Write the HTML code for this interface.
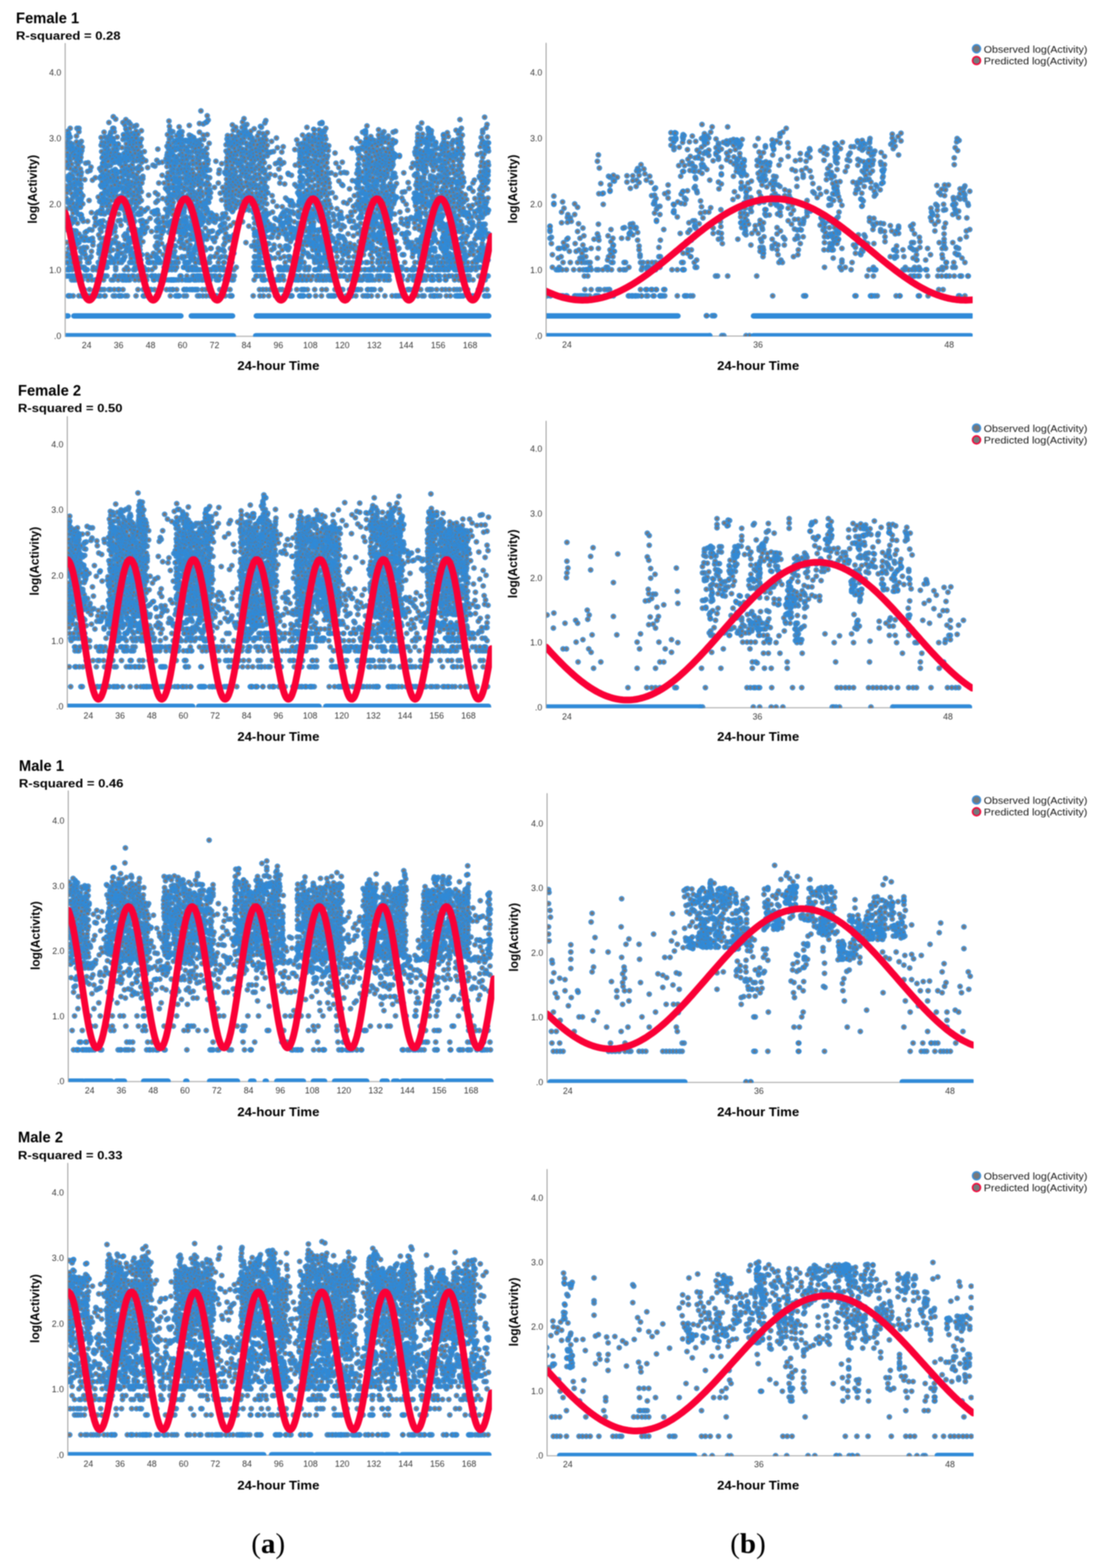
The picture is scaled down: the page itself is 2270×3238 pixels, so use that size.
<!DOCTYPE html><html><head><meta charset="utf-8"><title>Figure</title><style>html,body{margin:0;padding:0;background:#fff;}svg{display:block;filter:blur(1px);}</style></head><body><svg xmlns="http://www.w3.org/2000/svg" width="2270" height="3238" viewBox="0 0 2270 3238">
<defs><marker id="g" markerUnits="userSpaceOnUse" markerWidth="16" markerHeight="16" refX="8" refY="8" overflow="visible"><circle cx="8" cy="8" r="3.6" fill="#7a7270"/></marker><marker id="b" markerUnits="userSpaceOnUse" markerWidth="16" markerHeight="16" refX="8" refY="8" overflow="visible"><circle cx="8" cy="8" r="4.7" fill="none" stroke="#2f8ad8" stroke-width="2.2"/></marker></defs>
<rect width="100%" height="100%" fill="#fff"/>
<g>
<g font-family="'Liberation Sans', Arial, sans-serif">
<text x="33.0" y="48.0" font-size="30.5" font-weight="bold" text-anchor="start" fill="#000" >Female 1</text>
<text x="33.0" y="81.5" font-size="24.4" font-weight="bold" text-anchor="start" fill="#000" textLength="216" lengthAdjust="spacingAndGlyphs">R-squared = 0.28</text>
<line x1="134.6" y1="89" x2="134.6" y2="695.5" stroke="#a0a0a0" stroke-width="2"/>
<line x1="134.6" y1="694.5" x2="1015" y2="694.5" stroke="#a8a8a8" stroke-width="2"/>
<text x="126.6" y="155.8" font-size="18" font-weight="normal" text-anchor="end" fill="#3a3a3a" >4.0</text>
<text x="126.6" y="291.8" font-size="18" font-weight="normal" text-anchor="end" fill="#3a3a3a" >3.0</text>
<text x="126.6" y="427.8" font-size="18" font-weight="normal" text-anchor="end" fill="#3a3a3a" >2.0</text>
<text x="126.6" y="563.8" font-size="18" font-weight="normal" text-anchor="end" fill="#3a3a3a" >1.0</text>
<text x="126.6" y="699.8" font-size="18" font-weight="normal" text-anchor="end" fill="#3a3a3a" >.0</text>
<text x="179.0" y="718.5" font-size="18" font-weight="normal" text-anchor="middle" fill="#3a3a3a" >24</text>
<text x="245.0" y="718.5" font-size="18" font-weight="normal" text-anchor="middle" fill="#3a3a3a" >36</text>
<text x="311.0" y="718.5" font-size="18" font-weight="normal" text-anchor="middle" fill="#3a3a3a" >48</text>
<text x="377.0" y="718.5" font-size="18" font-weight="normal" text-anchor="middle" fill="#3a3a3a" >60</text>
<text x="443.0" y="718.5" font-size="18" font-weight="normal" text-anchor="middle" fill="#3a3a3a" >72</text>
<text x="509.0" y="718.5" font-size="18" font-weight="normal" text-anchor="middle" fill="#3a3a3a" >84</text>
<text x="575.0" y="718.5" font-size="18" font-weight="normal" text-anchor="middle" fill="#3a3a3a" >96</text>
<text x="641.0" y="718.5" font-size="18" font-weight="normal" text-anchor="middle" fill="#3a3a3a" >108</text>
<text x="707.0" y="718.5" font-size="18" font-weight="normal" text-anchor="middle" fill="#3a3a3a" >120</text>
<text x="773.0" y="718.5" font-size="18" font-weight="normal" text-anchor="middle" fill="#3a3a3a" >132</text>
<text x="839.0" y="718.5" font-size="18" font-weight="normal" text-anchor="middle" fill="#3a3a3a" >144</text>
<text x="905.0" y="718.5" font-size="18" font-weight="normal" text-anchor="middle" fill="#3a3a3a" >156</text>
<text x="971.0" y="718.5" font-size="18" font-weight="normal" text-anchor="middle" fill="#3a3a3a" >168</text>
<text x="575.0" y="764.0" font-size="26.5" font-weight="bold" text-anchor="middle" fill="#000" textLength="169.5" lengthAdjust="spacingAndGlyphs">24-hour Time</text>
<text transform="translate(75.6,390.8) rotate(-90)" font-size="26" font-weight="bold" text-anchor="middle" textLength="142" lengthAdjust="spacingAndGlyphs">log(Activity)</text>
<clipPath id="c0L"><rect x="135.6" y="89" width="880.4" height="606.5"/></clipPath>
<g clip-path="url(#c0L)">
<defs><path id="p1" d="M137 298l0 86l0 25l1 92l0-103l0-8l0-44l0 177l0-201l0 152l0-43l0-125l0 28l0 196l0 40l0-28l0-173l0 99l0-11l1-141l0 99l0-122l0 264l0-15l1-178l0-84l0-9l1 195l0-5l0-120l0 270l0-161l0 92l0-123l0-134l1 285l0-13l0-191l0-88l0 235l0-237l0 335l0-238l1 80l0 99l0-247l0 21l0 231l1-31l0-134l0 69l0-2l0-137l0 248l1-189l0-33l0 12l0 57l0 194l0-302l0-14l0-30l0 66l0 37l0 59l0 38l0-182l0 243l0-151l1 158l0-25l1-59l0-62l0 146l1 19l0-213l0 231l0-54l0-104l0-110l0 98l0 75l0 103l0-146l1-117l0 242l0-15l0-82l1-155l0-7l0 65l0 207l1-150l0 113l0-93l0 171l0-205l0 136l0-84l1 120l0-226l0 17l0-58l1 166l0-24l0 36l0-163l0-6l0 60l1 6l0 184l0-74l0-6l0-62l0 64l1-90l0 50l0-62l0 40l0 47l1 8l0 18l0-184l0-10l0 38l0 30l0 201l1-180l0 79l0-123l0 157l1-89l0-115l0 187l0-61l0 5l0 58l0-161l0 222l0-264l0-12l1 123l0-139l0 272l0-166l1-43l0 133l0-69l0 111l0-92l0 90l0-121l1 37l0-95l0-21l0 141l0 110l0-192l0 141l0-161l1 193l1 78l0-128l0-173l0-38l0-7l0 236l1-122l0-48l0 81l0-98l0-2l0 85l1 155l0 18l0-28l0-130l0 14l0-30l0-100l1 149l0-112l0 16l0 184l0-162l0 57l1-12l0-54l0 157l0-202l0 71l0-63l0 118l0-44l0 114l0-132l1-89l0 160l0-8l0-34l0 82l0-136l1-45l0 300l0-122l1-185l0 274l0-26l0-101l0 72l1-119l0 207l0-190l1 36l0 113l1-59l0-15l1 23l0 79l0-46l0 59l1-240l1 186l0-31l0-46l0 16l1-159l0 153l0 67l1 13l0-37l0 24l1-46l0-33l1 92l0-13l1-15l0-85l0-103l1 142l0 115l0-275l0 242l2-164l0 82l0 46l1 28l0-96l0 124l0-65l1-181l0 144l0 115l0-117l1 76l1-225l0 185l1-11l0-80l1 139l0-103l1-103l0 120l1 7l0 7l0 51l0 54l1-59l3 46l0-132l0-16l1-83l0 83l0 148l0-20l1-119l0 152l1-170l0 157l1-41l0 21l2-116l0-24l1 104l0 10l0-145l1 116l0-38l0 126l1-95l0-8l1 90l0-46l0-136l0 126l0-194l0 110l1 61l0 23l0-69l0 138l0-243l0 124l1-33l0-18l0 75l0-133l0 150l0-168l0 192l0-100l0-23l1 89l0-12l0-96l0-115l0-16l0 194l0-125l1 245l0-285l0 73l0-22l0 139l0-38l0 92l0-156l1-57l0-50l0 133l0 125l0-176l0 44l0 86l0-180l0 115l0 129l0-136l1-97l0-13l0 77l1-42l0 25l0 132l0-60l0 96l0-140l0-4l0 60l0-131l1-2l0 46l0 197l0-26l0-143l1 189l0-325l0 253l0-224l0 15l0 175l1-103l0 53l0-45l0 214l0-41l0-205l1 187l0-135l0-123l0 205l0-127l0-43l0-46l0 328l0-270l0 229l1-219l0-43l0 198l0 36l0-19l0-161l0 190l0-51l0-89l0 6l1-99l0 62l0 125l0 46l1-209l0 54l0-14l1 159l0 10l0-227l0 100l0-121l0 65l0 8l0 193l1-92l0-163l0 86l0-116l0 153l0-25l1-70l0 124l0-106l0-28l0 127l0 51l0-24l0-93l0 77l1 40l0-218l0 127l0-110l0 232l0-108l1-79l0 243l0-345l1 224l0 31l0-41l0-4l0-182l1 238l0-196l0 207l0-155l0 131l0-207l0 106l1-15l0-75l0 283l0-56l0-265l0 226l0-136l0 73l0-98l0 110l1-162l0 136l0-153l1 209l0-5l0-63l0 119l0 45l0-193l0 82l0 11l1-149l0 69l0 68l1-175l0 62l0 21l0 85l1-55l0-42l0-35l0-62l0 231l0-104l0-56l0 180l0-230l1 22l0 234l0-112l0 107l0-250l0 160l0 26l0-232l0 370l0-33l0-204l0 30l0-111l1 28l0 13l0 19l0 189l0-277l1 175l0 61l0-229l0 326l0-232l0-51l1 163l0-65l0 157l0-104l0-84l0-82l1 170l0-76l0 217l0-276l0 164l0-149l0 76l0-129l1 99l0-89l0 245l0-198l0-108l0 127l0 184l0 13l0-246l1 165l0-176l0 78l1 14l0-46l0 174l0-179l0 176l0-155l1-67l0 218l0-243l0 73l1 174l0-163l0 149l0-90l0-101l1-28l0 159l0 122l0-280l0 88l0 212l0-207l0 20l0 97l1-188l0 109l0 113l0-39l0-61l0-108l0-3l1 280l0-13l0-278l0 106l1-101l0 53l0 192l0-185l0-47l1 273l0-277l0 94l0 95l0-168l1 156l0-84l0-22l0 50l0-35l1 10l0 35l1-111l0 55l0 202l0-205l0-40l0 22l0 154l1-19l0-218l0 232l0-115l0-92l0 240l0-226l1 44l0 190l0-167l1-158l0 345l0-185l0-125l1 282l0-193l0 129l0 31l0-210l0 70l0-119l0 94l1-55l0 170l0-135l0-72l0 253l0-117l0-23l0 177l0-209l0 217l0-154l0 84l1 49l0-122l0-111l1 25l0 59l0-18l0 140l0-244l0-28l0 76l0 83l0 153l0-252l0 56l1 120l0-11l0-57l0 17l0-85l0-31l0 284l0-271l1-93l0 19l0 183l0 129l0-59l0-64l0-4l1-139l0-6l0 115l0-31l0-30l0 72l0-51l0-84l0 281l0-310l1 284l0-155l0 88l0 31l0-190l1 24l0-75l0 55l0 91l0-135l0 32l0 293l0-98l1-7l0-74l0-16l0-44l1 206l0-148l0-76l0 149l0-108l0 162l0-153l0-73l0 33l0 21l0-65l0 250l1-291l0 99l0 97l0-168l0 185l0-206l0-34l0 242l1-21l0-11l0-118l1 234l0-36l0-277l0 61l0-28l0-6l1-36l0 260l0-126l0 33l0 96l0-204l0 186l1-5l0 30l1-70l0-73l0 18l0-51l0 13l0 179l0-29l0 20l0-101l1 6l0-163l0 101l0 116l0-207l0 132l1-112l0 35l0-19l0 139l0-48l0 34l0 124l1-135l0 55l0-132l0 184l0-19l1-29l0-167l0-36l0 159l0-153l0 36l0 132l0-4l0 62l0-71l1 118l0-13l0-65l0-9l0-86l0 7l0 92l1-130l0 124l0 36l0-217l0-32l0 108l0-124l1 170l0-153l0 70l0 109l1 95l0-174l0 152l0 27l0 21l0-261l1 103l0-135l1-14l0 271l0-9l0 78l0-198l0-118l0 179l1-170l0-45l0 167l0-35l0-30l0 172l0-34l0-167l0 38l0 124l0-209l1 157l0 81l1-24l0-96l0-56l0 166l0 39l0-227l1 205l0 68l0-321l0 293l0-260l0 67l0 134l1 12l0-204l0 76l0 142l0-183l1 126l0-62l0 21l0 4l0 135l0-75l0-20l1-187l0 246l0-174l0-37l0 163l0 39l0-126l0-64l0 40l1 6l0 127l0-8l0-215l1 196l0 68l0-77l0-24l0 114l1-96l0 78l0-230l0 215l0-235l0 173l0 3l0-47l0-116l0 127l0 84l1-239l0 127l0-65l0 208l0-287l0 126l1-18l0-43l0 191l1-61l0 105l0-115l0 7l1-134l0 171l0-135l0 214l0-113l0-96l1 201l0 41l0-13l1-116l0 70l0 59l1-298l0 123l0 121l1-77l0 131l1-177l0 164l0-139l0 98l0-83l1-142l2 246l0-120l0 112l1-100l0 56l1-96l0 103l0-187l0 265l1-54l0-15l1-139l1 139l1 56l1-56l0-91l2 147l0-68l1-52l0 92l1-132l0 132l0-13l2-216l0 201l0 28l1-47l0 55l2-142l0 6l0 156l0-20l1-8l0-227l0 95l0 114l1 18l0-40l0-132l0 110l1-19l0-71l0 108l1 85l0-69l0-86l1-125l0 104l0 36l0 42l0 20l0-56l1-43l0 4l0 63l1-99l0 51l0-145l0 106l0 123l1-77l0 11l0-28l0 63l0 105l0-122l0 44l1 37l0-28l0-206l0 42l1 159l0 41l0-59l1-60l1 11l0 108l1 20l0-106l0 50l1 28l1-67l0-20l0-6l1 101l0-216l0-27l0 235l1-160l0 65l1 51l0-77l0 121l0-112l0 120l1-101l1 75l0-174l0 90l2 84l0-41l1 46l0-125l0 101l0-144l0 189l0-41l1-7l0-14l0-188l1 229l0-142l0 183l0-207l1-25l0-45l0 14l0-33l0 146l0-104l0 115l1-15l0-7l0-71l0-50l0-38l0 131l1-52l0 64l0 41l0-67l0-23l1-65l0 28l0-6l0 138l0-172l0 211l0 24l0-149l0 176l0-49l0 11l0-87l0 146l1-98l0-157l0-73l0 213l1-62l0-114l0-26l0 255l0-127l0 48l0 96l1 9l0-128l0 184l0-121l0-176l0-32l1 237l0-163l0-32l0 267l0-214l0 43l0 204l0-185l0 32l0 94l1-235l0 182l0-226l1 79l0 226l0-207l0-88l0 51l0 143l0 17l1-179l0 263l0-21l0-226l0 125l0 86l1 56l0-196l0 23l0-37l0 23l0-56l0-35l1 258l0-117l0-5l0 142l0-166l0-160l0 171l0 109l1-164l0-30l0 150l0-213l0 26l0 60l0-75l0 97l0 123l0-108l0-69l1 229l0-84l0 29l0-181l1 188l0-133l0 181l0-36l0-207l0 143l1 41l0-67l0-84l0 7l0 133l0-217l0 97l1 120l0-142l0 191l0-264l0 17l0 145l0-52l0-63l1 202l0-172l0 241l0-307l0 69l1 205l0-243l0-10l0-1l1 118l0 36l0 74l0-223l0-49l0 318l1 13l0-203l0-118l0 16l0 70l1 63l0 94l0-175l0 33l0 3l0-7l0-37l1 261l0-133l0 64l0-155l0-33l0-58l1 12l0 64l0 206l0-136l0-65l1-103l0 225l0-211l0-11l0 334l0-197l0-120l0 111l0 65l0-73l0 42l0-107l0-70l1 58l0 153l0-49l0 37l0-94l0 67l0-77l0 18l0-32l1-58l0 102l0 78l0-192l0 297l0-114l1 38l0 17l0-24l0-7l0-171l1 128l0 133l0-268l0 141l0-14l0-48l0 75l1 38l0-55l0-159l0 69l1-53l0 116l0-74l0-66l0 258l0 48l0-75l0-104l0-110l0 28l0 13l1 203l0-127l0-38l0-45l1 33l0 81l0 43l0-2l0-26l1 100l0-70l0-11l0-170l1 310l0-224l0 51l0 160l0-182l0 90l0-28l0-44l1-41l0 159l0-97l0 58l0 85l0-133l0-117l1-9l0 119l0-30l0 102l0 12l0-232l0 165l0-185l1 197l0-110l0 31l0 170l0-26l1-101l0 16l0-112l0 119l0-26l0 94l0-212l0 32l0-41l1-31l0 132l0 40l0-6l0 155l0-242l0 229l1-219l0 219l0-293l0 194l0-144l0 223l0-95l0 87l0-278l1 250l0-214l0 17l0-34l0 102l0 129l0-168l1-10l0 26l0 167l0-154l0 149l0-239l1 203l0-225l0 287l0-237l1 201l0 15l0-91l0 45l0 12l0-175l0 64l1-19l0 31l0-86l0 21l0-100l0 20l0 299l0-255l0-22l0 72l0-7l1-52l0 156l0-182l0 242l0 68l1-104l0-9l0-191l0 138l0 146l0-72l0-88l1-17l0 84l0-12l0-86l1 51l0 99l0-11l0-78l0-11l0-58l0 154l0-252l1 126l0 150l0-63l0-44l0 8l0 140l0-130l0 84l0-79l1-80l0 49l0 26l0-118l0-26l0-21l1 220l0 75l0-233l0 122l0 65l0-179l0-42l0 121l0-28l0-111l0 257l1-104l0 11l0-138l0 218l0-200l1 159l0-219l0 236l0-101l0 28l0-176l0 2l0 98l0 29l1 32l0 125l0-173l0 136l0-10l0 55l0-200l1-87l0 179l0-18l0 61l0 85l0-104l0-88l1-100l0 272l0-21l1-41l0-27l0 53l0 0l0-96l0-21l0-56l0 106l0 8l0 69l1-238l0 199l0-176l0 261l0-90l0-16l0-24l1 89l0-258l0 102l0 169l0-121l0 16l0-103l0 216l0-93l1-14l0-38l0-106l0 86l0 83l0 7l0-41l0 46l0-161l1 223l0 41l0-320l0 30l0 100l0 78l0 99l1-157l0 25l0 91l0-77l0-107l0 78l0-70l0 57l1 27l0 105l0-33l0-24l0-58l0 13l0-101l0 100l1-163l0 192l0-165l0-17l0 264l0-184l0-98l0 130l1-18l0 134l0 28l0-315l0 100l0 171l0-253l0 338l1-78l0-56l0 42l0-11l0-107l0-62l0 126l0 92l1-15l0-100l0-153l0 35l0 53l0 134l0-149l0 25l0 51l1 75l0-70l0-96l0-118l0 265l0 76l0-152l0 35l1-5l0-148l0 71l0 119l0-179l0 152l1 60l0-22l0 5l0-26l0 98l0-182l1 9l0 23l0 170l1-148l0 8l0 153l0-95l0-60l0 31l0 91l0-225l0-37l1 106l0 67l0-109l0-124l0 103l0 198l0-233l0 170l0-215l1 9l0 50l0 113l1 91l0-31l0-164l0-36l1 104l0 74l0-63l0 7l1-69l0 214l0-197l0 106l0-16l1-51l0 150l0-13l0-115l0-78l0-111l0 263l0 82l1-169l0-78l0 1l0-7l0-20l0 74l0 212l1-117l0-188l0-54l0 79l0 83l0-96l0 72l1-151l0 194l0-155l0 98l0-24l0 14l1 176l0 36l0-140l0 18l0-118l0 232l1-162l0-160l0 239l0-71l0-85l0 226l1-139l0-13l0 55l0 18l0-83l1-13l0-86l1 71l0 175l0-9l0 45l0-128l0-99l0 41l1 219l0-54l0-149l0 170l1-65l0 17l0-132l0 172l0-118l1-12l0 158l0-28l0-92l0-35l0 70l1 44l2-114l0 49l0-15l0 134l1-117l1-37l0 113l1-120l0 102l1-165l0 112l0 31l1 27l0-98l0 111l1-18l0 18l0 41l1-121l0-157l1 120l0 104l0-112l0 133l1 33l0-88l2-41l0 96l1-36l0-164l0 102l0 33l1 65l0-220l1-7l0 219l0-37l0 19l1 46l0-28l1-93l0-78l0 53l0 15l0 90l1-80l0 39l1-51l1-52l0-75l0 192l1 68l1-46l0-110l0 8l0 12l0-75l1 170l0-41l1 26l0-36l0-110l0 77l0 125l1-79l0-72l0 110l0-15l1-186l0 201l0-65l0 86l0-117l0 137l1-97l0 69l0-40l0 81l1-13l0-193l0 77l0-41l0-82l1 41l0-101l0 13l0 112l0-9l1-66l0 122l0-81l0-20l0 200l0-190l0-46l1 25l0 71l0-104l0-39l0 55l1-25l0-37l0 209l1-196l0 158l0 127l1-291l0 246l0-178l1 49l0-95l0 67l0 11l0-88l0 96l0 19l0 82l1-7l0-69l1-87l0 265l0-166l0 179l0-248l1 194l0-234l0 47l0 143l0-47l1 76l0-248l0 133l0-45l0-67l1 34l0 262l1-309l0 309l0-269l0-62l0 262l0-19l0 47l0-167l0 175l0-219l1 36l0-67l0 81l0 28l0-179l1 160l0 71l0-54l0-49l0-11l1-106l0 97l0-78l0 290l1-21l0-72l0 38l0-229l0 26l0 140l1-154l0 264l0-221l0-53l0 39l1 78l0-52l1-47l0 15l0-46l0 146l0-47l0 20l1-47l0-92l0 109l1 180l0-129l0-31l1-101l0 29l1 17l0-38l1 117l0-39l1-34l0 23l0-94l0 9l1 29l0 94l1-7l0-66l0 54l1-81l0-10l1 127l0-84l1-62l0 77l0 21l0-9l1-49l0 115l0-51l0-91l1 104l0 14l0-84l0-45l1 66l0-11l0 26l0-95l0 152l1-163l0 172l0-116l0-13l0 163l1-110l1 38l0-114l1 130l0-117l0 29l0-69l0 80l1 109l0-26l1-129l0-19l0 73l0-66l1 85l0 13l0 49l1-38l0 125l0-80l0-62l0-50l0-14l1-22l1 124l0-80l0 28l0-88l1 173l0-46l0-108l0 25l1 107l0-40l0-29l1-13l1 141l0-189l0 74l0 50l0-10l0-29l1 16l0-94l0 149l0-19l1-101l0 7l1-18l0-23l0 142l0-125l1-26l0 69l1 29l0-39l0 52l0-35l1 161l0-154l0-44l0 89l1-108l0-6l1 122l0 9l0-28l0-71l1 294l0-312l0 24l0 14l1 40l0 53l0 122l0-186l0 142l0-69l0 34l1-23l0 92l0 36l0-312l1 65l0 199l0-180l0 149l0-12l0 70l0-96l0 21l0-42l0 117l0-27l1-50l0-69l0 14l0-134l0 146l0 115l1-44l0 34l0-235l0 53l0 22l0 134l1 41l0-77l0-167l0 76l0 181l0-225l0 101l1-76l0 87l0-135l0 128l0-51l1 35l0 136l0-28l0-64l0 79l0-27l1-45l0-157l0 78l0 95l0-57l0-163l0 157l0-139l0 116l1 72l1 21l0-125l0 99l0-60l0 39l0 5l1-106l0-50l0 232l0-77l0-125l0 143l0 69l0-278l0 222l1 61l0-207l0 248l0-309l0 112l0 49l0 66l0 14l0-99l0 102l0-10l0 19l1-153l0 222l0-295l0-12l0 176l1 33l0 3l0-148l0-33l0-11l0 134l0 112l0-309l0 209l1-175l0 192l0-71l0 57l0 69l1-135l0-30l0 122l0-104l0-132l0 196l1 33l0 65l0-129l0 21l1 18l0 111l0-232l0 196l0-48l0-140l0 104l0 45l0-216l1 311l0-135l0-152l0 246l0-281l0 166l0-140l0 27l0 149l1 92l0-200l0 90l0-72l0 97l0 93l0 33l1-69l0-247l0 124l0 27l0 36l0 96l0-139l0 48l1 36l0-187l0-14l0 194l0-13l0-100l0 55l1-83l0 167l0-12l0-17l0-130l0 107l0-209l0 70l0-97l0 104l0 220l0-111l1-57l0-18l0 42l0 18l0 15l1 66l0-225l0 203l0-22l0 34l0-76l0-198l1 228l0-188l0 309l1-177l0 21l0-55l0 57l0-45l1 153l0-230l0 181l0-229l0 26l0 157l0-143l0 51l1 110l0-77l1 135l0-3l0-162l1 243l0-108l0 49l0 5l1-116l0-96l1 129l0-159l0 263l0-115l0 67l1 68l0-238l0 130l1 80l0-102l1 5l0-159l0 219l0 24l0 13l1-54l0-224l1 198l0-20l0-66l1 34l1-22l0 182l0-115l1-170l0 153l1 132l0-92l0 7l0 65l1-101l1-115l0 216l0-45l0-82l1 160l0-273l0 240l1-125l1-168l1 293l0-152l1 47l0-168l1 169l0 16l0-154l1 216l0-97l0 68l1 47l0-221l0 229l1-21l0-74l1-26l0-79l0 179l0 41l0-268l0 248l0-70l1 25l0-166l0 185l1-87l0-18l1-108l1-25l0 134l0 122l0-13l1 41l0-82l0-74l0-15l1 34l0 14l0-8l0-4l1-160l0 254l0 13l1-132l0 173l0-275l0 242l1-21l0-27l0-47l0-43l1-60l0 172l1-10l1-34l0 44l0-79l0-14l0 23l0-73l1 38l0 164l0-153l1-24l0 16l0 63l0-24l1 68l0-72l0 9l0 14l1 44l0-139l1 103l0-59l0-99l1 172l0-77l0-93l1 76l0 75l0-63l0 15l1 67l0-63l0-51l0 121l1 74l0-13l0-159l1 16l0-40l0 65l0 19l0-75l1 154l0-105l0 84l1-63l0-11l0 128l0-249l0 53l1 155l0-97l0 138l1-174l0 37l1-53l0 157l0-89l0-18l0 71l1-117l0 50l1 82l0-116l0 49l1-32l0 112l1-189l0-72l1 164l0-132l0 229l0-18l0 5l1-70l0 32l0 59l1-8l0-93l0 29l1 27l0-148l0 95l0 3l0 115l0-309l1 253l0-65l1 19l0-98l0 180l0-26l1-254l0 196l0-70l0 22l0 15l0-24l1 141l0-21l0-90l0-66l0 21l0 26l1 89l0-26l0-48l0-47l0 136l0-149l0-67l0 58l1 105l0-156l0-30l0 14l0 169l0 115l0-193l1 152l0-28l0-167l0 72l0 54l0-181l0 90l0-103l0 77l0-18l0-11l0 47l1-79l0 247l0-18l0-199l0 90l0 168l0-246l1 39l0 12l0-119l0 245l0-9l0-149l0 47l1 167l0-20l0-264l0 103l0 194l0-200l0-41l1-16l0 28l0 101l0-8l1-89l0-107l0 227l0-139l0 159l0-193l0-16l1 281l0 13l0-92l0-98l0 157l0-243l0 181l0-220l0 111l1-101l0 305l0-92l1 23l0-143l0 171l0-71l0-147l1-26l0 6l0 73l0 193l0-136l0-44l0 10l1 129l0-145l0-73l0-51l0 182l0-172l1 124l0 26l0-134l0 123l0 115l1 26l0-144l0 65l0-60l0-84l0 135l0-116l1 20l0 19l0 64l0-162l0-3l1 28l0 238l0-72l0-103l0-24l0-71l0-45l1 226l0 34l0-198l0 97l0 10l0-131l0 152l0 145l0-205l1-45l0 13l0-80l0 133l0-41l1 197l0-236l0-46l0 238l0 85l0-122l0 68l1-27l0-251l0 168l0-129l0 126l0 8l0 100l1-185l0 134l0-208l0 318l0-306l1 185l0-20l0-40l0 69l0-16l0-5l0-75l0-18l1 85l0 5l0-15l0-122l0 103l0 62l0-191l1 48l0 218l0-247l0 20l0 152l1-93l0 58l0-26l1-44l0-54l0 98l0 25l0 3l0-19l0 57l0-90l0-45l1 128l0-112l0-89l0-8l0 152l0 86l1 40l0-125l0-162l0 190l0 43l1-51l0-145l0-11l0 26l0 98l0 37l1-67l0-44l0 100l0-192l0 220l0-38l0 57l1-12l0-217l0-9l0 209l1-80l0 136l0-58l0-106l0 188l0-174l0 26l0-63l0 191l0-96l0 157l0-92l0 36l1-213l0-14l0-28l0 6l0 131l1 92l0 95l0-54l0-51l0-65l0-119l0 177l1-69l0 73l0-60l1 135l0-276l0 122l0 92l0-115l0-61l1 183l0-112l0-48l0-15l0 4l0 205l0-20l0-95l1 84l0 44l0-83l0-139l0-6l1 20l0 40l0 106l0-16l0 78l0-28l0-149l0-9l0 91l0-120l1-22l0 85l0-122l0 182l0-161l0 58l0-65l0-25l0 167l0-42l0-107l0 223l1-258l0 302l0-292l0 218l0-66l1 25l0-168l0 265l0-36l0 62l0-103l1 82l0-101l0 96l0-297l0 67l0 48l1 124l0 48l0-196l0 144l0-40l1 61l0-3l0 8l0-110l0 127l0-135l1-63l0-62l0 297l0-209l0 91l0-33l0 192l0-303l0 244l0-271l0 230l0-217l1 239l0-180l0 184l0-24l0 85l0-343l0 220l0-42l0-117l0 63l0 63l0-189l0 250l1 30l0-97l0 142l0-75l0-112l0-104l0 184l1-141l0-59l0 153l0-122l0 159l0-23l1-69l0 164l0-34l1 79l0-75l0-20l0-41l1-171l0 281l0-84l0-68l0-57l0-22l0-11l0 73l0 128l1 12l0-7l0 54l0-113l0-176l0 134l1 111l0-134l0 67l0-161l1 201l0-69l0 60l0-15l0 12l0-222l0 92l0-70l0 255l0-176l0 10l1 222l0-90l0 70l0-273l0 214l0-96l0 83l0 27l0-39l1-37l0-130l0 78l0-69l1 11l0 186l0-77l0 7l0-19l1 108l0 18l0-28l0-85l0-135l0 146l1-157l0 212l0-7l0-146l0 101l0-20l1 101l0-84l0-29l0 103l0-241l0 57l0 253l0-59l0-138l1-36l0 21l0-12l0 80l0 49l1-94l0 36l0 41l0 20l0 51l0-28l0 36l0-101l2 65l0 69l0-41l0-78l0 65l0-70l1-58l0-72l0 221l2-82l0-98l0 118l0 95l1-95l0 62l1-86l0-50l1 169l0-98l0-67l1 132l0-21l0-102l1 156l1-295l0 262l0 20l0-131l1 34l0 10l0-150l0 47l1-71l0 176l1-12l0 18l0 33l1-10l0-12l0-99l1 167l0-133l1-4l1 26l1 83l0-126l0-98l0 146l0-118l0 129l1-16l1-36l0 160l1-41l1-96l0 124l0-241l0 200l0-112l0 5l0-12l1 81l0 23l0-52l0 23l1-132l1-46l0 130l0-14l0 86l1-154l0 106l0 109l1-28l0-44l1-18l0-90l1 50l0 55l0-29l0-138l1 214l0-54l0-10l1-7l1 53l1 59l0-54l1-200l0 154l1 12l0-103l0 122l1 36l0-21l0-109l1 35l1 128l0-92l0 11l1 27l1-167l0 208l0-56l0-85l1 46l0 67l0-157l1 43l0 155l0-13l0-87l1-73l1 7l1-139l0 246l0 59l1-33l0-8l0-100l0-97l1 184l0-44l0 85l0-28l0-28l1 36l0-91l0 83l0-113l0-31l1 104l1-126l0 102l0 64l1-134l0 162l1-224l0 224l0-127l1 71l0 69l0-92l1-53l0-44l1-64l0 30l0-102l1 292l0-267l0-4l0 223l0-152l1 220l0-61l0-112l0-85l0 142l0-131l0 247l1-87l0 22l0-133l0-24l0 6l0-70l0 156l0-53l0-45l1 60l0-112l0 30l0 7l0 187l0 28l0-120l0-112l0-10l0 77l1 94l0-110l0-26l1 59l0 156l0-48l0 7l0-4l1-240l0 237l0 12l0-236l1 128l0 15l0-4l0 16l0 96l0-38l0 79l1-120l0-67l0 131l0-143l1-75l0 254l0-104l0 15l0 27l0-143l0 76l0-8l1-86l0 137l0-65l0 151l0-211l0-59l0 90l1-125l0 240l0-124l0 27l1 195l0-309l0 66l0 128l0-128l0 47l0-16l1 107l0-94l0 114l1-195l0 239l0-170l0 90l0-149l0 229l1-54l0-245l0 24l0 262l0-146l0-16l1-22l0 4l0 55l0 50l1 129l0-306l0-32l0-3l0 108l0 179l0-127l0-80l0-73l0 145l1-108l0 47l0 6l0 146l0 29l0-139l0-116l0 7l0 177l0-58l0 86l0-197l0 22l1 17l0 229l0-284l1 64l0-90l0 180l0-146l0 212l0-29l0 101l0-206l1 239l0-283l0 33l0 55l0-31l0 157l0 56l1-106l0 119l0-254l0 45l0-65l0-40l0 86l1 128l0 46l0-153l0 194l0-210l0 190l0-8l1-152l0-111l0 128l0-39l0 37l0-113l1 10l0 122l0-88l0 9l0-33l0-44l0 189l0-101l0 43l0-24l0 98l0-147l1 157l0-8l0-58l0 125l0 8l0-117l0-22l0 32l0 86l1-31l0-90l0 16l0-140l0-23l0 281l1 28l0-316l0 275l0-49l0 5l1 57l0-159l0 200l0-266l0-20l0 68l1 53l0-158l0 12l0 187l0-66l0 121l0-80l0-28l1 85l0 59l0-150l0-44l0 214l0-65l0-177l0-22l0 172l1-47l0 19l0-111l0 36l0 149l1-87l0-90l0-61l0 127l0-133l0 175l0 13l0-145l1 206l0-105l1-162l0 99l0 96l0-14l0 127l0-109l1 89l0-119l0-17l0-30l1-90l0 21l0-47l0 78l0 6l0-42l0 83l0-23l0 52l1-91l0 133l0 27l0-137l0 77l1 54l0-109l1-92l0 64l0 71l0-117l0 90l0 41l0 29l0-40l0-95l0 37l1 40l0-50l0 110l0-122l0-68l1 240l0 15l0 13l0 41l0-263l0-8l0 72l1 114l0-206l0 179l0-139l0 177l1-138l0 127l0-59l0-174l0-14l0 203l0-214l1 19l0 193l0-55l0 153l0-131l1-113l0 182l0 54l0-243l0 225l1-113l0-22l0 153l0-100l0 56l0-154l0-20l0 137l0-82l0-63l0 141l1-175l0 288l0-41l0-15l0-60l0-117l0 131l0-11l0 7l1-44l0-150l0 134l0-116l1 81l0-12l0-93l0 211l0-55l1 85l0-175l0 92l0 11l0 7l0-130l0 232l0-119l0-129l1 118l0-156l0 198l0-59l0-11l0 41l0-63l0 162l0-276l1 207l0-152l1 221l0-56l0-122l0-67l0 73l0 94l0-130l1 169l0-48l0-193l0 89l1 131l0 86l0-224l0 48l0 117l0-87l1 110l0-155l0 136l0 47l0-285l0 326l0-290l0 185l0-213l0 210l1 30l0-32l0-133l0 50l0-84l0 74l0 58l0-126l1 230l0-71l0-172l0-13l0 137l0 7l1 4l0-66l0 107l1 54l1-89l0-110l0-9l0 229l0-214l0 38l0 36l1 36l0-89l0-78l0 189l0 30l0-111l0 36l0-165l0 158l0-121l0 247l1-57l0-87l0-145l0 169l0 107l0-27l1-121l0 133l0 10l0-256l0 215l0-70l0-105l0 7l0 227l0-150l1 158l0-113l0 92l0-15l0-74l0-32l1-3l0-104l0-14l0 132l0 28l0 77l1-160l0-13l0 124l0 8l0 46l0-105l1-15l0 62l0-95l0-54l0 156l0 27l1-118l0 115l0-227l1 239l0-219l0 154l0-48l0-44l0-76l0 60l0 73l1 115l0 54l0-267l1 208l0-154l0 159l0-82l0-141l0-45l0 8l1 222l0-203l0 47l0 145l0-117l0-118l0 67l0 19l1 108l0 90l0-230l0 39l0 55l0-104l1 100l0 91l0 49l1-172l0 57l0-84l0 47l1 7l0 68l0-186l0 30l0-5l0 207l0-61l0 77l1-176l0 42l0-86l0-51l0 340l0-319l1 207l0 43l0 15l1-150l0-28l0 29l1 134l0 69l1-95l0-42l3 39l0 98l1-290l0 2l1 115l1 114l0 18l1-13l1-97l0-8l1 126l0-169l0 202l0-59l0 18l0-87l0 115l1-72l0-129l0 173l1-87l1-68l1 48l0-106l0 169l2 16l0-50l0-96l1 87l1 18l1-79l0 135l0-65l1-40l1 7l0 98l0-77l1-13l0 111l0-67l0 87l0-164l1-57l0 122l0-38l1 21l1-93l0 209l0-90l1 62l0 28l1-146l0 51l1 5l1-59l1 108l0-211l1 211l0-56l0 110l1-81l0-14l1 54l0-47l0-186l0 261l1-82l0 41l0 21l0-127l0 147l1-46l0 5l0 21l0-168l1 50l0-98l0 37l1-85l0 94l0 100l0 34l0-71l1-152l0 106l0-8l0-4l0 106l0-178l0 237l1-8l0-171l0-17l0 131l0-154l0-53l1 141l0-43l0 112l0-99l1 79l0-181l0 86l0 42l0-35l0-72l0 117l0 117l0 28l0-164l0-58l0 76l1-84l0-76l0 98l0 188l0-160l0-92l0 33l0-55l1-6l0 313l0-334l0 7l1 58l0-79l0 86l0 152l0 56l0-173l1 61l0-5l0 26l0-24l0 115l0-15l1-46l0-22l1 37l0 12l0-120l0-86l0 131l0-37l0 19l0 100l1 3l0-14l0-253l0 45l0-20l0 266l1-190l0 89l0 70l0-228l0 81l0 219l0-265l0 56l1 16l0 87l0-158l0 244l0-8l0-64l0-91l1-124l0 30l0 202l0-269l0 121l0-26l0 140l0-84l0 2l0 11l1 22l0 171l0-327l0 113l0 181l0-251l0 131l0-138l1 23l0 137l0-203l0 147l0 75l0-162l1-24l0 100l0 74l0 91l1-192l0-19l0 107l0-121l0 137l0-17l1-182l0 235l0-49l0-102l0 236l0-41l0-57l1 6l0 51l0-113l0-98l0 103l0 34l1-101l0-64l0-37l0 207l0 18l1-52l0 66l0-114l0 159l0-110l0-28l0-10l0-83l1 205l0-245l0 102l0-68l0-22l0 200l0 33l1-264l0 112l0-75l0 186l0-157l0 30l0 61l0-149l1 17l0 65l1-76l0 153l0 115l0-238l0 266l0-291l0 88l0-110l0 27l0 153l1 92l0-292l1 158l0-1l0-152l0 260l0-252l0 20l0 244l0-16l1-102l0-157l0 153l0-3l1-102l0 12l0 230l0-38l0-127l1-79l0 285l0-217l0 122l0 95l1-197l0-38l0 105l0-180l0 133l0-53l0-55l1-35l0 333l0-336l0 241l0-177l0 43l0-60l0-34l0 254l0-105l1 50l0-217l0 158l0 150l0-8l1-239l0 170l0-95l0-34l0-73l0-11l0 95l0 215l1-61l0-220l0 150l0 46l0-202l0 102l0 117l0-111l0-76l0 57l0 34l0 65l0 79l1-293l0 285l0-118l0-60l0 124l0 26l1-81l0 16l0 101l0 33l0-246l0 246l0-69l0-190l1-27l0 232l0-67l0 26l0-64l1 35l0-25l0 30l1-154l0 181l0-36l0-108l0-43l0 123l0-155l0 311l0-98l1-17l0-88l0 144l0-118l0 60l0 117l0-161l1-156l0 2l0 22l0-11l0 113l0-52l1 189l0-113l0-50l0 48l1-98l0 189l0 65l0-212l0 50l1-9l0 23l0 80l1-75l0 115l0-165l0 152l0-144l0 44l0 154l0-278l1 168l0-124l0 165l0-236l0 264l1 8l0-157l0-59l0 190l0-107l0-12l1 33l0-116l0-22l0 202l1-199l0 142l0 105l0-212l0 86l0-43l0 161l0-250l1 291l0-54l0-131l1 116l0-95l1-53l0 16l0 20l0-8l0-77l0 106l0-76l0 75l0 61l0-147l0-34l0 178l0-41l0-9l1 84l0-100l0 71l0-204l0 122l0 17l1-149l0 4l0 37l0 258l0-280l0 183l0-107l0 7l0-48l0 62l1 31l0 24l0 22l0-70l0 41l0 89l0-205l1 115l0 27l0-101l0 19l1 126l0-43l0 62l0-258l0 205l0 20l0 38l0-277l0 200l0-112l0-90l1 207l0 26l0-224l0 214l0-187l1 44l0-51l0 72l1-41l0-16l0 165l0 29l0 26l0 15l0 13l0-238l0 194l0-115l0 54l1-164l0 297l0-165l0 38l0-48l0 93l0 62l1-55l0-127l0 182l0-65l0-166l1 169l0-20l0 5l0-115l0 225l0-237l0-13l1 172l0-131l0 124l0-86l0 66l1-90l0 52l0-116l0-56l0 234l0-162l0-64l0 248l0 5l0-46l0-237l0 204l1-15l0 79l0-219l0 87l0-74l0 92l1 78l0-224l0 217l0-185l0 163l0 8l0-10l0 82l1-92l0 105l0-192l0 116l0-72l1 115l0-62l0-2l0-77l0 174l0-47l0 29l0 46l0-240l1 125l0-155l0 114l0 23l0-32l1 178l0-292l0 184l0-87l0-45l0 128l0-58l1 51l0 50l0-198l0 106l0 76l0 4l0-210l0 232l1-147l0 40l0 97l0-90l0-69l0 75l1 16l0 20l0 58l0-253l0 212l1-41l0-79l0 66l0-163l0 276l1-120l0-142l0 15l0 118l0-65l0 157l0-184l0 79l1-32l0 96l0-202l0 43l1 149l0-112l0 182l0-195l0 91l0-30l0-76l0 69l0 50l0 72l1-20l0 85l0-281l0 225l0-104l0 21l1-55l0 153l0-58l0 79l1-26l0-72l0-30l0 28l0 45l0-15l1-45l0 79l0-95l0 110l0-232l0 286l0-95l1 54l0-180l0 38l0-66l0 14l0 91l0-198l1 45l0 5l0 238l0-63l0-104l0-78l1 196l0 90l0-145l0-74l0 88l0 144l0-259l0-58l0 107l0 169l1-257l0 298l0-78l0-10l0-10l0 17l0-242l0 120l0-27l1-6l0 45l0-90l0 200l0-234l1 46l0 269l0-335l0 281l0-31l0-164l0-57l1 201l0 5l0-66l0 133l0-187l0 122l0 44l1-91l0-52l0 11l0-155l0 205l0 136l0-177l0 44l0-161l1 33l0-103l0 351l0-264l0 70l0-35l0 164l1 78l0-325l0 13l0 158l0 95l1-33l0-141l0 233l0-317l0 17l0 259l1-78l0 41l0-191l0 164l0-108l0-133l1 238l0-65l0 35l0-147l0 139l0 92l0-65l0-72l0-63l1-78l0 26l0 105l0-25l0 226l1-131l0 10l0 29l0 23l0-223l1 111l0-63l0 7l0 237l0-168l0 99l1 10l0-19l0 24l0-140l0 113l0-17l0-137l1 166l0 36l0-140l1 95l0-89l0 75l0 38l0-31l1 72l0-20l0-176l1 90l0-53l0 62l1 29l0 27l0-116l1 137l0-108l0 5l0-63l1 158l0-83l0 70l1-15l0 10l0-102l0 148l1-41l0-117l0 35l1-27l0-23l0 17l1 35l0 93l0 8l0-189l0 137l1 85l0-152l0 47l1-31l0 3l0-90l1 43l0 180l0-54l0-38l1-16l0 54l1-109l0 65l1-42l0-8l0 89l1-10l0-118l0 35l0 152l1-33l0-183l0 121l0-138l1 148l0-23l0-37l2 145l0-239l1 65l0 3l0 54l0-84l1 96l0 31l1 20l0-5l1-67l0 57l1-94l0 163l0-191l0 113l1-43l0-171l1 200l0-85l1 103l0-57l0 118l0-132l1 104l0-100l0-18l0 78l1-69l0-59l0 88l0 62l0-70l0 3l0-2l0-119l1 63l0-60l0 43l0 8l0 19l0 76l0-122l0 42l1 93l0-223l1 249l0-209l0 12l0 243l0-68l1-214l0 169l0 38l0 3l0-82l0-58l0 61l0 90l0-24l0-229l1 50l0-38l0 77l0 92l0 8l0-69l1 73l0 93l0-67l0-54l0 59l1 44l0 26l0-86l0-64l0-64l0 16l0-89l0 307l0-108l0-12l0-153l0 169l0-220l0-5l1 211l0-17l0 70l0 45l0-112l0-71l1 121l0-162l0 56l0 142l1-72l0-162l0 252l0-28l0-9l1-55l0-141l0 274l0-69l0-119l0 110l0-117l0-43l0-131l0 196l0 4l0-141l0 212l0-168l1 40l0 138l0 47l0-263l0 271l0-115l0-104l0 174l0-59l1 137l0-316l0 71l0 63l0 90l0 51l0-148l1-72l0 180l0-154l0 157l0-269l0 46l1 260l0-153l1 181l0-237l0-104l0 226l0 43l0-149l1-82l0-12l0 156l0-134l0 128l0 178l0-221l1-38l0 3l0 151l0 31l0-231l0 103l0 80l0-116l0-38l0 27l0 208l1-258l0 171l0 128l0-316l0 139l0-93"/></defs>
<use href="#p1" fill="none" stroke="none" marker-start="url(#g)" marker-mid="url(#g)" marker-end="url(#g)"/>
<use href="#p1" fill="none" stroke="none" marker-start="url(#b)" marker-mid="url(#b)" marker-end="url(#b)"/>
<line x1="136.7" y1="693.3" x2="482.0" y2="693.3" stroke="#2f8ad8" stroke-width="11.2" stroke-linecap="round"/>
<line x1="528.2" y1="693.3" x2="1009.5" y2="693.3" stroke="#2f8ad8" stroke-width="11.2" stroke-linecap="round"/>
<line x1="136.7" y1="652.4" x2="140.5" y2="652.4" stroke="#2f8ad8" stroke-width="11.2" stroke-linecap="round"/>
<line x1="152.6" y1="652.4" x2="373.7" y2="652.4" stroke="#2f8ad8" stroke-width="11.2" stroke-linecap="round"/>
<line x1="395.1" y1="652.4" x2="480.4" y2="652.4" stroke="#2f8ad8" stroke-width="11.2" stroke-linecap="round"/>
<line x1="529.4" y1="652.4" x2="1009.5" y2="652.4" stroke="#2f8ad8" stroke-width="11.2" stroke-linecap="round"/>
<polyline points="134.6,439.7 136.1,444.9 137.5,450.5 139.0,456.5 140.5,462.6 141.9,469.1 143.4,475.8 144.9,482.6 146.3,489.7 147.8,496.8 149.3,504.1 150.7,511.4 152.2,518.7 153.7,526.0 155.1,533.2 156.6,540.4 158.1,547.4 159.5,554.3 161.0,561.0 162.5,567.4 163.9,573.6 165.4,579.5 166.9,585.1 168.3,590.4 169.8,595.3 171.3,599.8 172.8,603.9 174.2,607.6 175.7,610.8 177.2,613.5 178.6,615.8 180.1,617.6 181.6,618.8 183.0,619.6 184.5,619.9 186.0,619.6 187.4,618.8 188.9,617.6 190.4,615.8 191.8,613.6 193.3,610.8 194.8,607.6 196.2,604.0 197.7,599.9 199.2,595.4 200.6,590.5 202.1,585.2 203.6,579.6 205.0,573.7 206.5,567.5 208.0,561.0 209.4,554.4 210.9,547.5 212.4,540.5 213.8,533.3 215.3,526.1 216.8,518.8 218.2,511.5 219.7,504.2 221.2,496.9 222.6,489.8 224.1,482.7 225.6,475.9 227.0,469.2 228.5,462.7 230.0,456.5 231.4,450.6 232.9,445.0 234.4,439.8 235.8,434.9 237.3,430.4 238.8,426.3 240.2,422.6 241.7,419.4 243.2,416.7 244.7,414.5 246.1,412.7 247.6,411.4 249.1,410.7 250.5,410.4 252.0,410.7 253.5,411.5 254.9,412.7 256.4,414.5 257.9,416.8 259.3,419.5 260.8,422.7 262.3,426.4 263.7,430.5 265.2,435.0 266.7,439.9 268.1,445.2 269.6,450.8 271.1,456.7 272.5,462.9 274.0,469.4 275.5,476.1 276.9,482.9 278.4,490.0 279.9,497.1 281.3,504.4 282.8,511.7 284.3,519.0 285.7,526.3 287.2,533.5 288.7,540.7 290.1,547.7 291.6,554.5 293.1,561.2 294.5,567.7 296.0,573.9 297.5,579.8 298.9,585.4 300.4,590.6 301.9,595.5 303.3,600.0 304.8,604.1 306.3,607.7 307.7,610.9 309.2,613.6 310.7,615.9 312.1,617.6 313.6,618.9 315.1,619.6 316.5,619.9 318.0,619.6 319.5,618.8 321.0,617.5 322.4,615.7 323.9,613.5 325.4,610.7 326.8,607.5 328.3,603.8 329.8,599.7 331.2,595.2 332.7,590.3 334.2,585.0 335.6,579.4 337.1,573.5 338.6,567.2 340.0,560.8 341.5,554.1 343.0,547.2 344.4,540.2 345.9,533.0 347.4,525.8 348.8,518.5 350.3,511.2 351.8,503.9 353.2,496.6 354.7,489.5 356.2,482.5 357.6,475.6 359.1,468.9 360.6,462.5 362.0,456.3 363.5,450.4 365.0,444.8 366.4,439.6 367.9,434.7 369.4,430.2 370.8,426.1 372.3,422.5 373.8,419.3 375.2,416.6 376.7,414.4 378.2,412.6 379.6,411.4 381.1,410.6 382.6,410.4 384.0,410.7 385.5,411.5 387.0,412.8 388.4,414.6 389.9,416.9 391.4,419.6 392.9,422.9 394.3,426.6 395.8,430.7 397.3,435.2 398.7,440.1 400.2,445.4 401.7,451.0 403.1,456.9 404.6,463.2 406.1,469.6 407.5,476.3 409.0,483.2 410.5,490.3 411.9,497.4 413.4,504.7 414.9,512.0 416.3,519.3 417.8,526.6 419.3,533.8 420.7,540.9 422.2,548.0 423.7,554.8 425.1,561.5 426.6,567.9 428.1,574.1 429.5,580.0 431.0,585.6 432.5,590.8 433.9,595.7 435.4,600.2 436.9,604.2 438.3,607.8 439.8,611.0 441.3,613.7 442.7,615.9 444.2,617.7 445.7,618.9 447.1,619.6 448.6,619.9 450.1,619.6 451.5,618.8 453.0,617.5 454.5,615.6 455.9,613.4 457.4,610.6 458.9,607.3 460.3,603.6 461.8,599.5 463.3,595.0 464.8,590.1 466.2,584.8 467.7,579.1 469.2,573.2 470.6,567.0 472.1,560.5 473.6,553.8 475.0,546.9 476.5,539.9 478.0,532.7 479.4,525.5 480.9,518.2 482.4,510.9 483.8,503.6 485.3,496.3 486.8,489.2 488.2,482.2 489.7,475.3 491.2,468.7 492.6,462.2 494.1,456.0 495.6,450.2 497.0,444.6 498.5,439.4 500.0,434.5 501.4,430.0 502.9,426.0 504.4,422.4 505.8,419.2 507.3,416.5 508.8,414.3 510.2,412.6 511.7,411.3 513.2,410.6 514.6,410.4 516.1,410.7 517.6,411.5 519.0,412.9 520.5,414.7 522.0,417.0 523.4,419.8 524.9,423.0 526.4,426.7 527.8,430.8 529.3,435.4 530.8,440.3 532.2,445.6 533.7,451.3 535.2,457.2 536.6,463.4 538.1,469.9 539.6,476.6 541.1,483.5 542.5,490.5 544.0,497.7 545.5,505.0 546.9,512.3 548.4,519.6 549.9,526.9 551.3,534.1 552.8,541.2 554.3,548.2 555.7,555.1 557.2,561.8 558.7,568.2 560.1,574.4 561.6,580.2 563.1,585.8 564.5,591.0 566.0,595.9 567.5,600.3 568.9,604.4 570.4,608.0 571.9,611.1 573.3,613.8 574.8,616.0 576.3,617.7 577.7,619.0 579.2,619.7 580.7,619.9 582.1,619.5 583.6,618.7 585.1,617.4 586.5,615.6 588.0,613.2 589.5,610.5 590.9,607.2 592.4,603.5 593.9,599.3 595.3,594.8 596.8,589.9 598.3,584.6 599.7,578.9 601.2,573.0 602.7,566.7 604.1,560.2 605.6,553.5 607.1,546.6 608.5,539.6 610.0,532.4 611.5,525.2 613.0,517.9 614.4,510.6 615.9,503.3 617.4,496.0 618.8,488.9 620.3,481.9 621.8,475.0 623.2,468.4 624.7,462.0 626.2,455.8 627.6,449.9 629.1,444.4 630.6,439.1 632.0,434.3 633.5,429.9 635.0,425.8 636.4,422.2 637.9,419.1 639.4,416.4 640.8,414.2 642.3,412.5 643.8,411.3 645.2,410.6 646.7,410.4 648.2,410.7 649.6,411.6 651.1,412.9 652.6,414.8 654.0,417.1 655.5,419.9 657.0,423.2 658.4,426.9 659.9,431.0 661.4,435.6 662.8,440.5 664.3,445.8 665.8,451.5 667.2,457.4 668.7,463.7 670.2,470.2 671.6,476.9 673.1,483.8 674.6,490.8 676.0,498.0 677.5,505.3 679.0,512.6 680.4,519.9 681.9,527.2 683.4,534.4 684.8,541.5 686.3,548.5 687.8,555.4 689.3,562.0 690.7,568.4 692.2,574.6 693.7,580.5 695.1,586.0 696.6,591.2 698.1,596.1 699.5,600.5 701.0,604.5 702.5,608.1 703.9,611.3 705.4,613.9 706.9,616.1 708.3,617.8 709.8,619.0 711.3,619.7 712.7,619.9 714.2,619.5 715.7,618.7 717.1,617.3 718.6,615.5 720.1,613.1 721.5,610.3 723.0,607.0 724.5,603.3 725.9,599.2 727.4,594.6 728.9,589.6 730.3,584.3 731.8,578.7 733.3,572.7 734.7,566.5 736.2,560.0 737.7,553.3 739.1,546.4 740.6,539.3 742.1,532.1 743.5,524.9 745.0,517.6 746.5,510.3 747.9,503.0 749.4,495.7 750.9,488.6 752.3,481.6 753.8,474.8 755.3,468.1 756.7,461.7 758.2,455.6 759.7,449.7 761.2,444.1 762.6,438.9 764.1,434.1 765.6,429.7 767.0,425.7 768.5,422.1 770.0,419.0 771.4,416.3 772.9,414.1 774.4,412.4 775.8,411.3 777.3,410.6 778.8,410.4 780.2,410.8 781.7,411.6 783.2,413.0 784.6,414.8 786.1,417.2 787.6,420.0 789.0,423.3 790.5,427.0 792.0,431.2 793.4,435.8 794.9,440.7 796.4,446.1 797.8,451.7 799.3,457.7 800.8,463.9 802.2,470.4 803.7,477.2 805.2,484.1 806.6,491.1 808.1,498.3 809.6,505.5 811.0,512.9 812.5,520.2 814.0,527.5 815.4,534.7 816.9,541.8 818.4,548.8 819.8,555.7 821.3,562.3 822.8,568.7 824.2,574.9 825.7,580.7 827.2,586.2 828.6,591.4 830.1,596.3 831.6,600.7 833.1,604.7 834.5,608.3 836.0,611.4 837.5,614.0 838.9,616.2 840.4,617.9 841.9,619.0 843.3,619.7 844.8,619.9 846.3,619.5 847.7,618.6 849.2,617.3 850.7,615.4 852.1,613.0 853.6,610.2 855.1,606.9 856.5,603.2 858.0,599.0 859.5,594.4 860.9,589.4 862.4,584.1 863.9,578.4 865.3,572.5 866.8,566.2 868.3,559.7 869.7,553.0 871.2,546.1 872.7,539.0 874.1,531.8 875.6,524.6 877.1,517.3 878.5,510.0 880.0,502.7 881.5,495.5 882.9,488.3 884.4,481.3 885.9,474.5 887.3,467.9 888.8,461.5 890.3,455.3 891.7,449.5 893.2,443.9 894.7,438.7 896.1,433.9 897.6,429.5 899.1,425.5 900.5,422.0 902.0,418.8 903.5,416.2 904.9,414.1 906.4,412.4 907.9,411.2 909.4,410.6 910.8,410.4 912.3,410.8 913.8,411.7 915.2,413.1 916.7,414.9 918.2,417.3 919.6,420.1 921.1,423.4 922.6,427.2 924.0,431.4 925.5,436.0 927.0,441.0 928.4,446.3 929.9,452.0 931.4,457.9 932.8,464.2 934.3,470.7 935.8,477.4 937.2,484.4 938.7,491.4 940.2,498.6 941.6,505.8 943.1,513.1 944.6,520.5 946.0,527.7 947.5,535.0 949.0,542.1 950.4,549.1 951.9,555.9 953.4,562.6 954.8,569.0 956.3,575.1 957.8,580.9 959.2,586.5 960.7,591.6 962.2,596.4 963.6,600.9 965.1,604.8 966.6,608.4 968.0,611.5 969.5,614.1 971.0,616.3 972.4,617.9 973.9,619.1 975.4,619.7 976.8,619.8 978.3,619.5 979.8,618.6 981.3,617.2 982.7,615.3 984.2,612.9 985.7,610.1 987.1,606.8 988.6,603.0 990.1,598.8 991.5,594.2 993.0,589.2 994.5,583.9 995.9,578.2 997.4,572.2 998.9,565.9 1000.3,559.4 1001.8,552.7 1003.3,545.8 1004.7,538.7 1006.2,531.5 1007.7,524.3 1009.1,517.0 1010.6,509.7 1012.1,502.4 1013.5,495.2 1015.0,488.0" fill="none" stroke="#fa0036" stroke-width="14" stroke-linejoin="round" stroke-linecap="round"/>
</g>
<line x1="1128" y1="88.6" x2="1128" y2="695.0" stroke="#a0a0a0" stroke-width="2"/>
<line x1="1128" y1="694.0" x2="2008" y2="694.0" stroke="#a8a8a8" stroke-width="2"/>
<text x="1120.0" y="155.8" font-size="18" font-weight="normal" text-anchor="end" fill="#3a3a3a" >4.0</text>
<text x="1120.0" y="291.8" font-size="18" font-weight="normal" text-anchor="end" fill="#3a3a3a" >3.0</text>
<text x="1120.0" y="427.8" font-size="18" font-weight="normal" text-anchor="end" fill="#3a3a3a" >2.0</text>
<text x="1120.0" y="563.8" font-size="18" font-weight="normal" text-anchor="end" fill="#3a3a3a" >1.0</text>
<text x="1120.0" y="699.8" font-size="18" font-weight="normal" text-anchor="end" fill="#3a3a3a" >.0</text>
<text x="1171.0" y="718.0" font-size="18" font-weight="normal" text-anchor="middle" fill="#3a3a3a" >24</text>
<text x="1565.8" y="718.0" font-size="18" font-weight="normal" text-anchor="middle" fill="#3a3a3a" >36</text>
<text x="1960.6" y="718.0" font-size="18" font-weight="normal" text-anchor="middle" fill="#3a3a3a" >48</text>
<text x="1566.0" y="764.0" font-size="26.5" font-weight="bold" text-anchor="middle" fill="#000" textLength="169.5" lengthAdjust="spacingAndGlyphs">24-hour Time</text>
<text transform="translate(1068.0,390.3) rotate(-90)" font-size="26" font-weight="bold" text-anchor="middle" textLength="142" lengthAdjust="spacingAndGlyphs">log(Activity)</text>
<clipPath id="c0R"><rect x="1129" y="88.6" width="880" height="606.4"/></clipPath>
<g clip-path="url(#c0R)">
<defs><path id="p2" d="M1130 611l6-136l0-8l0 1l0 24l0-14l1 133l2-121l0 13l2 23l0 26l3-132l0-15l0 17l5 135l3 54l0-54l1-44l0 20l2 24l0-5l1-39l2 98l1 0l0-81l1-70l0-22l1 119l1 54l0-194l1 125l0 69l1-100l0-10l1-71l1 83l3 98l1-54l1-63l0 14l0 103l1-162l0 10l1 33l0-49l3 76l2 23l0-92l2 7l5 100l2-136l0 22l0 168l1-108l1 108l1-92l3 92l0-133l0-50l0 114l2-80l1 54l1 41l0 54l1-119l0 41l2 78l2-69l0-19l0 10l1 78l0-78l1-27l0-35l1 86l1-70l1 124l0-95l0 54l1 28l0-56l2 15l0-27l0-14l1 95l1-54l2-15l0 15l0 13l1-13l3 54l1-59l0-10l2 15l0 41l0-85l6-19l3 117l2-54l1 54l1-78l0-50l0-150l1 265l1-85l0-24l0-26l0 148l0-54l0-237l1 176l0-96l1-53l1 251l2-219l3 21l1 157l1-135l0-23l3 212l0-13l3-46l2 46l1 13l0-54l0-5l0-15l1-50l0 124l1-81l0-166l0 247l1-13l1 0l1-203l0-29l0 150l0-134l0 11l2 106l0 24l0 88l0-137l1 68l0 15l3-65l0 16l0 22l0 12l1 69l0-105l0 13l0-146l0-11l2 12l0 145l6-153l5 191l4-65l3-21l1 86l1-15l1-72l2 87l0-15l3-179l0 13l2 116l1 119l1-59l1 59l0-128l0-1l2-19l0 17l0-10l0-81l2 222l2 0l1 0l0-149l0-99l0 10l0 112l4-14l0 140l2 0l1-141l0-85l0 226l1-239l0-19l2-5l0 132l0 16l1 115l2-259l0 10l0 15l0 131l0 8l2 10l0 4l1 68l0-56l1-202l1 271l0-54l0 54l2-59l1-10l2-193l2 10l2 239l1 13l0-239l1 226l0-46l1 0l0 5l1-15l0 69l3-59l1-188l3 13l0 221l1-194l1 138l0 15l0 41l2 13l1-190l1 131l0 59l1-171l0-24l0-13l0-13l0 30l2 137l0-15l0-154l1 22l0 188l1 0l0-166l0 23l0 2l2-30l3 103l0-19l2 41l0-109l0-17l0 185l1-69l0-12l0-34l0 115l2 0l3-69l0 69l2-137l0 124l2 13l0-13l0-198l7 9l0-12l0-15l6-95l0-13l0 26l2 257l3-119l0-16l1-131l0 18l0-16l0 11l0-18l0 149l0-12l0 16l1-164l1-1l2 11l0-10l0 13l3 160l0 163l0-54l1-140l2-75l1-38l2 178l1-118l1 37l0 19l1 122l1-208l1-40l0-11l0 274l0-203l0 42l1-1l0 162l0-270l0-9l0 245l0 19l1-188l1-74l0 277l1 54l0-269l0 67l0 12l2 190l1-199l1 87l1 112l1-302l0 214l0-129l1-65l0 151l0 19l0 17l2-56l1-167l0 46l1 136l0-123l1-29l0 207l0 81l1-81l1-34l0 20l1-179l1-56l1 330l0-155l1-113l0 10l2 35l0 102l0 52l1-76l0-10l0 12l0-114l1-28l0 19l0 21l0 19l0 167l1-260l0 77l0 102l2-77l0 158l0-15l1-227l0 88l2-72l0-2l2 30l0 108l1-147l2 100l0 25l2-100l0-54l0 18l0 123l1-170l0 101l0-13l0-16l2 11l0 110l2-168l0 5l0 30l1-24l0 6l0-23l0 14l0 55l1 93l1-152l0 28l2 338l1-302l0 302l1-336l0-21l0-14l3 157l0-153l0 25l0 11l2 372l0-321l2 57l0-156l3-11l0 390l2-170l0-11l0-139l1 320l2 0l2-82l1-251l0-14l0 11l0-29l3 283l2-270l0 11l0-15l0 16l0 13l0 51l0-47l0 165l0-14l1-30l0-60l3 68l1-25l0 17l0 18l1-107l0-16l0 14l0 21l0 102l0 10l0-184l1 140l0 245l1-190l2-209l1 399l4-397l2-5l0 25l0 14l1-32l1-36l0 308l1-247l3-29l1 18l1-22l0 44l5 78l1-48l0-64l0-12l1 36l0 15l1 57l2-102l0 15l2 45l0-19l1-38l0-8l0 58l0-18l1-39l1 40l0 12l0 64l0 88l0-202l2 2l1 62l0-52l1 42l0-21l0-24l0 16l2-18l0 141l0 20l0-30l0 18l1-88l0 17l0 10l0 3l1 69l0 11l0-107l1-75l0 51l0 17l0-19l1 14l1 1l1 111l1-105l0-28l0 13l0 97l0 21l0-42l0-86l1 53l0 84l0 12l1-52l0 21l0 20l1 6l1 8l0-76l0-12l0 296l1-331l0 43l0-10l1 48l0 13l2-78l1 85l1-43l1 273l0-303l2 42l1-24l0 98l1-132l0 50l0-10l0 23l1 45l7-7l0-9l0-165l3 269l1-239l0 11l2 140l0-124l0-72l2 82l0 51l0-22l0-63l0-20l1 149l1-8l0 56l0 8l1-146l0-19l0 140l0-78l0-11l0-81l0 11l2 164l1-130l0 101l0-88l0-37l1 129l0-109l1 158l0-12l0 19l1-168l0 98l0 56l0 7l0-187l0-21l1 102l0 72l2-56l0 9l0-80l0 11l0-20l1-52l0 3l1 141l0-12l0-99l0 16l0 21l2-31l0 46l4-49l0 16l1 91l0-102l1-6l1 43l1 43l3-123l0-10l0 219l0-14l0 19l0-101l0-8l1 207l0-237l0-54l0-18l1 83l0 26l0-19l1-28l0-55l0-13l0 11l2 66l1 27l0 8l0-28l0 123l0-83l1-3l1-52l1 40l0 19l0-4l0-129l1 192l0-13l0 46l1-74l1 64l0-124l0 144l1-120l1 136l0-201l1 88l1 9l0-162l0 6l0 13l0 90l1 92l0-32l0-19l1-96l0 207l1-109l2 114l1-269l1 217l2 16l1-102l0-12l0 102l3-229l3 30l1 114l0 9l0 12l0 26l0-133l0-18l2 90l0 9l4 38l0-31l1 52l1-39l0-74l3 180l0-96l0-16l2 35l0 20l1 21l1-162l0 21l3 32l0-16l1 118l0-12l1 17l0 34l1-73l0 63l4-13l0-29l0-157l0 13l0 132l2 13l1-123l3 9l0 128l0-27l0-96l1 245l0-159l0 5l3 154l1 0l1-264l0-14l2-13l0 119l0 7l0-12l0-20l1-97l4-10l1 3l0 15l0 28l1 83l1-3l1-67l3 13l0 17l3 3l6 9l4-19l2 76l1-64l0-90l1 139l1 1l2 7l1 17l2-171l0 12l0 15l0 185l0-54l0-12l1 20l0 19l0 12l0 51l1-91l1 19l2-109l0 25l1-89l0 12l0 41l2 129l0-141l1 168l0-29l1-63l1 32l0 14l0-111l0 51l1 93l0 8l1-28l0-141l1 69l0 12l1-55l0-12l0 6l1 154l0-29l0 21l0 8l2-13l0-124l0 21l1 61l0 55l0 17l0-51l0 10l1-78l1-27l0 14l0 98l0-135l0 25l1 81l1-146l0-16l0-12l1 38l0-18l0-19l0 15l0 17l1 47l0 114l1-39l0-138l0 164l0-86l1 3l0 109l0-118l0 95l0-143l0 13l1 49l0-73l0-25l1 195l0-48l1 23l0 11l0 12l0-14l0-74l1 32l2 114l0-177l0 39l1-107l2 250l1-133l0 118l0-5l0-24l1-219l6 258l0-198l4-10l0-14l3-10l2 12l1-16l2-13l0 254l2-15l2-166l1 130l1-203l2 308l1-88l0-12l0-112l1 212l1-219l1-10l1-91l0 86l1-36l0-12l0-35l0 207l1-16l0 16l0-111l2-84l2 71l0-7l0 153l0-191l1-31l0 110l0 115l0-25l2 15l0-117l0 13l0 14l1-73l0-63l0 20l0 115l1 94l0-222l1 118l0 93l1-152l0-60l0 38l0-27l1 199l0-7l0-14l0-100l0-13l2 117l0-144l0-47l1 42l0 22l0-18l2 27l0-21l1 220l1-67l2-170l0-26l0 25l0-17l1 55l0 187l1-266l0 4l0 37l0 11l0 114l0-7l1-164l0 20l0 52l1 253l0-95l1-140l0 12l1-67l0 290l2 0l0-271l0 13l0-17l1-22l0 160l0-11l1-132l0-12l0 238l0-5l0 18l1-119l0 15l0 37l1-108l0 10l1-93l0 299l0-54l2 0l0-175l0 19l2-16l0 76l1 150l6-219l1 69l0 13l0-139l0 143l1-138l0-25l1 64l1-27l0 26l1-11l1-3l0-11l0 2l0 22l1 85l1-112l1-27l0 155l0-138l1 159l0-10l11-23l0 64l1-232l2 179l1-200l0 18l0-10l2 22l1 209l2-225l0 239l0-14l0 17l1-50l0-181l2 309l1-103l0 11l0 11l0-53l3-195l1 185l0 15l0-11l0-151l2 291l1 0l2-320l0-16l4 241l0 41l2-27l2 27l1-5l7 5l3-46l1-44l0 103l2-57l0-12l1 56l0-83l2-11l0 70l1-32l0 15l0 54l2 0l0-18l0-69l1 74l3-41l0 21l0-11l1 11l2 33l1 41l1-59l0 5l1 54l0-121l0 80l1-71l0 12l1 46l11 0l0-20l2 20l2-44l0 57l1 41l5-162l0 77l1-96l1 8l0 18l2-15l0 3l5 19l0 14l2-55l2-39l1 51l0-9l0 21l1 124l1-113l1-59l0 159l0 41l1-97l3-99l2 168l0-179l1 161l0-26l0-13l1 44l0-24l1 65l1-164l0-12l1 79l0-31l0 13l0 11l0 14l1-104l0-22l2 10l0 41l0 28l0 52l1 29l0 28l0-18l1 18l0-28l4-160l2 188l7-127l0-20l0 129l0-51l1-93l1 134l0-129l0 11l1 146l0-230l0-14l1 105l1-126l0 247l0-29l1-87l0-15l0 20l1 70l1-218l0 218l1 15l0-240l1 25l1 97l1 203l0-98l0 13l0-77l0-13l1-146l1 321l1-211l0 11l0-21l0 104l0 76l3 0l1-37l3-136l1-9l1 20l1-6l0 140l0 69l0-227l0 28l3 65l0 12l1-39l2 120l0-150l1 150l0-146l3 50l0-79"/></defs>
<use href="#p2" fill="none" stroke="none" marker-start="url(#g)" marker-mid="url(#g)" marker-end="url(#g)"/>
<use href="#p2" fill="none" stroke="none" marker-start="url(#b)" marker-mid="url(#b)" marker-end="url(#b)"/>
<line x1="1129.9" y1="693.3" x2="1463.8" y2="693.3" stroke="#2f8ad8" stroke-width="11.2" stroke-linecap="round"/>
<line x1="1555.9" y1="693.3" x2="2005.0" y2="693.3" stroke="#2f8ad8" stroke-width="11.2" stroke-linecap="round"/>
<line x1="1128.8" y1="652.4" x2="1400.3" y2="652.4" stroke="#2f8ad8" stroke-width="11.2" stroke-linecap="round"/>
<line x1="1556.3" y1="652.4" x2="2006.9" y2="652.4" stroke="#2f8ad8" stroke-width="11.2" stroke-linecap="round"/>
<polyline points="1128.0,601.3 1132.4,603.4 1136.8,605.3 1141.2,607.1 1145.6,608.8 1150.0,610.4 1154.4,611.8 1158.8,613.2 1163.2,614.4 1167.6,615.5 1172.0,616.5 1176.4,617.4 1180.8,618.1 1185.2,618.7 1189.6,619.2 1194.0,619.5 1198.4,619.8 1202.8,619.9 1207.2,619.8 1211.6,619.7 1216.0,619.4 1220.4,619.0 1224.8,618.4 1229.2,617.7 1233.6,616.9 1238.0,616.0 1242.4,615.0 1246.8,613.8 1251.2,612.5 1255.6,611.1 1260.0,609.6 1264.4,608.0 1268.8,606.2 1273.2,604.3 1277.6,602.4 1282.0,600.3 1286.4,598.1 1290.8,595.8 1295.2,593.4 1299.6,590.9 1304.0,588.4 1308.4,585.7 1312.8,582.9 1317.2,580.1 1321.6,577.2 1326.0,574.2 1330.4,571.1 1334.8,568.0 1339.2,564.8 1343.6,561.5 1348.0,558.2 1352.4,554.9 1356.8,551.5 1361.2,548.0 1365.6,544.5 1370.0,541.0 1374.4,537.4 1378.8,533.8 1383.2,530.2 1387.6,526.5 1392.0,522.9 1396.4,519.2 1400.8,515.6 1405.2,511.9 1409.6,508.2 1414.0,504.6 1418.4,500.9 1422.8,497.3 1427.2,493.7 1431.6,490.1 1436.0,486.6 1440.4,483.1 1444.8,479.6 1449.2,476.2 1453.6,472.8 1458.0,469.5 1462.4,466.2 1466.8,463.0 1471.2,459.8 1475.6,456.8 1480.0,453.8 1484.4,450.8 1488.8,448.0 1493.2,445.2 1497.6,442.5 1502.0,439.9 1506.4,437.4 1510.8,435.0 1515.2,432.7 1519.6,430.5 1524.0,428.4 1528.4,426.4 1532.8,424.5 1537.2,422.7 1541.6,421.0 1546.0,419.5 1550.4,418.1 1554.8,416.7 1559.2,415.6 1563.6,414.5 1568.0,413.5 1572.4,412.7 1576.8,412.0 1581.2,411.4 1585.6,411.0 1590.0,410.7 1594.4,410.5 1598.8,410.4 1603.2,410.5 1607.6,410.7 1612.0,411.0 1616.4,411.5 1620.8,412.0 1625.2,412.7 1629.6,413.6 1634.0,414.5 1638.4,415.6 1642.8,416.8 1647.2,418.1 1651.6,419.6 1656.0,421.1 1660.4,422.8 1664.8,424.6 1669.2,426.5 1673.6,428.5 1678.0,430.6 1682.4,432.8 1686.8,435.1 1691.2,437.5 1695.6,440.0 1700.0,442.6 1704.4,445.3 1708.8,448.1 1713.2,451.0 1717.6,453.9 1722.0,456.9 1726.4,460.0 1730.8,463.1 1735.2,466.4 1739.6,469.6 1744.0,473.0 1748.4,476.3 1752.8,479.8 1757.2,483.2 1761.6,486.8 1766.0,490.3 1770.4,493.9 1774.8,497.5 1779.2,501.1 1783.6,504.7 1788.0,508.4 1792.4,512.1 1796.8,515.7 1801.2,519.4 1805.6,523.0 1810.0,526.7 1814.4,530.3 1818.8,534.0 1823.2,537.5 1827.6,541.1 1832.0,544.7 1836.4,548.1 1840.8,551.6 1845.2,555.0 1849.6,558.4 1854.0,561.7 1858.4,565.0 1862.8,568.1 1867.2,571.3 1871.6,574.3 1876.0,577.3 1880.4,580.2 1884.8,583.1 1889.2,585.8 1893.6,588.5 1898.0,591.0 1902.4,593.5 1906.8,595.9 1911.2,598.2 1915.6,600.4 1920.0,602.5 1924.4,604.4 1928.8,606.3 1933.2,608.0 1937.6,609.7 1942.0,611.2 1946.4,612.6 1950.8,613.9 1955.2,615.0 1959.6,616.1 1964.0,617.0 1968.4,617.8 1972.8,618.4 1977.2,619.0 1981.6,619.4 1986.0,619.7 1990.4,619.8 1994.8,619.9 1999.2,619.8 2003.6,619.5 2008.0,619.2" fill="none" stroke="#fa0036" stroke-width="14" stroke-linejoin="round" stroke-linecap="round"/>
</g>
<circle cx="2017" cy="100.6" r="8.3" fill="#75787c" stroke="#3b8fd9" stroke-width="3"/>
<circle cx="2017" cy="125.0" r="8.3" fill="#75787c" stroke="#fa0036" stroke-width="3"/>
<text x="2032.0" y="108.6" font-size="20" font-weight="normal" text-anchor="start" fill="#1a1a1a" textLength="214" lengthAdjust="spacingAndGlyphs">Observed log(Activity)</text>
<text x="2032.0" y="133.0" font-size="20" font-weight="normal" text-anchor="start" fill="#1a1a1a" textLength="214" lengthAdjust="spacingAndGlyphs">Predicted log(Activity)</text>
</g>
<g font-family="'Liberation Sans', Arial, sans-serif">
<text x="37.0" y="817.4" font-size="30.5" font-weight="bold" text-anchor="start" fill="#000" >Female 2</text>
<text x="37.0" y="851.0" font-size="24.4" font-weight="bold" text-anchor="start" fill="#000" textLength="216" lengthAdjust="spacingAndGlyphs">R-squared = 0.50</text>
<line x1="139" y1="859.5" x2="139" y2="1461" stroke="#a0a0a0" stroke-width="2"/>
<line x1="139" y1="1460" x2="1015" y2="1460" stroke="#a8a8a8" stroke-width="2"/>
<text x="131.0" y="924.2" font-size="18" font-weight="normal" text-anchor="end" fill="#3a3a3a" >4.0</text>
<text x="131.0" y="1059.4" font-size="18" font-weight="normal" text-anchor="end" fill="#3a3a3a" >3.0</text>
<text x="131.0" y="1194.6" font-size="18" font-weight="normal" text-anchor="end" fill="#3a3a3a" >2.0</text>
<text x="131.0" y="1329.8" font-size="18" font-weight="normal" text-anchor="end" fill="#3a3a3a" >1.0</text>
<text x="131.0" y="1465.0" font-size="18" font-weight="normal" text-anchor="end" fill="#3a3a3a" >.0</text>
<text x="182.6" y="1484.0" font-size="18" font-weight="normal" text-anchor="middle" fill="#3a3a3a" >24</text>
<text x="248.0" y="1484.0" font-size="18" font-weight="normal" text-anchor="middle" fill="#3a3a3a" >36</text>
<text x="313.4" y="1484.0" font-size="18" font-weight="normal" text-anchor="middle" fill="#3a3a3a" >48</text>
<text x="378.8" y="1484.0" font-size="18" font-weight="normal" text-anchor="middle" fill="#3a3a3a" >60</text>
<text x="444.2" y="1484.0" font-size="18" font-weight="normal" text-anchor="middle" fill="#3a3a3a" >72</text>
<text x="509.6" y="1484.0" font-size="18" font-weight="normal" text-anchor="middle" fill="#3a3a3a" >84</text>
<text x="575.0" y="1484.0" font-size="18" font-weight="normal" text-anchor="middle" fill="#3a3a3a" >96</text>
<text x="640.4" y="1484.0" font-size="18" font-weight="normal" text-anchor="middle" fill="#3a3a3a" >108</text>
<text x="705.8" y="1484.0" font-size="18" font-weight="normal" text-anchor="middle" fill="#3a3a3a" >120</text>
<text x="771.2" y="1484.0" font-size="18" font-weight="normal" text-anchor="middle" fill="#3a3a3a" >132</text>
<text x="836.6" y="1484.0" font-size="18" font-weight="normal" text-anchor="middle" fill="#3a3a3a" >144</text>
<text x="902.0" y="1484.0" font-size="18" font-weight="normal" text-anchor="middle" fill="#3a3a3a" >156</text>
<text x="967.4" y="1484.0" font-size="18" font-weight="normal" text-anchor="middle" fill="#3a3a3a" >168</text>
<text x="575.0" y="1530.0" font-size="26.5" font-weight="bold" text-anchor="middle" fill="#000" textLength="169.5" lengthAdjust="spacingAndGlyphs">24-hour Time</text>
<text transform="translate(80.0,1158.8) rotate(-90)" font-size="26" font-weight="bold" text-anchor="middle" textLength="142" lengthAdjust="spacingAndGlyphs">log(Activity)</text>
<clipPath id="c1L"><rect x="140" y="859.5" width="876" height="601.5"/></clipPath>
<g clip-path="url(#c1L)">
<defs><path id="p3" d="M141 1280l0-64l0 70l1-116l0 83l0-75l0-20l0-16l0 42l0-92l0 11l0-19l0 188l0-83l0 57l0-96l0 14l0-50l0 108l1 37l0 8l0-146l0 108l0-150l0 217l0-92l0-72l0 245l0-100l1-42l0-169l0 242l0-232l1 134l1 108l0-76l0-82l0 258l0-329l1 105l0-26l0 112l0-143l0-12l0 94l0-116l0 220l0-227l0 93l0-6l1 16l0-51l0 103l0 26l0-104l0 57l0 29l1 21l0-42l1-31l0-77l0 137l0-155l0 177l1-137l0-11l0 177l0-201l1 41l0-45l0 130l0-74l0 139l1-87l0 36l0-151l0 39l0 39l0 15l1 14l0-114l0 131l0 106l0-172l0 40l0-111l0 179l0 46l1 26l0 33l1-139l0 98l0-182l0 35l0-63l0 139l0-131l0-17l1 58l0 34l0 80l0 10l0 78l0-258l1 50l0 74l0-94l0 73l0-24l1 19l0-118l0 81l0 81l1 83l0-236l0 142l0-107l0-53l0 228l0-158l0 44l1 104l0-120l0-62l1 170l0-29l0-147l0 74l1 17l0-109l0 12l0 163l0-139l0 91l0-62l0 177l0-240l0 28l0-24l1 114l0 155l0-69l0-63l0-67l0 140l0-145l0 80l0 8l1-112l0 86l0 101l0-174l0-6l1 133l0-145l1 72l0-89l0 76l0 215l0-119l1-48l0-8l0-79l0 110l0-50l1 53l0-94l0 2l1 57l0 176l0-172l0-143l1 215l0-171l0 189l0-114l0 155l0-227l0 67l0-49l0-21l1 130l0-18l0-21l1-48l0-18l0-5l1 156l0-120l0-70l0-11l0 106l1-108l0 160l0 28l0-58l0-103l0 92l1 3l0-44l0 59l0-22l1 83l0-131l0 8l0-16l0-45l1-15l0 245l0-72l0-115l1 11l1 69l0-170l1 149l0-134l1 161l2-79l1 67l0 85l0-13l1-233l0 156l2 23l0-153l1 173l1-178l0 148l1-47l0-122l1 274l1-133l1 26l1-89l1 131l3 37l0 41l0-187l1-73l0 301l0-135l1-156l1 145l0 146l0-54l1-103l1 83l0-202l1 222l0-81l1 53l0-155l1 237l0-82l0 8l0-165l1 104l1 135l0-138l1 56l0-191l1 129l0-74l0 218l1-163l0 12l1 77l0 0l1 74l0-54l1-250l0 185l0-3l1-176l0 257l1-41l0-62l2-7l0 51l2 59l1-88l0-91l0 85l1-92l0 98l0 55l1-234l0 308l0-41l0-137l0-33l0 73l1 28l0-98l0 76l0-128l0-34l0 129l0-13l1 8l0 170l0-346l0 64l0 88l1-104l0 55l0-10l0 77l0-37l0-9l0 54l1 19l0 17l0-70l0-102l0-58l0 49l0 154l0-179l0 194l0-2l0-146l0-26l0 58l0 138l0-66l0-50l0-90l1-26l0 244l1-223l0 192l0-12l0-93l0-32l0 143l0-137l0 198l1-36l0-19l0-158l0 105l0-44l1-6l0-67l0 81l0-106l0 224l1-108l0 36l0 40l0-209l0 102l0-121l0 286l0 20l1-103l0 157l0-316l0 6l0 58l0-78l0 132l0 88l0-181l1 147l0-118l0-92l0 176l0 15l0 81l0-167l0 17l1 191l0-59l0-185l0 45l0-41l0 120l1 161l0-189l0 94l0-128l0-104l0 6l0-4l0-17l1 232l0-74l0 9l0-113l0 44l1 149l0-169l0-4l0-109l0 207l1-14l0 143l0-254l0 11l0 82l0 47l0 45l0-66l0-144l0 201l0-73l0-21l0 139l0-162l1-92l0 17l0 91l0-29l0-25l0 10l0 36l0 228l1-100l0-107l0 58l0-156l0 62l0 148l1-221l0 216l0-157l0-103l0 163l0 197l1-348l0 226l0 8l0-68l1-117l0 29l0-55l0 155l0-171l0 184l0 62l0-94l0 54l0-80l1 39l0 66l0-55l0-125l0 53l0-39l0 150l0-122l0 28l0-8l1-108l0 30l0 21l1 25l0-56l0 216l0-142l0-116l1 62l0 214l0-278l0 199l0-50l0-22l1 60l0 35l0-216l0 208l0-34l0 29l0-42l0-172l0 178l0-91l0 178l1-118l0 83l0 53l0-219l0 160l0 87l0-270l0 119l1-124l0 77l0-14l0 20l0-45l0-18l1 309l0-82l0-116l0-26l0-50l0 174l0-22l1-175l0 171l0-224l0 31l0 152l0-170l0 180l1-81l0 109l0-155l0-79l0 151l1 138l0-144l0 40l0-167l0 31l0 10l0 98l1-23l0-25l0 66l0-140l0 228l0-190l0 41l0 96l1-118l0 197l0-187l0 151l0-51l1-62l0 25l0-135l0 251l0-227l0 14l1 60l0 62l0 44l0 19l0-232l0-24l0 199l1-77l0 65l0 138l0-105l0 51l0-225l0 107l0-90l1 193l0-74l0 110l0-206l0 24l0 63l0-94l0 205l0-191l0 132l1-12l0-177l0 127l1-15l0 104l1-49l0-72l0 37l0 57l0 3l0-125l0-103l0 74l1-19l0 88l0 53l0-78l0 70l0-192l1 19l0 232l0-217l0 60l0-70l0 43l0 162l0 100l0-229l0 83l0-53l1-44l0-14l0 92l0-9l1 89l0 4l0-108l0-126l0 302l0 54l0-325l0 71l0 60l1 37l0 25l0-88l0-132l0 278l0-99l0 44l1 88l0-141l0 47l0-144l0 112l0-58l0 171l0-287l1 140l0-43l0-18l0-43l0 205l1-218l0 25l0 179l0-216l0 256l0-211l1 134l0-101l0 16l0 110l0-61l0-23l0-20l0 148l0-96l1 83l0-214l0 148l0-54l0 10l0-66l0-66l1 36l0 129l0-69l0 106l0-60l0-26l0 147l0-36l0-34l0-103l0-68l1-8l0 65l0-23l1 137l0 18l0-41l0 126l0-108l0-156l0-25l1 248l0-50l0-166l0 58l0-38l0 52l1-47l0 232l0-224l0-6l1 95l0-85l0 161l0-148l0-27l0-24l0 81l0 123l0-62l0-131l1 5l0 94l0-16l0 205l0-242l0 12l1 67l0-91l0-58l0 142l0-123l1 179l0-32l0-119l0 83l0-138l1 109l0-13l0 30l0-126l0 85l0 36l0-201l1 359l0-295l0 214l0-7l0-213l0 183l0 33l0 12l0-249l0 32l1-17l0 222l0-27l0-144l0-56l0 73l0 113l0-207l1 245l0 29l0 46l0 13l0-267l0 102l0-42l0 129l0-248l0 326l1-341l0 92l0 17l0 127l0-213l0 32l0 143l0-84l0 9l0 83l1 44l0-61l0-184l0 258l1 119l0-226l0 77l0-70l0 90l0-205l0-11l0 112l0 32l0 40l0-157l1-22l0 89l0 156l1-182l0 167l0-99l0-77l0-86l0 250l0-118l0-64l1 166l0-243l0 202l0-10l0 34l0 11l0-216l0 50l0 46l1-30l0 240l0-116l0 41l0-36l0-31l0-129l0-28l0 312l0-173l0 114l0-157l1 257l0-247l0-35l0-39l0 146l1-157l0-33l0 206l0 30l0 129l0-95l0-140l0-105l0-6l0 195l0-117l0-32l1 75l0 5l0 36l0 40l0 44l1-188l0-28l0 54l0 51l1-83l0 162l0-120l0-52l0 125l0-62l0 39l0-109l0 146l0-179l1 344l0-132l0 37l0-135l0-93l0 168l1-183l0 62l0 82l1-137l0 106l0-21l0 28l0 218l1-100l0-49l0-121l0 11l0 115l0-146l0 171l0-145l1 264l1-167l0 93l1-36l0-212l0 19l0 229l1-126l0 146l1-72l0 126l0-144l1-84l0 118l0-60l0 88l0-67l2 75l0-45l1 19l1 46l1-160l0 39l0 65l1 110l1-176l1 81l0 21l0-8l1-18l1-122l1 168l1-72l0-37l0 81l0-79l2 87l0-70l0 62l2-143l1 103l0-147l0 137l2-168l0 218l1 8l0-119l1 193l0-129l0 47l0-226l0 213l1 54l0-105l0 36l1-92l0-102l0 137l1-19l0 104l0-81l1 163l0-119l0-34l0 112l1-281l0 281l0 41l0-258l2 217l1-116l1-199l0 356l1-41l0-126l0 167l1-82l0-18l1 26l2-83l1-189l1 90l1 174l0-50l1 132l0-266l1 125l1 59l1-158l0 158l0 82l0-179l1 105l0-58l1-6l1 28l0-231l1 267l0-99l2-45l0 123l0-31l0 52l1-55l0-146l1 146l0-233l1 288l0-8l0 82l1-281l0 25l0 107l0-126l0-61l0 226l1-94l0-133l0 242l0-244l1 109l0 48l0-34l0 57l0 105l0-191l0-45l0 33l0-12l0 195l0-79l0-174l0 22l0 186l0-155l1 164l0-268l0 206l0-16l0 93l0-142l0-78l0-25l0 57l0 154l0 19l0-189l0-50l0 275l1-148l0 222l0-207l0 125l0-189l0 88l0-20l0-97l1-66l0 142l0-20l0 122l0-61l1 109l0-89l0-106l0-63l0 183l0 149l0-312l0 119l1-150l0 184l0-144l0 42l0 81l0 54l0-106l0-94l0 100l0 144l1-210l0 90l0 35l0-105l0 177l0-122l0-149l1 100l0 147l0-124l0-77l0 40l0-5l0 75l0 110l0-73l1-80l0 96l1-100l0 79l0-110l0 77l0 56l0-2l0-71l0 82l1-7l0-196l0 223l1-122l0 87l0-113l0 179l0-184l0-19l0 69l1 47l0 182l0-242l1 35l0 75l0-184l0 54l0-49l0-40l0-10l0 177l1-126l0 142l0 49l0-183l0-55l0 147l1 136l0-263l0 27l0 14l0 141l0-124l0 37l0-11l0-101l0 82l0-70l0 153l0-115l0 92l0 212l1-198l0 88l0-115l0-101l0 151l0-144l0 84l1-51l0 25l0 129l0-71l0 149l0-132l1 23l0-19l0-92l0 164l0-151l0 106l1 4l0-128l0 77l0-129l0 290l0-124l0-128l0 36l0-19l1 56l0 125l0-64l0 27l0-169l0 260l0-13l0-153l0-109l0 74l0-7l1-81l0-5l0 335l0-228l0-119l0-8l0 84l0 84l0-154l0 222l1 45l0-234l1 173l0-147l0 18l0 82l0 82l0-38l0-17l1 36l0-210l0 132l1 156l0-303l0 78l0 115l0-146l0 54l0 169l0-297l0 117l1 91l0-13l0-23l0 21l0 68l0-213l0 223l0-155l0-78l0 64l1 30l0 7l0 81l0-36l0 26l0-156l0 21l0 128l0-136l1 96l0-40l0 23l0-66l0 12l0 179l1-120l0 138l0-204l0-52l0 338l0-182l1 27l0 81l0-118l0 192l0-114l0-215l0 18l0 136l0-99l0 133l0-72l0 118l0-241l1 198l0 19l0-202l1 123l0-104l0 228l0-190l0 164l0-106l0-34l1-89l0 99l0 95l0 25l1-160l0 18l0-81l0 36l0 125l0 15l0-65l0 57l0 43l0-156l1-29l0 48l0-59l0 140l0-14l0-10l0 51l0-95l1-44l0 55l0 51l1-34l1 9l0-103l0 48l0 150l0 19l0-24l0-107l1-106l0 157l0-96l0-28l1 109l0-87l0 72l1 6l0-28l0 40l0 87l0-139l0 88l0-118l0-68l0 79l0 132l0-179l0 148l1-36l0 71l0-163l0 10l1 112l0-56l0 32l0 19l0-149l0 23l1 86l0-36l0 66l0-85l1-18l0 149l0 0l0-169l0-10l0 57l1 135l0-218l1 136l0-21l0-49l0 133l0-77l0-22l0 8l0 72l0-131l1 288l0-173l0 91l0-50l0-127l0-62l1 73l0 85l0-163l0 130l0 45l0 13l0-159l0 151l0 46l1-68l0-108l0 88l0-115l0-12l0 171l0-35l0-31l1-111l0 280l0-164l0 205l0-114l0-141l1 21l0 193l0-59l0 100l1-159l0-69l0-14l0 67l0-46l0-59l0-41l0 29l1 292l0-74l0-264l0 74l0 111l0-31l0 74l0-149l0-71l1 31l0 161l0-73l0-59l1 21l0 135l0-200l0 116l0 33l0 165l0-100l1-19l0-87l0 124l0-75l0 157l0-326l0 50l0 38l1 60l0 29l0-69l0-38l0 161l1-246l0 246l0 95l0-243l0-21l0 40l0 98l0-158l0 54l0-79l1 15l0-64l0 9l0 176l0-22l1-125l0 21l0 43l0 161l0 13l0-44l0-230l1-10l0 18l0 136l0-17l0 155l0-229l0 73l0-133l0 268l1-188l0-56l0 74l0 54l0 22l1 63l0-87l0 11l1-42l0 28l0-31l0 13l0 81l0-75l0-65l0 107l0-124l0 142l0-50l0-87l0 66l1-78l0-50l0 96l0 171l0-134l0 105l0-223l1 139l0-73l0-41l0 166l0-91l0-9l0 56l0 6l0-134l0 211l0-219l0 61l0 104l1 81l0-51l0 64l0-218l0 186l1-68l0 182l0-322l0-50l0 23l1 126l0-24l0-21l0-7l0 131l1-93l0 142l0-210l0-7l1 183l0-72l0-83l0 210l0-96l0-158l0 202l1 31l0-247l0 189l0-198l0 124l0 13l0-18l0 94l0-48l1 186l0-161l0-31l0-113l0 104l0-45l0 132l0-125l1 239l0-327l1 106l0-97l0 49l0 143l0-29l1-144l0 199l0 26l2 0l1-77l0 7l0 144l1-82l0-86l1-189l1 27l0 142l1 66l1 40l1-81l1-174l0 172l0-13l0 104l1-296l0 176l0 140l1 54l1-159l1-34l0 193l0-132l1 50l1-166l1 60l2 93l1-66l1-17l1 96l0 82l1-309l1 168l1 141l0-54l1-20l1-36l1 110l0-153l1 99l0 54l1-135l1 53l0 28l0-262l1 275l0-69l0-227l1 95l0 104l2-205l0 343l1-141l1 87l0-20l1-72l0-104l0 68l2 141l0-153l1-100l1 199l0 54l1-91l1-147l1 153l1 52l1-48l0 68l1 54l1-167l0-35l0 161l0-91l1-208l2 258l1 28l0-95l1-89l0 128l1-119l0-95l1 5l0 63l0 137l0-144l0-16l0-57l0 39l0 115l1-25l0 48l0 10l0-160l0-19l0 40l0 123l0-198l0 128l0 21l0 73l0-34l0-171l0 145l0 13l0-36l1-20l0 170l0-280l1 259l0-208l0 133l0-26l0-23l0-30l1 208l0-94l0-158l0 211l0-37l1-156l0-38l0 82l0-29l0 19l1-83l0 26l0 32l0 212l0-156l0 34l1 32l0-11l0-28l0-136l0 209l0-82l0-63l0 88l0-59l1 126l0-239l0 217l0-93l0 14l1 69l0 37l0-151l0 136l1-226l0 185l0-132l0 13l0 111l1-92l0-45l0 196l0-19l0-213l0 16l0 181l0-53l1-42l0-75l0 46l0 48l0-32l0 133l0-108l1 123l0-83l0-177l0 158l0-67l0 96l1 24l0 70l0-203l0 71l0-94l0 159l0-199l0 20l1 185l0 94l0-244l0 132l1 53l0-153l0-40l0 109l0 49l0-38l0-62l0 125l0 28l1-146l0-97l0 251l0-259l0 279l0-95l0-162l1 39l0 137l0-170l0 111l0 94l0-122l0 59l0 44l0-232l0 143l1-51l0 81l0-69l0 47l0-89l0-51l0 258l1-28l0-36l0-152l0 298l0-316l0-59l0 157l1-22l0 121l0-34l1-17l0-59l0-22l0 251l0-323l0 61l1-21l0-21l0 172l0 132l0-183l0 69l0-160l0 145l0-82l1 65l0-99l0 70l0-60l0-93l0 17l0 150l0-36l0 197l0-138l1-11l0 17l0-91l0 182l0-163l0-153l1 60l0 108l0 51l0-130l0 139l0-89l0-72l0 11l0-70l1 95l0-66l0 165l0-202l0 262l0-256l1 225l0-41l0 67l0-207l0 98l0-63l1 39l0 54l0 60l0-120l0-76l1-20l0 89l0 95l0-176l0 128l0-86l1 163l0-62l0 84l0-35l0-164l0 299l0-261l0 179l0-77l0-64l1 48l0-79l0 25l0 85l0 18l1-20l0 146l0-204l0-105l0 177l0 32l0-221l0 30l0 97l0-81l1 110l0-45l0-127l0 191l0 146l1-82l0-98l0-53l0 78l1-15l0 44l0 52l0-185l0 205l0-250l0-25l0 143l0-100l0 7l1 13l0 48l0 177l1-209l0-62l0 202l0-51l0-180l0 117l0-71l0 119l0-68l0-99l1 217l0-25l0-121l0 33l0 1l0 26l0 71l1-150l0 113l0-128l0 80l0 126l0-118l1-122l0 189l0-197l0 294l1-28l0-156l0-70l0 99l0 168l0-69l0-204l1-59l0 78l0-54l0 308l0-212l0 29l0 67l0-89l0 120l0-131l0 122l1-167l0 139l0-59l0 10l0-101l0 124l0-44l0 82l0-132l0 77l0-89l0-44l1 63l0 103l0-93l0-54l1-59l0 12l0 167l0-28l0-116l0-39l0 204l0 105l0-277l0 134l0-35l0 252l0-325l0 199l0 126l1-356l0 48l0-23l0 92l0-137l1-20l1 174l0-168l0 76l0-77l0 205l0-62l0 138l0-84l0 29l1 124l0-319l0 250l0-65l0-106l0-56l0 186l0-137l0 19l0-80l1 147l0-53l0 96l0-21l0 85l0-271l0 266l0-135l0-64l0 24l0 66l0-20l0 14l1-175l0 280l1-195l0 176l0-199l0 11l1 75l0 132l0-31l1-203l0 189l0 9l0-53l0-156l0 72l0 33l0-85l0 203l1-226l0 190l0-90l0 158l0-94l0 11l0-90l0 173l1-190l0 208l0-240l0 184l0-97l0-10l0 204l0-177l1-49l0-30l0 138l0-19l0 27l0-161l0 217l0-15l1-39l0-62l0-129l0 36l1 81l0 36l0 187l0-197l1-137l0 260l0-21l0-185l0 239l0-114l0-27l0 10l0-100l1-61l0 104l0 25l0 94l0-142l0 16l0-89l0 40l0-9l1 28l0 125l0-77l0 53l1-25l0 90l0-112l0-95l0 197l1-12l0-188l0 51l0-55l0 192l0-168l1 115l0 175l0-298l0 188l0-130l0 102l0-11l0 95l0-97l1-47l0-48l0 246l0-168l0-150l1 208l0-153l0 30l0-88l0 93l0-44l0 137l0 16l0-135l1 254l0-110l0-192l0-6l0 149l0-33l1-137l0 114l0-78l0 109l0 62l0-155l1 55l0 96l0 7l0-56l0-84l0 121l0-145l1 209l0-267l0 6l0 184l0-215l0 292l1-274l0 104l0 48l0-12l0-113l0 211l0-162l0 42l0 101l1-185l0 214l0-117l1 54l0-142l0 264l0-176l0 66l1 56l0-49l1-108l1-45l0 183l1 114l0-54l0-41l2-40l0 81l1-92l0-168l1 36l0 168l0 69l1 0l2-59l0-176l0 202l1-110l1 35l2 23l0-155l0 181l2-10l0 110l1-292l0 99l0 10l0 22l1 87l0-101l0-99l3 94l0-124l1 109l0 42l2 79l1-36l1 56l0-41l0-77l1 98l0-218l1 163l1-224l0 234l1-32l0-118l1 187l0-18l1 100l0-307l0 253l0-103l0-112l1 45l1 129l0-31l0-23l0 95l1-20l0-162l0 162l0 33l0-69l1-76l2 186l0-114l0 0l1-137l0 48l0 129l0-36l0-204l1 232l0-172l0-34l0 13l0 27l0 33l0-22l0-22l0 39l0 65l0-35l0 29l1 32l0-6l0-107l0 44l0-6l0 122l0-90l0 172l0-149l0-121l0-35l0 6l1 258l0-41l0-28l1-99l0 109l0-78l0-85l0 33l0-96l1-18l0 230l0-223l0 227l0 28l1-112l0-123l0 42l0-14l0 36l0 85l0-54l0 112l0 36l0-79l0 27l0-205l0 20l0 15l1 81l0 215l0-257l1 57l0 62l0-108l0 73l0-179l0 46l0 27l0 197l0-13l0-93l1-173l0 124l0 29l0 167l0-100l0-18l0 10l1 11l0-129l0 167l0-82l1 182l0-301l0-25l0-8l0-6l0 28l0 271l1-307l0 130l0-68l0 286l0-251l0-9l0 116l0-68l0-81l1 123l0 70l0-129l0-88l0 43l0 119l0-39l0-12l0 152l0-185l0 53l1 112l0-171l1-63l0 213l0-234l0 151l0 78l0-49l1 75l0-26l0-200l0 141l1-62l0-102l0 177l0-137l0 28l0 88l1 167l0-292l0 88l0 60l0-171l0 49l1 6l0 76l0-32l0 216l0-110l0-126l0 7l1 20l0-64l0-58l0 257l0-8l0-222l0 8l1 45l0-89l0 147l0 38l0 45l0-68l0 178l0-311l1-37l0 213l0-9l0-135l0 153l0-6l1-68l0 35l0-49l0-104l0 112l0 55l0-19l0-155l1 243l0-187l0 169l0-44l0-15l0-69l1-115l0 233l0-77l0-57l0-56l0-35l0 235l0 5l0-124l0-131l0 94l1-49l0-25l0 93l0-47l1 104l0 139l0-69l0-82l0 57l0-117l1 252l0-202l0 120l0-191l0 101l0-39l0 46l0-155l1 96l0 224l0-266l0 111l0 20l0 53l1-28l0-150l0 111l0-141l0-21l0-21l1 98l0-65l0-5l0 182l0 81l0 41l1-180l0-69l0-27l0 108l0-72l0 35l0-132l0 227l0-86l0 37l1 105l0-28l0-141l0 85l0 138l1-314l0 260l0-236l0 208l0-186l0 7l0 86l0-117l1 55l0-108l0 53l1 110l0-104l0-15l0 146l0-78l1-61l0-12l0 14l0 166l0 85l0 41l0-178l1-71l0 31l0-119l0-8l0 115l0-98l0 128l0-52l0 211l1-145l0 76l0-179l0 207l1-50l0-142l0-25l1 35l0-100l0 114l0 131l0-146l0 170l0-124l0-77l0-36l1 291l0-13l0-225l0 25l0 37l0-47l0 54l0 9l0 101l0-139l1 86l0 58l0-230l0 9l0 17l0 126l0 54l0-107l0 47l0-11l0-117l1 60l0-39l0-65l0 251l0-134l1 67l0-189l0 62l0 184l0-235l0 124l0 24l1 36l0-142l0 88l0-13l0 52l0-35l1-46l0 44l0-59l1 84l0-50l0-28l0 3l0 48l1-128l0 122l0 48l0-121l1 86l0 89l0-200l0 127l0-48l0 145l0-115l1-134l0 91l0 92l0-36l1-112l0 29l0 26l1 50l0-97l0 111l0-164l0 68l0 92l0 94l0-118l1 55l0-163l0 150l1-42l0-121l0 166l0-30l0-51l0 154l0-86l0-25l0 116l0-233l0 165l0-131l1 30l0-20l0 55l0-15l0-64l0 38l0 78l1 12l0 80l1-175l0 137l0-100l0 40l0 43l0-134l1-13l0-14l0 94l0-129l0 232l1-56l0-159l0 102l0 29l0 17l0-67l1-75l0 48l0 20l0 92l0-43l0 62l1-152l0 140l0 17l0-158l0-19l0 82l1-47l0 121l0-135l0 96l1-81l0 92l0-120l0 114l0 20l1-94l0 67l0-32l0-69l0 80l0 89l0-156l0 48l0-54l0 32l0 115l0 7l2-107l0 67l0-74l0-68l0 218l0 15l0-195l1 127l0 163l0-320l0 201l1-54l0-45l0 7l0 101l0-92l0-108l0 184l0-171l1 117l0-10l0-39l0-51l0 16l0 20l0 162l0-223l1 67l0 87l0-6l0 47l1-175l0-44l0 194l0-11l0-19l1 124l0-13l0-259l0 80l1-98l0 107l0-51l0-50l0 65l0 119l0-52l0 7l0-63l0 79l1-120l0 79l0 65l0-172l0 15l0 49l1-43l0-44l0-14l0 200l0-87l0 64l0 137l0-159l1-75l0 18l0 183l0-36l0-217l0 253l1-252l0-3l0 39l0 39l0 45l0-49l1-32l0 287l0-189l0 38l0-86l0-99l1 166l0-101l0-56l0 166l0 120l0-69l0-116l0-54l0 79l0 6l0-52l0 28l0-42l1-57l0 108l1-99l0 16l0 252l0-258l0 173l1-49l0 75l0 59l0-248l0 37l1 70l1 47l0-97l0-12l0-22l0 192l0-75l0-129l1 149l0-69l0-7l0-121l0 171l0-106l0 100l0-29l0 95l1-15l0-210l0 15l0-60l0 150l0 215l0-238l0 156l0-204l0 65l1 180l0-59l0-72l0 98l0-220l0 159l0 135l1-228l0-43l0 104l0-84l1 57l0 10l0-143l0 151l0-108l1-32l0 316l0-41l0-177l0 123l0-34l1 75l0 54l2-170l1 35l0 135l0-343l1 132l1 101l0 110l0-74l0-55l1 19l0 15l0 95l1-187l1 105l0-298l0 112l1 111l0 75l0 41l0-151l1 138l0-125l1-154l0 259l0-93l1 85l0 28l0-92l1 24l0 48l1 74l0-237l2 163l0-127l0 201l0-149l1 54l0 21l1-169l0 55l1 37l0 69l1-28l0-83l2-123l0 234l0-28l1-245l0 173l0 100l1-101l1 183l1-95l1-24l0-16l2 3l0-70l1-147l0 267l0 8l0-36l0 110l1-267l0 157l1 28l0-83l1-197l1 280l0-94l0 122l1-282l0 187l0 75l1-87l0 107l1-20l0-45l1 78l0-81l1-238l0-19l1 379l0-74l0-26l0 46l1-119l0-157l1 235l0 13l1-37l1 9l0-79l0 189l1-257l1 92l0 83l1 28l0-28l0 82l0-309l1 209l1-101l1-99l1 171l0-17l1-213l1 14l0 18l0 273l0-113l1 67l0 100l1-358l1 220l0-6l2-98l0 201l1-13l0-187l0 74l1-65l0 232l0-333l1 223l0 69l0-165l0-45l0 38l0 131l0-207l0 89l0-44l0 66l0-97l1 80l0-63l0-103l0 27l0 252l0-88l0-136l0 77l0 175l0-228l0 45l0 127l0-230l0 183l1 57l0-199l0-29l0 6l0-41l1 175l0-81l0 150l1-99l0-138l0 246l0-258l0 21l0 164l0-129l1-62l0 320l0-107l0-41l1 29l0-159l0 222l0-133l0 94l0 23l0-82l0-77l0 130l0 101l0-142l0 196l1-342l0 228l0-135l0-70l0 151l0 73l1-180l0-52l0-63l0 280l0-124l0 8l0-82l1 51l0 71l0-84l1-43l0 74l0 95l0-144l0-46l0-12l0 305l0-120l1-18l0-191l0 115l0 255l0-304l1 147l0 157l0-354l0 92l0 55l0-71l0 56l1 76l0-127l0 5l0 72l0 24l0-24l0-129l0 215l0-78l0-25l0-12l1 42l0-167l0 96l0 48l0-88l0 194l0-264l0 62l1-57l0 127l0 75l0-111l0 49l0-97l0-24l0 95l0 245l0-82l0-13l1-234l0 210l0-154l0-34l0 307l0-129l1-50l0 28l0-49l1-59l0 115l0-84l0 35l0 98l0-140l0-101l1 295l0-59l0-61l0-93l0 40l0 47l0-6l0-152l0 271l1-68l0-113l0 25l0-115l0 53l1 121l0 37l0-140l0 159l0-211l0-10l0 13l0 103l1-80l0-24l0 222l0-150l0-83l0 174l0-104l0 59l0-105l0 172l1-211l0 173l0 116l0-155l0-66l0 55l0 27l1-89l0-76l0 125l0-36l0-42l0 216l0-256l1 123l0-71l0 172l0-114l0-80l0-16l0 192l0-228l1 123l0 86l0-17l0 94l0-129l1 11l0 57l0 9l0-147l0-20l0 239l0-249l0 140l1 49l0-132l0-96l0 78l0-16l0 198l0-248l0 289l0-88l0-123l0-61l1 239l0-148l0-99l0 123l1 19l0-29l0 21l0 49l0-149l1-50l0 263l0-96l0-88l0 105l0 27l0-9l1-174l0 199l0-128l0-59l0 197l0-127l1 98l0-119l0-78l0-24l1 204l0-119l0-37l0 11l0 12l0 84l0 69l0-147l1-62l0 115l0 8l0 90l0-60l0-136l0 114l0 29l0 75l1-19l0-137l0 105l0 56l0-217l0 61l1 16l0-95l0 46l0 284l0-159l0-29l0-171l0 191l1 68l0-239l0 97l1 242l0-303l0-49l0 298l0-68l0-13l0-241l0 79l0 98l0-66l1 50l0 71l0-2l0-80l0 47l1 24l0-77l0-23l0-78l0 12l0-20l0 51l0 125l1-146l0-45l0 169l0-98l0 139l0 36l0-28l0-35l0-31l0-141l0 125l1-50l0-84l0 280l0 33l0-204l0 131l1-186l0-67l0 117l0-45l0 146l0 149l0-129l0 29l1 18l0-243l0 128l0-154l0 71l0 40l0-98l0 256l0-183l0 49l0 7l1 31l0-141l0 193l0 31l0-266l0 361l1-230l0-26l0 174l0-106l0-35l0 55l0-120l0 159l0-177l0 34l1 198l0 33l0-302l0 108l0-78l1 231l0-13l0 95l0-173l0-127l0 149l0-213l1 120l0-39l0 134l0-128l0 155l0-202l0-6l1 12l0 112l0 41l0-205l0 107l0 24l1 165l0-122l0 96l0-191l0 111l0-10l0-39l0 229l0-259l0-6l1-16l0 5l0 65l0-55l0-58l0 189l1-59l0-65l0 185l0-180l0-69l0 62l0 151l0-113l1-87l0 102l0-171l1 177l0 23l0-16l0 69l0-176l0 141l0-154l0 83l1 122l0-55l0-59l0-115l1 244l0-165l0-30l0 55l0-66l0 227l0 74l0-336l1 116l0 67l0-240l0 247l0-84l0-35l0 66l0-57l0-30l0 108l0-62l1-84l0 19l0 121l0-182l0 89l0-52l0 115l0 22l0 25l0-147l0 170l0-15l0-112l0-87l1 59l0 217l0-160l0-87l0 14l0 71l0 203l1-247l0 162l0-108l0-84l0 277l0-270l0 15l1-46l0 210l0-215l1 141l0-39l0-99l0 143l0-28l0 78l0-28l0-115l1 294l0-126l0-207l0 53l0 110l0-80l0-10l0 99l0-138l0-50l1 109l0-112l0 203l0 49l0-183l0-8l1 73l0 65l0-180l0 8l1 176l0-150l0 140l0 6l0 71l0 8l1-204l0-57l0 51l0 30l0-40l2 112l1 38l0-7l1-69l0 36l1 102l0 82l1-110l0-69l1 179l0-280l1 280l0-161l1-108l0 140l0 88l0-41l0-177l1-16l1 120l1-119l0 90l0 184l1-234l0 59l0 101l0 20l1 13l0 41l1-119l1-157l0 138l1-35l0 173l1-260l0 219l0-54l1 95l1-129l1-38l0-94l1 139l1 40l0-98l0 180l1-100l0 100l0-41l1-54l0-68l1-31l0 53l1 31l0 110l2-266l0-15l1 126l2 81l0-26l1-46l0-119l1 224l1-146l0 133l0 13l1-94l0 135l1-243l1 94l0-111l0 90l2-93l0 23l0 94l2 24l1 122l0-151l2-92l0 111l0 6l0 44l1 8l0 33l0 41l1-129l0 75l0-46l1-98l0 66l1-147l0 33l0-19l0-32l0 82l0 141l0-167l0 109l0-127l0 27l0-72l0-19l1 116l0-66l0 84l0 48l0-145l0 186l0-55l0-162l0 144l0-25l0-28l1 88l0 16l0 68l0-293l0 7l1 156l0 102l0-79l0-166l0-34l0 52l0 57l1 31l0 54l0-191l0 90l1 130l0-97l0-42l0 167l1-243l0 106l0 42l0-88l0 149l0-53l0 197l0-300l0 13l1 233l0-101l0-164l0-13l0 60l0-126l0 209l1-41l0-138l0 150l0-94l0 52l0-87l0 215l0 50l0-94l0 81l0-88l1-27l0-138l0 248l0-61l1-120l0 171l0-112l0 222l0-168l0-138l0 64l0-97l0 137l0-158l1 70l0-35l0 251l0-48l1-145l0 20l0 128l0-199l0 43l0-23l0-55l0 200l1-81l0-98l0 197l0 25l0 36l1-132l0-106l0 84l0 53l0 80l1-162l0 37l0-60l0 154l0-215l0 206l0-58l0-93l1 127l0-27l0-120l0-16l0 120l0 22l1 85l0 95l0-292l0 163l0-134l1 189l0-128l0-151l0 70l0 188l0-94l1-165l0 121l0-127l0 156l0-50l1-15l0 91l0 25l0-165l1-18l0 336l0-336l0 93l0 111l0-56l0-26l1-101l0-25l0 168l0-39l0-116l0 102l0-109l0 53l0 70l1-119l0 2l0 246l0-44l1-88l0-107l0 120l0-94l1 12l0 42l0-58l0 64l0 121l1-128l0 188l0-20l0-152l0 104l1-116l0 66l0-38l0-30l0 87l1-14l0-144l0 83l0-77l0 104l0 38l0-182l0 66l0 57l0 52l0-80l0-20l0 37l1 49l0-26l0-119l0 150l0-108l0 134l0-63l0 90l0-20l0-173l0 61l1-40l0 54l0 55l0 107l0-253l1 294l0-164l0 76l0-3l1-132l0-76l0 340l0-358l0 76l0 29l1 179l0-121l0 22l0 41l0-208l0 36l0 80l1-54l0 43l0 106l0-185l0 153l0-165l0 54l0 42l0 111l1-193l0 68l0 244l0-212l0 61l1-143l0 110l0-34l0-42l1 160l0-38l0-146l1 129l0-37l0 22l0-132l0 104l0 98l0 26l0-177l1-15l0-50l0 41l0 99l0-62l0 12l1 20l0-9l0-106l0 221l0-49l0-172l0 195l0-172l1 9l0-22l0 55l0 24l0 48l0 23l0 161l1-280l0 19l0 161l0 46l0-65l0-125l1 149l0-209l0 153l0-142l0 95l0 88l1 110l0-211l0-59l0 91l0-39l0-67l1 128l0 83l0-178l0-73l0 8l0 152l0-28l0 23l0-149l1-13l0 232l0-240l0 105l0 116l1-193l0 53l0 75l0 110l0-228l0 72l0-16l0 22l1 92l0-72l0-93l0 202l0-184l0 64l0 18l0 46l0 22l0-138l1 58l0-114l0 249l0-166l1 186l0-217l0 171l0-29l0-199l0 22l1-10l0 234l0 82l0-188l0 6l0-106l0 125l0 41l1 81l0-69l0-110l0 120l1-150l0 21l0 119l0-150l0 178l0-254l0 187l0-86l0-59l0 96l1-68l0 225l0-240l0 6l0 100l0 53l1-33l1 81l0-234l0 105l0 108l0-66l0-152l0 15l0 104l0 12l1-33l0-73l0 288l0-126l0-98l0 15l0-37l0 97l0-90l1 51l0-134l0 152l0-83l0-60l1 164l0 30l0-157l1 7l0-61l0-8l0 219l0-186l0 76l0-33l0 97l0-130l0 221l1-58l0 32l0 59l0-85l0-27l0-53l1-14l0 25l0-86l0 122l0-76l0 153l0-208l0 76l0-106l0 120l0 27l1 78l0 41l0-188l0-6l1-18l0 11l0-44l0 115l0 89l0-230l1 225l0-68l0-117l0-45l0 152l0-135l0 124l1 79l0-150l0-13l0-50l1 18l0 85l0 101l0-175l0 105l1-14l0 149l0-151l0-1l0 51l0-91l0 105l0 141l0-82l0-244l1 71l0 52l0-83l1 89l0-38l0 194l0-54l0-167l0 113l1-143l0 84l0 51l1-161l0 223l0-62l0-89l0-87l0 64l0 101l0-143l0 25l1 30l0 121l0-167l0 10l0 55l0-14l0-95l0 124l0 39l0-98l0 199l0-111l1 93l0-129l0 66l0-153l1 40l0 123l0-47l0 81l0-204l1 29l0 50l0 9l0-74l0 70l1 101l0-182l1 320l0-157l0-10l1 29l0-83l0-29l0-9l0 149l0-122l0 37l0-110l0 99l0-87l0 66l1 81l0-142l0 108l0-60l0 25l0 26l0 79l1-212l0 149l0-106l0 7l0 27l0 119l0-138l1-48l0 190l0 48l0-226l0 117l0-71l1 40l0-105l0 205l0-83l1-28l0 225l0-305l0 195l0-62l0-110l0 208l1-210l1 121l0 122l1-110l0-195l0 71l1 175l1 100l0-322l0 62l0 111l1 39l2-201l0-27l1 168l0 88l0-28l1 110l0-110l1-102l1-33l0 145l2-78l0 137l1-110l0-44l0 113l2-217l0 134l1 165l0-74l0-259l2 168l0 55l1-25l1-143l1 164l1 32l0 8l0-148l1-132l0 300l0-87l2-193l1 212l0 8l1-241l0 255l0 26l2-166l0 199l0-13l0-154l1-111l1 131l0 114l0-8l1-88l0 88l1-185l0 167l0-234l1 212l0 40l0-97l1 105l0-156l2-91l0 199l0-170l0 197l0-37l1 132l0-144l1-24l0-113l1-69"/></defs>
<use href="#p3" fill="none" stroke="none" marker-start="url(#g)" marker-mid="url(#g)" marker-end="url(#g)"/>
<use href="#p3" fill="none" stroke="none" marker-start="url(#b)" marker-mid="url(#b)" marker-end="url(#b)"/>
<line x1="141.2" y1="1458.5" x2="397.9" y2="1458.5" stroke="#2f8ad8" stroke-width="11.2" stroke-linecap="round"/>
<line x1="410.4" y1="1458.5" x2="658.9" y2="1458.5" stroke="#2f8ad8" stroke-width="11.2" stroke-linecap="round"/>
<line x1="673.1" y1="1458.5" x2="1008.8" y2="1458.5" stroke="#2f8ad8" stroke-width="11.2" stroke-linecap="round"/>
<polyline points="139.0,1155.6 140.5,1156.5 141.9,1158.0 143.4,1160.3 144.8,1163.3 146.3,1166.9 147.8,1171.2 149.2,1176.2 150.7,1181.7 152.1,1187.8 153.6,1194.5 155.1,1201.6 156.5,1209.3 158.0,1217.4 159.4,1225.9 160.9,1234.8 162.4,1244.0 163.8,1253.4 165.3,1263.1 166.7,1273.0 168.2,1283.0 169.7,1293.1 171.1,1303.2 172.6,1313.3 174.0,1323.3 175.5,1333.2 177.0,1343.0 178.4,1352.5 179.9,1361.8 181.3,1370.7 182.8,1379.4 184.3,1387.6 185.7,1395.4 187.2,1402.7 188.6,1409.5 190.1,1415.8 191.6,1421.5 193.0,1426.6 194.5,1431.1 195.9,1435.0 197.4,1438.1 198.9,1440.6 200.3,1442.4 201.8,1443.5 203.2,1443.9 204.7,1443.6 206.2,1442.5 207.6,1440.8 209.1,1438.4 210.5,1435.3 212.0,1431.5 213.5,1427.1 214.9,1422.0 216.4,1416.4 217.8,1410.2 219.3,1403.4 220.8,1396.1 222.2,1388.4 223.7,1380.2 225.1,1371.6 226.6,1362.7 228.1,1353.4 229.5,1343.9 231.0,1334.2 232.4,1324.3 233.9,1314.2 235.4,1304.1 236.8,1294.0 238.3,1283.9 239.7,1273.9 241.2,1264.0 242.7,1254.3 244.1,1244.9 245.6,1235.6 247.0,1226.7 248.5,1218.2 250.0,1210.0 251.4,1202.3 252.9,1195.1 254.3,1188.4 255.8,1182.2 257.3,1176.7 258.7,1171.7 260.2,1167.3 261.6,1163.6 263.1,1160.6 264.6,1158.2 266.0,1156.6 267.5,1155.6 268.9,1155.4 270.4,1155.9 271.9,1157.0 273.3,1158.9 274.8,1161.5 276.2,1164.7 277.7,1168.6 279.2,1173.2 280.6,1178.4 282.1,1184.1 283.5,1190.5 285.0,1197.3 286.5,1204.7 287.9,1212.6 289.4,1220.8 290.8,1229.5 292.3,1238.5 293.8,1247.8 295.2,1257.4 296.7,1267.1 298.1,1277.1 299.6,1287.1 301.1,1297.2 302.5,1307.3 304.0,1317.4 305.4,1327.4 306.9,1337.2 308.4,1346.9 309.8,1356.3 311.3,1365.5 312.7,1374.3 314.2,1382.8 315.7,1390.9 317.1,1398.5 318.6,1405.6 320.0,1412.2 321.5,1418.2 323.0,1423.7 324.4,1428.6 325.9,1432.8 327.3,1436.3 328.8,1439.2 330.3,1441.4 331.7,1442.9 333.2,1443.8 334.6,1443.9 336.1,1443.2 337.6,1441.9 339.0,1439.9 340.5,1437.2 341.9,1433.8 343.4,1429.8 344.9,1425.1 346.3,1419.8 347.8,1413.9 349.2,1407.4 350.7,1400.5 352.2,1393.0 353.6,1385.0 355.1,1376.7 356.5,1368.0 358.0,1358.9 359.5,1349.5 360.9,1339.9 362.4,1330.1 363.8,1320.2 365.3,1310.1 366.8,1300.0 368.2,1289.9 369.7,1279.8 371.1,1269.9 372.6,1260.0 374.1,1250.4 375.5,1241.0 377.0,1231.9 378.4,1223.2 379.9,1214.8 381.4,1206.8 382.8,1199.3 384.3,1192.3 385.7,1185.8 387.2,1179.9 388.7,1174.5 390.1,1169.8 391.6,1165.7 393.0,1162.3 394.5,1159.5 396.0,1157.5 397.4,1156.1 398.9,1155.4 400.3,1155.5 401.8,1156.3 403.3,1157.7 404.7,1159.9 406.2,1162.7 407.6,1166.2 409.1,1170.4 410.6,1175.2 412.0,1180.7 413.5,1186.7 414.9,1193.2 416.4,1200.3 417.9,1207.9 419.3,1215.9 420.8,1224.4 422.2,1233.2 423.7,1242.3 425.2,1251.7 426.6,1261.4 428.1,1271.2 429.5,1281.2 431.0,1291.3 432.5,1301.4 433.9,1311.5 435.4,1321.5 436.8,1331.5 438.3,1341.2 439.8,1350.8 441.2,1360.1 442.7,1369.2 444.1,1377.9 445.6,1386.2 447.1,1394.0 448.5,1401.4 450.0,1408.4 451.4,1414.7 452.9,1420.5 454.4,1425.8 455.8,1430.4 457.3,1434.3 458.7,1437.6 460.2,1440.2 461.7,1442.1 463.1,1443.4 464.6,1443.9 466.0,1443.7 467.5,1442.8 469.0,1441.2 470.4,1438.9 471.9,1435.9 473.3,1432.2 474.8,1427.9 476.3,1423.0 477.7,1417.4 479.2,1411.3 480.6,1404.6 482.1,1397.4 483.6,1389.8 485.0,1381.7 486.5,1373.1 487.9,1364.3 489.4,1355.1 490.9,1345.6 492.3,1335.9 493.8,1326.0 495.2,1316.0 496.7,1305.9 498.2,1295.8 499.6,1285.7 501.1,1275.7 502.5,1265.8 504.0,1256.1 505.5,1246.5 506.9,1237.3 508.4,1228.3 509.8,1219.7 511.3,1211.5 512.8,1203.7 514.2,1196.4 515.7,1189.6 517.1,1183.3 518.6,1177.6 520.1,1172.5 521.5,1168.1 523.0,1164.2 524.4,1161.1 525.9,1158.6 527.4,1156.8 528.8,1155.8 530.3,1155.4 531.7,1155.7 533.2,1156.8 534.7,1158.5 536.1,1161.0 537.6,1164.1 539.0,1167.9 540.5,1172.3 542.0,1177.4 543.4,1183.1 544.9,1189.3 546.3,1196.1 547.8,1203.4 549.3,1211.1 550.7,1219.3 552.2,1227.9 553.6,1236.9 555.1,1246.1 556.6,1255.7 558.0,1265.4 559.5,1275.3 560.9,1285.3 562.4,1295.4 563.9,1305.5 565.3,1315.6 566.8,1325.6 568.2,1335.5 569.7,1345.2 571.2,1354.7 572.6,1363.9 574.1,1372.8 575.5,1381.3 577.0,1389.5 578.5,1397.1 579.9,1404.4 581.4,1411.0 582.8,1417.2 584.3,1422.8 585.8,1427.7 587.2,1432.1 588.7,1435.8 590.1,1438.8 591.6,1441.1 593.1,1442.7 594.5,1443.7 596.0,1443.9 597.4,1443.4 598.9,1442.2 600.4,1440.3 601.8,1437.7 603.3,1434.5 604.7,1430.5 606.2,1426.0 607.7,1420.8 609.1,1415.0 610.6,1408.6 612.0,1401.7 613.5,1394.4 615.0,1386.5 616.4,1378.2 617.9,1369.5 619.3,1360.5 620.8,1351.2 622.3,1341.6 623.7,1331.9 625.2,1321.9 626.6,1311.9 628.1,1301.8 629.6,1291.7 631.0,1281.6 632.5,1271.6 633.9,1261.8 635.4,1252.1 636.9,1242.7 638.3,1233.5 639.8,1224.7 641.2,1216.3 642.7,1208.2 644.2,1200.6 645.6,1193.5 647.1,1186.9 648.5,1180.9 650.0,1175.4 651.5,1170.6 652.9,1166.4 654.4,1162.9 655.8,1160.0 657.3,1157.8 658.8,1156.3 660.2,1155.5 661.7,1155.4 663.1,1156.1 664.6,1157.4 666.1,1159.4 667.5,1162.2 669.0,1165.6 670.4,1169.6 671.9,1174.3 673.4,1179.6 674.8,1185.6 676.3,1192.0 677.7,1199.0 679.2,1206.5 680.7,1214.5 682.1,1222.8 683.6,1231.6 685.0,1240.6 686.5,1250.0 688.0,1259.6 689.4,1269.4 690.9,1279.4 692.3,1289.5 693.8,1299.6 695.3,1309.7 696.7,1319.7 698.2,1329.7 699.6,1339.5 701.1,1349.1 702.6,1358.5 704.0,1367.6 705.5,1376.3 706.9,1384.7 708.4,1392.7 709.9,1400.2 711.3,1407.2 712.8,1413.6 714.2,1419.6 715.7,1424.9 717.2,1429.6 718.6,1433.7 720.1,1437.1 721.5,1439.8 723.0,1441.9 724.5,1443.2 725.9,1443.8 727.4,1443.8 728.8,1443.0 730.3,1441.5 731.8,1439.3 733.2,1436.5 734.7,1432.9 736.1,1428.7 737.6,1423.9 739.1,1418.5 740.5,1412.4 742.0,1405.9 743.4,1398.8 744.9,1391.2 746.4,1383.1 747.8,1374.7 749.3,1365.9 750.7,1356.7 752.2,1347.3 753.7,1337.6 755.1,1327.8 756.6,1317.8 758.0,1307.7 759.5,1297.6 761.0,1287.5 762.4,1277.5 763.9,1267.5 765.3,1257.8 766.8,1248.2 768.3,1238.9 769.7,1229.9 771.2,1221.2 772.6,1212.9 774.1,1205.0 775.6,1197.6 777.0,1190.7 778.5,1184.4 779.9,1178.6 781.4,1173.4 782.9,1168.8 784.3,1164.9 785.8,1161.6 787.2,1159.0 788.7,1157.1 790.2,1155.9 791.6,1155.4 793.1,1155.6 794.5,1156.5 796.0,1158.2 797.5,1160.5 798.9,1163.5 800.4,1167.2 801.8,1171.5 803.3,1176.4 804.8,1182.0 806.2,1188.1 807.7,1194.8 809.1,1202.0 810.6,1209.7 812.1,1217.8 813.5,1226.4 815.0,1235.3 816.4,1244.5 817.9,1253.9 819.4,1263.6 820.8,1273.5 822.3,1283.5 823.7,1293.6 825.2,1303.7 826.7,1313.8 828.1,1323.8 829.6,1333.8 831.0,1343.5 832.5,1353.0 834.0,1362.3 835.4,1371.2 836.9,1379.8 838.3,1388.0 839.8,1395.8 841.3,1403.1 842.7,1409.9 844.2,1416.1 845.6,1421.8 847.1,1426.9 848.6,1431.3 850.0,1435.1 851.5,1438.3 852.9,1440.7 854.4,1442.5 855.9,1443.5 857.3,1443.9 858.8,1443.5 860.2,1442.5 861.7,1440.7 863.2,1438.2 864.6,1435.1 866.1,1431.3 867.5,1426.8 869.0,1421.7 870.5,1416.1 871.9,1409.8 873.4,1403.0 874.8,1395.7 876.3,1387.9 877.8,1379.7 879.2,1371.1 880.7,1362.2 882.1,1352.9 883.6,1343.4 885.1,1333.6 886.5,1323.7 888.0,1313.7 889.4,1303.6 890.9,1293.5 892.4,1283.4 893.8,1273.4 895.3,1263.5 896.7,1253.8 898.2,1244.3 899.7,1235.1 901.1,1226.3 902.6,1217.7 904.0,1209.6 905.5,1201.9 907.0,1194.7 908.4,1188.1 909.9,1181.9 911.3,1176.4 912.8,1171.4 914.3,1167.1 915.7,1163.4 917.2,1160.4 918.6,1158.1 920.1,1156.5 921.6,1155.6 923.0,1155.4 924.5,1155.9 925.9,1157.1 927.4,1159.0 928.9,1161.6 930.3,1164.9 931.8,1168.9 933.2,1173.4 934.7,1178.7 936.2,1184.5 937.6,1190.8 939.1,1197.7 940.5,1205.1 942.0,1213.0 943.5,1221.3 944.9,1230.0 946.4,1239.0 947.8,1248.3 949.3,1257.9 950.8,1267.7 952.2,1277.6 953.7,1287.7 955.1,1297.8 956.6,1307.9 958.1,1318.0 959.5,1327.9 961.0,1337.8 962.4,1347.4 963.9,1356.9 965.4,1366.0 966.8,1374.8 968.3,1383.3 969.7,1391.3 971.2,1398.9 972.7,1406.0 974.1,1412.5 975.6,1418.5 977.0,1424.0 978.5,1428.8 980.0,1433.0 981.4,1436.5 982.9,1439.4 984.3,1441.5 985.8,1443.0 987.3,1443.8 988.7,1443.8 990.2,1443.2 991.6,1441.8 993.1,1439.8 994.6,1437.0 996.0,1433.6 997.5,1429.5 998.9,1424.8 1000.4,1419.5 1001.9,1413.6 1003.3,1407.1 1004.8,1400.1 1006.2,1392.6 1007.7,1384.6 1009.2,1376.2 1010.6,1367.5 1012.1,1358.4 1013.5,1349.0 1015.0,1339.4" fill="none" stroke="#fa0036" stroke-width="14" stroke-linejoin="round" stroke-linecap="round"/>
</g>
<line x1="1128" y1="869" x2="1128" y2="1462.5" stroke="#a0a0a0" stroke-width="2"/>
<line x1="1128" y1="1461.5" x2="2008" y2="1461.5" stroke="#a8a8a8" stroke-width="2"/>
<text x="1120.0" y="933.3" font-size="18" font-weight="normal" text-anchor="end" fill="#3a3a3a" >4.0</text>
<text x="1120.0" y="1066.6" font-size="18" font-weight="normal" text-anchor="end" fill="#3a3a3a" >3.0</text>
<text x="1120.0" y="1199.9" font-size="18" font-weight="normal" text-anchor="end" fill="#3a3a3a" >2.0</text>
<text x="1120.0" y="1333.2" font-size="18" font-weight="normal" text-anchor="end" fill="#3a3a3a" >1.0</text>
<text x="1120.0" y="1466.5" font-size="18" font-weight="normal" text-anchor="end" fill="#3a3a3a" >.0</text>
<text x="1170.9" y="1485.5" font-size="18" font-weight="normal" text-anchor="middle" fill="#3a3a3a" >24</text>
<text x="1564.5" y="1485.5" font-size="18" font-weight="normal" text-anchor="middle" fill="#3a3a3a" >36</text>
<text x="1958.1" y="1485.5" font-size="18" font-weight="normal" text-anchor="middle" fill="#3a3a3a" >48</text>
<text x="1566.0" y="1530.0" font-size="26.5" font-weight="bold" text-anchor="middle" fill="#000" textLength="169.5" lengthAdjust="spacingAndGlyphs">24-hour Time</text>
<text transform="translate(1068.0,1164.2) rotate(-90)" font-size="26" font-weight="bold" text-anchor="middle" textLength="142" lengthAdjust="spacingAndGlyphs">log(Activity)</text>
<clipPath id="c1R"><rect x="1129" y="869" width="880" height="593.5"/></clipPath>
<g clip-path="url(#c1R)">
<defs><path id="p4" d="M1130 1270l13 27l1-31l19 74l4-53l3-94l0 147l1-181l0-39l0 63l2-10l16 108l1 45l3-39l1 80l10-46l9-61l1 19l2 61l1-70l3-121l0 28l1 170l2-36l2-180l1 249l15-13l26-164l0 70l7 38l2-167l21 276l19-40l0-54l5 14l2-31l10-68l3 179l1-319l0 49l2 67l1-60l0 69l0 14l0 50l1-184l0 20l2 148l1-100l0 20l2 42l0 184l3-193l0 62l4-103l1 41l0 70l0 83l0 40l3-166l0 27l3-8l1 53l2 41l0 53l8-171l0 118l3-27l13 7l0-26l7 99l3 0l0-247l2 48l1 106l0-81l47 214l2-80l2 80l0-204l0-16l0-70l0 13l3-21l0-15l1 48l0-12l0 16l0-65l0 6l0 100l2 180l1-164l0-18l0-89l0 105l1-37l0-19l2-35l0 29l0-60l3 49l1 88l0 38l1-177l0 0l1 148l0-2l0-11l1-56l0-67l0-14l0 175l0 9l1-95l0 13l0 12l0-92l0-17l1 214l1-121l0 10l0-13l0-81l1 119l0-21l0-34l0-11l0-53l0-11l1 181l1-116l1 100l1-149l0 18l1-6l1 122l0-105l1-28l1 61l0-23l1 81l0-196l0 12l0 7l2 166l0-30l0-46l0 9l0-12l0-13l2-25l1 25l0-35l1 88l0-37l0 17l2 183l0-173l1-67l0-11l2 99l1-26l0 28l1 110l1-122l1-138l0 227l2-88l0-18l0 30l1 72l0-91l3-126l2-12l0 11l0 127l1-14l1 114l0-25l0 12l0-103l0-17l0-11l1-93l0 237l1-128l0-14l0-13l2 114l0 10l0 18l0-15l1-104l0 46l2-36l1 19l0 47l0-77l1-37l0 6l1 148l1-158l0 21l0 41l1-32l0-16l0-4l0-19l1 51l0-11l1 73l1 2l0-114l1 35l0-19l0-14l0 17l0 116l0 11l1-136l0 167l1-164l1-16l0 176l1 4l1-77l0 16l2-15l0 17l1 48l1-168l0 184l1-36l0 27l0-22l0-190l0 16l0 9l2 174l0 36l1-67l2-15l1 49l0-148l2 162l3 113l0-94l1-95l0 38l1-137l2 149l0 18l0-101l0 36l0-25l0 98l1-162l1 195l1 80l0-223l0 18l0 75l1 36l0-186l0 14l0 13l0 19l0 101l0-20l0 17l1-89l1 68l0-25l0 65l1-4l0 68l0 13l1-166l0-18l1 264l0-376l1 117l0 89l0-3l0-16l0 149l1-339l0 95l0 98l2 52l0 94l1-136l0 83l1-169l0-19l0-64l0 51l1 130l0-79l1-5l0 157l1-70l0-9l1 130l0-247l0 16l0 110l1-70l0 83l0-9l0-27l1-140l0 31l0 132l0-168l1 62l0-19l0 246l0-244l0 11l0 47l0-11l0-20l0 257l0-179l0 31l0-149l1 20l0-24l0 48l1 56l0 24l0 12l1-148l1-25l1 0l1-3l0 164l0-157l0 12l2 157l0 13l0-185l0 222l1-215l0 193l0-169l1 222l1-158l1 77l0-181l2 172l0-177l0-14l1 136l0 26l1 32l0 19l0-28l0 37l0-178l0 9l0 0l1 169l1-240l0 15l0 253l0-135l1 49l0 15l1 49l0-160l1 154l1-97l0 72l1-117l0-21l1 55l0 247l0-80l0-240l1 16l0 24l0 240l1-217l3 9l1-111l0 145l0-9l1-78l0-9l0-8l2 27l0 37l1 121l0 133l0-306l1-5l0-7l1 15l0 19l1 19l0-25l1 79l0-97l2 161l0-133l0 68l0-10l0-55l1 17l0-57l1 206l2-165l0-29l2 52l2 253l2-184l1 27l2-19l1-15l0 18l0-38l2 5l1 13l0 100l0 13l0-145l0 2l0 8l1 24l0-50l1 25l0 4l0 21l1-66l0 18l0-11l1 55l0 4l0-40l0 19l0-177l0 9l0 11l0 113l1 47l1 36l0-72l0-14l1 11l0 5l0 59l0-20l0-21l1 19l0 11l1 9l0-23l1-56l0 35l0 0l1 190l0-237l1 53l0 9l1-4l0-21l2-42l0-25l0 13l0 70l1 63l0-112l0 64l0-13l1 85l0-11l1-25l0 12l0-9l0-126l1 59l0 98l1-172l0 178l0-24l0-71l1 80l0-25l0-16l0-23l0-74l1 147l0-120l0-12l1 120l0-140l0-11l0 13l0 80l1-89l0-6l3 82l0 61l0 22l1-92l0 98l2 93l0-99l0-25l1-144l0 197l0-129l1-52l3 125l0-84l0 16l1-57l0-12l0-14l0 132l0-18l0-11l1-3l0-13l1-46l1-19l0-18l1 107l1-87l0-15l1 41l0-22l0 10l1 32l1 25l3-140l1 0l1-13l2 145l0-17l0-130l0-3l2 119l1-88l3 17l1 105l0-155l1 37l1 76l0-13l0-12l2-22l1-34l1-1l2 24l1 108l0-9l2-77l1 45l1-42l0 23l2-9l3 9l1-11l1 140l1-195l0 21l1-21l3 10l1-20l0 15l0 17l0-21l0 61l1-91l0-14l0 15l2 47l0 28l0-11l0-32l1-32l0 12l2 41l1 23l0-51l0-17l0 12l0-13l0-16l1 29l1 354l3 0l0-327l1 194l2-163l1 203l1 93l2-40l0-278l2-10l1 25l2 303l0-147l3 107l0-269l4-10l1 27l2-9l2-18l0 279l1-272l5 28l0-19l0 6l1-69l0 16l1 48l0 262l1-287l3 68l1 108l0-102l0 15l0-39l0 35l1-2l1-94l0 76l1-117l0 141l1 105l0 93l1-151l0-57l0-31l0 17l0 9l2-40l0 61l0-19l0 88l0-203l0 27l1 58l1-71l0 15l1 104l1-141l0 198l0 15l0-9l1-100l1 91l0-61l1-88l0 19l1-25l0-18l0 24l1-17l0 20l0 158l0-90l0-17l0-10l0 44l1-31l0 53l0-11l1-84l0 91l1-86l0-70l0 9l1 110l0 25l0-9l0-93l1 44l0 27l0 22l2-111l2 1l0-15l0-5l1 33l0-15l1 21l0 21l0-57l1 106l1-112l0 69l1-10l0 22l0 16l1-77l0-11l2 61l0 52l2-23l0-41l0-41l0 70l0 249l2-53l1-275l0 76l0 156l2-220l0 356l2-298l2 258l0-290l1 13l0 27l1-14l1-80l0 68l2 27l3 249l2-315l1 13l0-16l0 83l2 98l0 14l4-208l0 331l1-214l1-23l0 13l0-15l0-11l1-11l0-18l1 67l0 7l1 3l0-11l4 213l0-241l1-31l0 139l1-125l0 22l1 33l2-51l1 4l0-28l1-42l0-17l0 54l1-39l0 183l0 31l0-19l0-202l0 58l1-48l0 51l0-26l1 150l1 144l1-245l1 20l1-90l0 10l1 345l0-377l1 138l0 72l1-104l1 10l0 13l0-53l1 4l0 22l0 1l0 10l0 25l1 59l0 32l0-167l1-59l2 123l0 118l0-191l0-20l0 64l2 40l0-2l0 202l1-243l2 26l2-41l2 11l0-18l0 14l1 2l2 19l0 159l3-142l3-90l0-19l2 4l1-13l0 14l0 6l1 5l2 157l0-15l1 164l0-144l0 23l0 13l0-132l0 14l0-18l2 65l0 29l0-136l0 62l0 10l1-105l2 115l2 83l0-153l2 274l4-93l1-15l2 108l1-93l7 40l0 13l0-161l3 130l2-68l3-35l0-40l4-9l1 4l1 4l4 35l1 47l3 133l6-200l0 37l5-28l5 98l1 53l1-109l7-10l1 106l1-154l2 114l1-6l1-79l2 19l0 30l1 129l1-197l2 89l3 9l0-40l0 31l0-16l1-84l2 208l8 0l3-110l3-19l0 129l10-139"/></defs>
<use href="#p4" fill="none" stroke="none" marker-start="url(#g)" marker-mid="url(#g)" marker-end="url(#g)"/>
<use href="#p4" fill="none" stroke="none" marker-start="url(#b)" marker-mid="url(#b)" marker-end="url(#b)"/>
<line x1="1129.9" y1="1460.0" x2="1446.4" y2="1460.0" stroke="#2f8ad8" stroke-width="11.2" stroke-linecap="round"/>
<line x1="1846.6" y1="1460.0" x2="2002.4" y2="1460.0" stroke="#2f8ad8" stroke-width="11.2" stroke-linecap="round"/>
<polyline points="1128.0,1336.3 1132.4,1341.1 1136.8,1345.9 1141.2,1350.7 1145.6,1355.3 1150.0,1360.0 1154.4,1364.5 1158.8,1369.0 1163.2,1373.4 1167.6,1377.7 1172.0,1381.9 1176.4,1386.0 1180.8,1390.0 1185.2,1393.9 1189.6,1397.7 1194.0,1401.4 1198.4,1405.0 1202.8,1408.4 1207.2,1411.7 1211.6,1414.9 1216.0,1417.9 1220.4,1420.8 1224.8,1423.5 1229.2,1426.1 1233.6,1428.6 1238.0,1430.9 1242.4,1433.0 1246.8,1435.0 1251.2,1436.8 1255.6,1438.4 1260.0,1439.9 1264.4,1441.2 1268.8,1442.4 1273.2,1443.3 1277.6,1444.1 1282.0,1444.8 1286.4,1445.2 1290.8,1445.5 1295.2,1445.6 1299.6,1445.5 1304.0,1445.3 1308.4,1444.9 1312.8,1444.3 1317.2,1443.5 1321.6,1442.5 1326.0,1441.4 1330.4,1440.1 1334.8,1438.7 1339.2,1437.1 1343.6,1435.3 1348.0,1433.3 1352.4,1431.2 1356.8,1428.9 1361.2,1426.5 1365.6,1423.9 1370.0,1421.2 1374.4,1418.3 1378.8,1415.3 1383.2,1412.2 1387.6,1408.9 1392.0,1405.5 1396.4,1402.0 1400.8,1398.3 1405.2,1394.5 1409.6,1390.6 1414.0,1386.6 1418.4,1382.5 1422.8,1378.3 1427.2,1374.0 1431.6,1369.7 1436.0,1365.2 1440.4,1360.7 1444.8,1356.1 1449.2,1351.4 1453.6,1346.7 1458.0,1341.9 1462.4,1337.0 1466.8,1332.2 1471.2,1327.3 1475.6,1322.3 1480.0,1317.4 1484.4,1312.4 1488.8,1307.4 1493.2,1302.4 1497.6,1297.4 1502.0,1292.4 1506.4,1287.4 1510.8,1282.5 1515.2,1277.6 1519.6,1272.7 1524.0,1267.8 1528.4,1263.0 1532.8,1258.2 1537.2,1253.5 1541.6,1248.9 1546.0,1244.3 1550.4,1239.8 1554.8,1235.4 1559.2,1231.0 1563.6,1226.8 1568.0,1222.6 1572.4,1218.5 1576.8,1214.6 1581.2,1210.7 1585.6,1207.0 1590.0,1203.4 1594.4,1199.9 1598.8,1196.5 1603.2,1193.3 1607.6,1190.2 1612.0,1187.3 1616.4,1184.4 1620.8,1181.8 1625.2,1179.3 1629.6,1176.9 1634.0,1174.7 1638.4,1172.6 1642.8,1170.8 1647.2,1169.0 1651.6,1167.5 1656.0,1166.1 1660.4,1164.9 1664.8,1163.8 1669.2,1162.9 1673.6,1162.2 1678.0,1161.7 1682.4,1161.3 1686.8,1161.2 1691.2,1161.2 1695.6,1161.3 1700.0,1161.7 1704.4,1162.2 1708.8,1162.9 1713.2,1163.8 1717.6,1164.8 1722.0,1166.0 1726.4,1167.4 1730.8,1168.9 1735.2,1170.6 1739.6,1172.5 1744.0,1174.6 1748.4,1176.8 1752.8,1179.1 1757.2,1181.6 1761.6,1184.3 1766.0,1187.1 1770.4,1190.0 1774.8,1193.1 1779.2,1196.3 1783.6,1199.7 1788.0,1203.2 1792.4,1206.8 1796.8,1210.5 1801.2,1214.3 1805.6,1218.3 1810.0,1222.3 1814.4,1226.5 1818.8,1230.7 1823.2,1235.1 1827.6,1239.5 1832.0,1244.0 1836.4,1248.6 1840.8,1253.2 1845.2,1257.9 1849.6,1262.7 1854.0,1267.5 1858.4,1272.4 1862.8,1277.3 1867.2,1282.2 1871.6,1287.1 1876.0,1292.1 1880.4,1297.1 1884.8,1302.1 1889.2,1307.1 1893.6,1312.1 1898.0,1317.0 1902.4,1322.0 1906.8,1326.9 1911.2,1331.9 1915.6,1336.7 1920.0,1341.6 1924.4,1346.4 1928.8,1351.1 1933.2,1355.8 1937.6,1360.4 1942.0,1364.9 1946.4,1369.4 1950.8,1373.8 1955.2,1378.1 1959.6,1382.3 1964.0,1386.4 1968.4,1390.4 1972.8,1394.3 1977.2,1398.1 1981.6,1401.7 1986.0,1405.3 1990.4,1408.7 1994.8,1412.0 1999.2,1415.1 2003.6,1418.2 2008.0,1421.0" fill="none" stroke="#fa0036" stroke-width="14" stroke-linejoin="round" stroke-linecap="round"/>
</g>
<circle cx="2017" cy="884" r="8.3" fill="#75787c" stroke="#3b8fd9" stroke-width="3"/>
<circle cx="2017" cy="908.4" r="8.3" fill="#75787c" stroke="#fa0036" stroke-width="3"/>
<text x="2032.0" y="892.0" font-size="20" font-weight="normal" text-anchor="start" fill="#1a1a1a" textLength="214" lengthAdjust="spacingAndGlyphs">Observed log(Activity)</text>
<text x="2032.0" y="916.4" font-size="20" font-weight="normal" text-anchor="start" fill="#1a1a1a" textLength="214" lengthAdjust="spacingAndGlyphs">Predicted log(Activity)</text>
</g>
<g font-family="'Liberation Sans', Arial, sans-serif">
<text x="39.0" y="1592.2" font-size="30.5" font-weight="bold" text-anchor="start" fill="#000" >Male 1</text>
<text x="39.0" y="1625.7" font-size="24.4" font-weight="bold" text-anchor="start" fill="#000" textLength="216" lengthAdjust="spacingAndGlyphs">R-squared = 0.46</text>
<line x1="141" y1="1632.4" x2="141" y2="2234.5" stroke="#a0a0a0" stroke-width="2"/>
<line x1="141" y1="2233.5" x2="1020" y2="2233.5" stroke="#a8a8a8" stroke-width="2"/>
<text x="133.0" y="1701.0" font-size="18" font-weight="normal" text-anchor="end" fill="#3a3a3a" >4.0</text>
<text x="133.0" y="1835.5" font-size="18" font-weight="normal" text-anchor="end" fill="#3a3a3a" >3.0</text>
<text x="133.0" y="1970.0" font-size="18" font-weight="normal" text-anchor="end" fill="#3a3a3a" >2.0</text>
<text x="133.0" y="2104.5" font-size="18" font-weight="normal" text-anchor="end" fill="#3a3a3a" >1.0</text>
<text x="133.0" y="2239.0" font-size="18" font-weight="normal" text-anchor="end" fill="#3a3a3a" >.0</text>
<text x="185.2" y="2257.5" font-size="18" font-weight="normal" text-anchor="middle" fill="#3a3a3a" >24</text>
<text x="250.8" y="2257.5" font-size="18" font-weight="normal" text-anchor="middle" fill="#3a3a3a" >36</text>
<text x="316.5" y="2257.5" font-size="18" font-weight="normal" text-anchor="middle" fill="#3a3a3a" >48</text>
<text x="382.1" y="2257.5" font-size="18" font-weight="normal" text-anchor="middle" fill="#3a3a3a" >60</text>
<text x="447.8" y="2257.5" font-size="18" font-weight="normal" text-anchor="middle" fill="#3a3a3a" >72</text>
<text x="513.4" y="2257.5" font-size="18" font-weight="normal" text-anchor="middle" fill="#3a3a3a" >84</text>
<text x="579.0" y="2257.5" font-size="18" font-weight="normal" text-anchor="middle" fill="#3a3a3a" >96</text>
<text x="644.7" y="2257.5" font-size="18" font-weight="normal" text-anchor="middle" fill="#3a3a3a" >108</text>
<text x="710.3" y="2257.5" font-size="18" font-weight="normal" text-anchor="middle" fill="#3a3a3a" >120</text>
<text x="776.0" y="2257.5" font-size="18" font-weight="normal" text-anchor="middle" fill="#3a3a3a" >132</text>
<text x="841.6" y="2257.5" font-size="18" font-weight="normal" text-anchor="middle" fill="#3a3a3a" >144</text>
<text x="907.2" y="2257.5" font-size="18" font-weight="normal" text-anchor="middle" fill="#3a3a3a" >156</text>
<text x="972.9" y="2257.5" font-size="18" font-weight="normal" text-anchor="middle" fill="#3a3a3a" >168</text>
<text x="575.0" y="2304.5" font-size="26.5" font-weight="bold" text-anchor="middle" fill="#000" textLength="169.5" lengthAdjust="spacingAndGlyphs">24-hour Time</text>
<text transform="translate(82.0,1932.0) rotate(-90)" font-size="26" font-weight="bold" text-anchor="middle" textLength="142" lengthAdjust="spacingAndGlyphs">log(Activity)</text>
<clipPath id="c2L"><rect x="142" y="1632.4" width="879" height="602.0999999999999"/></clipPath>
<g clip-path="url(#c2L)">
<defs><path id="p5" d="M143 1822l1 158l0-85l0 39l0-87l0 36l1 9l0 20l0-51l1 24l0-48l0 91l0 29l0 34l0-41l0 27l0-135l0 57l1 120l0-157l0 60l0 16l0-22l0 51l0-89l0-11l0-39l2 63l0 42l0-23l0 218l1-156l0-27l0 17l1 25l0-138l0 78l0-113l0 61l0 77l1 216l0-249l0 130l0-194l0-23l0 50l1-44l0 146l0 54l0-102l0-70l0 91l1-114l0 46l0 209l0-112l0-18l1-144l0-6l0 85l0-42l1 161l0-128l0 15l0 54l0-91l0 164l1-86l0-129l1 33l0 60l0 254l0-239l0-7l0 100l0-194l0 171l0-118l0-46l0 138l1 44l0-61l1-12l0 47l0-56l0 233l0-302l0-25l0-18l0 64l1 196l1-236l0 147l0 64l0-199l0 16l0 293l0-270l1 11l0 110l0-22l0-57l1-21l0 233l0-188l0-39l1 31l0 21l0-126l0 137l0 34l1-155l0 23l0 44l0 12l0-102l1 308l0-180l0-57l1-83l0 50l0 18l1 127l0-86l0 20l0 34l0-134l0 47l1 12l0 208l0-173l0 213l1-179l0-60l0-56l0-20l0 14l0-32l1 60l0 81l1 192l0-181l0-129l0 32l0 75l1-64l0 124l0-66l1-21l0-109l0 166l0 4l0-129l1 10l0 71l0 21l0-63l0 37l1 206l0-288l0-30l0 18l0 316l0-272l0 20l0 61l1-132l0-14l1 197l0-124l0 113l0-25l0 160l0-191l0-104l0 19l1 53l0 25l0-18l0 232l1-282l0 103l0-120l0 51l1-21l0 47l0-108l0 130l0-138l0 20l1 63l0 86l0-23l0-97l1 289l0-136l0-167l0 3l1 230l0 70l1-216l0 41l1-37l1 163l0-129l1 29l0-20l1 169l0-116l2 100l0-157l0 18l1-72l0-53l1 195l0-95l0 46l1 134l1-236l0-27l1 214l0-129l1-7l1 61l0-138l1-26l3 162l0-148l1 177l1-99l1 41l1 27l0 58l0 70l0-160l1-86l1 36l0 69l1-144l0 285l2-202l2-65l1 38l0 75l1 105l2-120l0-44l1 50l1-70l0 32l0-140l0 121l1-26l0 38l0-112l1 136l0-155l0 106l0 19l1 165l0-225l0 155l0-136l0-27l1 2l0 61l0-93l0 114l0-53l0 30l1-11l0-39l0-15l0-32l0 15l0 93l0 52l0-98l1 16l0 37l0-90l1 177l0-135l0 26l0-104l0 172l1-47l0-59l0 2l1 221l1-288l0 148l0-46l0 8l0 22l0-62l0-17l0-23l0-36l0 230l0-208l1 46l0-52l0 111l0 27l0-105l0 52l1-8l0 171l0-237l0 177l0 81l0-153l0-145l1 192l0-202l0 18l1-37l0 51l0 112l0-144l1 104l0 108l0 105l1-269l0 36l0 67l0-170l1 121l0 53l0-40l0-9l0 17l0-53l1 58l0-25l1-22l0-39l0 69l0-97l0 26l0-3l1-19l0 38l0-29l0 24l0 59l1 7l0-18l0-55l1 172l0-177l0 221l0-227l1 101l0-3l0-46l1 79l0-107l0-1l0 301l0-338l0 65l0-18l0 99l1-161l0 107l0 14l0-80l0-12l0 161l0-118l0 41l0-16l0 47l0 32l1-25l0 32l0-44l0 31l0-37l0-43l1 118l0-199l0 3l0 23l1 248l0-236l0 306l0-227l0 31l0 26l1-107l0-87l0 212l0-134l0-51l0 42l1 157l0 28l0-158l0 268l1-183l0-149l0 19l1-9l0 79l0 98l0-103l0-9l0 55l0-13l0-130l0 109l1 13l1-66l0 8l0 96l0-114l0 27l0 81l0-161l1 155l0 38l0 89l1-236l0 75l0-30l1-51l0 67l0-6l0-69l0-9l0 44l0 161l1 124l0-293l0-93l1 176l0-207l0 310l1-195l0 46l0 66l0-89l0 230l0-286l1 65l0 68l0-18l0-7l0-129l0 171l0-140l1 309l0-216l0 232l0-265l1 103l0-84l0-40l1-17l1 116l0-19l0 80l0-166l0-15l0 28l0 65l1 214l0-196l0-106l0 63l1 72l0-93l0 35l0 71l0-117l0-47l0 69l1 233l0-249l0-32l0-44l0 184l0-175l1 145l0-45l0 53l0-145l0 40l1 82l0-42l0 85l0-118l1 153l0-96l0-140l0 147l0 29l0-109l1-63l0 41l0 12l0-41l0 152l1 4l0 52l0 23l0-93l1-132l0 80l0-70l0 56l0-48l0 93l0 29l0 198l0-16l1-273l0 48l1-40l0 46l0-11l0-54l0-12l1 124l0-23l0 92l1-175l0-13l0-17l0 107l1 101l0-107l0-48l1-59l0 54l0-65l0 141l0-56l0 17l1-50l0 126l0-82l0 97l1-117l0 125l0-92l0 27l1 12l0 5l0-116l0-6l0 169l0 71l1-248l0 38l0 55l0 109l1-38l0-30l1-107l0 34l0 92l0 116l0-223l0 21l0 12l0-85l1 144l0-166l0 15l0-5l0 118l0-81l1-55l0 147l0 21l1-77l0-22l0-30l0 38l0 48l0 31l2-24l0-26l0-58l0 176l1-58l0-23l0 104l0-83l1 25l0-89l0-47l1 10l0 30l0 67l0-48l1-70l0 193l0 79l0-96l1-141l0 207l0-250l0 148l0-52l0 25l1-136l0 175l0 75l0-124l0-73l1 172l0-186l0 78l0-13l0 161l0-116l0 137l0-198l0-25l1 223l0-118l0-85l0 14l1-65l0 45l0 94l1-39l0 30l0 133l1-223l0 106l0-130l1 91l0-37l0 233l0-226l0 43l1-27l0-9l0-32l1 235l0-264l0-18l0 55l1-14l1 86l0-101l0 106l0-136l0 181l0-81l1-4l0 206l1-189l1 189l1-219l0 89l0-121l1 135l0-20l0-89l0-28l1 84l1 153l2 16l1-278l0 66l2 67l1-27l0-28l2 76l0-21l1-1l0 146l1-251l0 251l1-199l1 34l0-17l0 182l3-85l0-156l1 95l0-88l1 50l2 12l0 75l1-68l0-64l1 101l1-84l1 55l0-10l1-142l0 16l0-7l0 91l1-13l0-136l0 75l0 30l0-23l0 276l0-232l0-83l0 266l1-286l0 163l0-68l0-30l0-56l0 123l0-44l1 247l0-196l1-64l0 44l0-133l0 29l0 150l1 46l0-103l0 60l0 13l1-136l0 16l0 8l0-36l0 80l0-31l0-27l1-31l0 101l1 50l0-167l0 123l0 26l0 138l0-208l0 57l0-41l0-124l1 118l0 21l0 51l0-132l0 29l1 75l0-87l0 90l1-74l0 55l0-77l0-27l0-3l1-40l0 188l1-133l0 107l0-118l0 59l1-66l0 29l0 93l0-66l0 46l1-59l1-61l0 85l0 53l0-66l0-85l0 205l1-101l0-3l0-80l0 1l0 210l0-137l1-8l0-11l0-28l1-30l0 54l0 13l1 83l0-14l0-143l0 53l0 238l0-283l1 111l0-9l0 10l0-95l1-13l0 89l0 115l0-235l1 46l0-19l0 112l0-24l1-48l0 179l0-87l0-127l0 88l0-72l0 29l1 30l0-23l0 47l0 21l0 9l0-48l0 60l0-74l1-29l0 75l0-51l0 73l0-104l1-44l0 270l0-248l1 192l0-36l1 68l0-126l0-130l0 22l0 58l1 32l0 89l0-157l0 22l0 96l0-148l0-20l1 235l0-174l1 69l0-51l0-34l0 51l0 54l0 7l1-102l0 107l0-96l0 46l1-78l0 108l0 45l1-177l0 91l0 76l0-88l1 122l1-138l0-58l0 103l0 134l0-245l1 50l0 117l0-79l0 112l0-57l1-66l0 7l0 24l1 28l0 17l0-135l0 145l0-165l1 130l0-103l0 29l0 143l0-144l1-10l0 78l0 188l0-210l0-18l0-58l0-16l0 131l0-124l0 113l1 29l0-70l0-54l0 117l0 55l1-94l0 22l0 38l0-27l1-75l0-51l0 168l1-109l0 91l0-107l1 165l0-185l0 12l1 55l0 242l0-198l0-35l1-29l0-60l0 228l0-118l0-66l0 26l0 61l1-76l0 80l0 147l0-9l0-267l1 188l0 79l0-140l0-104l1 136l0-50l0-20l0-119l0 109l1 36l0-105l0 7l0-30l0 109l1 42l0-145l0 49l0 133l0-171l0 53l0 111l1 29l0-66l1-84l0 57l0 50l0-119l1 27l0 13l0-48l0-52l0 292l1-185l0 6l0 46l0 28l1-39l0-126l0 18l0 53l0 44l0-104l1 34l0 95l1-84l0 142l0-98l0 56l0-47l0 12l0 91l1 58l0-231l0 42l1-18l0 13l0-81l0 62l1 28l0-88l0 93l1 81l0-59l0-51l1 13l0 19l0-90l0-34l1 139l0-58l0-2l0 100l0-114l1-21l0 152l0-187l0 58l0 53l0 1l0-90l1 181l0-158l0 107l0 82l1-252l0 90l0-95l0 56l1 10l0-11l0 39l0 230l0-266l1 54l0 13l0-49l0 51l1 10l0 21l1-84l0-15l0 111l0-148l0 202l1-188l0 84l0-13l0-27l0 78l0-84l0-30l0 69l1-61l0 90l0 24l0-36l0-39l0 11l1-5l0 75l0 38l1-187l0 138l0-38l0 27l0-75l1-41l0 31l0 121l1-92l0 36l0-86l0 83l0-104l1 117l0-3l0-32l1-9l0 26l1-20l0-28l0-39l0 186l1-99l0-40l0 77l0-44l1-28l0 53l0-34l1-29l0 159l0-102l1-58l0-23l0 45l0 18l1 208l0-206l0 101l1-143l0-12l0 107l0-19l0 32l1-84l0-51l0 5l0 116l0-97l1 82l0-2l0 107l1-34l0-144l1 42l0-4l0 16l0-86l0-12l0 107l1-8l0-101l0 12l0-117l1 102l0 127l0 23l0-65l0-45l1 80l0 211l0-282l0 73l0 34l0-64l0 48l0-114l0 104l1-14l0-55l0 44l0-33l0-56l1 69l0-64l0 58l0 128l0-202l1 61l0-22l0 287l0-179l0 41l0-19l1-49l1 76l1-66l0 8l0-153l0 325l0-302l0 98l0-112l0 9l0 86l0 237l1-278l0 52l1 129l0-99l0 41l0-88l2 60l1 6l1 43l0-58l0 27l3-35l0 115l0-195l0 280l2-302l0 156l0 16l0-87l1 217l1-70l2-105l0 15l1-70l0 66l3-53l1-36l1 18l1 165l0-100l0-24l1-22l0 97l0-147l2-25l1 12l1 88l1-54l1 60l1 6l0 60l1-120l1-31l0 89l0 35l1 130l0 16l2-190l1-80l0 82l2 188l0-146l1-84l3 104l0-90l1 40l0-49l1-65l1 65l0 74l0-96l0-89l1-22l0 95l0 137l0-182l0 111l0-82l0-37l0-14l0 217l0-160l0-71l0 141l0-94l0 65l0-58l1 70l0-153l0 150l0-83l1 17l0-59l0 17l0 23l0 78l1-39l0-78l0-1l0 112l0-53l1-35l0 64l0 211l0-135l1-60l1-129l0 71l0-62l0 139l1-32l0 52l0-49l0-92l0-28l0 142l0 60l0-74l0-20l1 15l0-14l0 12l0-88l1 34l0 108l0 67l0-20l0-65l1-47l0 55l0-38l0 43l1-79l0 60l0-99l1 55l0 25l1-76l0 25l0-22l0 60l0 53l0 17l1-138l0 15l0-26l0 108l0-36l0 30l0-18l0 210l1-162l0-16l0 25l0-83l0 68l0-90l0 53l1 78l0-101l0 252l0-33l0-240l0-39l1-22l0-1l0 311l0-302l1 169l0-25l0 40l0-55l1-47l0 260l0-221l0-109l0 26l1-32l0 104l0 63l0-112l0 43l0 189l1-248l0 94l0-23l1 18l0-82l0-56l0 75l0 18l0 61l0-124l1 151l1-52l0-60l0-29l1-16l0 140l0-48l0 106l0-112l1-94l0 83l0-15l0 192l0-216l1-12l0-40l0 149l0-81l1 45l0-97l0 128l0-9l0 69l0-79l1-28l0-40l0-43l1 11l0 6l0 118l0-43l0-19l1-75l0 51l0 275l1-208l0-10l0-46l0-26l1 5l0 58l0-93l0 118l0-68l0 270l0-271l0-1l1 66l0 24l0 48l0-180l0-9l2 70l0-57l0 7l1 69l0 59l0 56l0-77l0-43l0 30l0-74l1-10l0 117l1-46l0-38l1 244l1-301l0-5l0 54l0 149l1-189l0 31l0 47l0-97l0 90l0-13l0 6l1 32l0-138l0 22l0 194l1-31l0-60l0-2l0-69l0 61l0 18l0 69l1-189l0 140l0-98l0 31l1 7l0 156l0-142l0 74l0-55l0 20l0-98l0-48l0-8l0 75l1-61l0 69l0-45l0 32l0 76l1-118l0 80l0 180l0-200l0 38l0 52l2 9l0-139l0 47l0-32l0-31l1 99l0-109l1 132l0-145l0 49l0-39l1 164l0-141l0 37l0 25l0 14l0 44l1-135l0 60l0-72l1-42l0 168l0-72l0 58l0 55l1 6l0-92l0 103l0-88l1-59l0 115l0-17l0-104l0 186l1-100l0 50l0-151l0 90l1-97l0 132l0-78l0-13l1-30l0 113l0-149l0 19l0 64l1-59l0 76l1 9l0 101l0-42l0-131l0 26l1 39l0 57l0-20l1-116l0 70l0-61l1 50l0 10l0-110l0 92l0-40l0-35l0 17l0-28l0-19l1 350l0-199l1-99l0 56l0 84l1-92l0-50l0 20l0 17l1-37l0 131l0 169l0-226l0 73l1-117l0 73l0 147l0-267l0 20l1-7l0 65l0-17l0 116l0-159l1-2l0 88l0 14l1-22l0 53l0-45l0 4l1-10l1 16l0-72l0 7l0 117l0-70l0 67l0-85l1 46l0 31l0 36l0-144l0-12l0 29l0-53l0 60l0 115l0-94l0 18l0 34l1-58l0 48l0-114l1 178l1-16l0-126l0-28l1 14l1 150l0-37l0-39l0 8l0-73l0 20l0-58l0 52l0 38l0-79l0 56l1 83l0-19l0-53l0 41l1 41l0-173l0 59l0-21l1 48l0-96l0 118l0 30l1 40l0-160l0 25l1-34l0 140l0-162l0 129l1-138l0 53l0 62l0 61l1-157l0 102l0 64l0 62l0-83l0 34l1-106l0-11l0-34l0 24l0 87l0-58l1-62l0 21l0 91l0-24l0-99l1 54l0 104l0-149l0 82l1-76l0 72l0-64l1-32l0 123l0 5l0 16l0 36l1 23l0-129l0-7l0 96l0-2l1-65l0 75l0-50l0 22l1-44l0 246l0-203l0 98l1-114l0-29l0 69l0-46l0 17l0-43l0 14l1 237l0-231l0-33l0 6l0 138l0-126l1 111l0-78l0 35l0-23l0-102l0 111l0-88l0 117l0-48l1 187l0-112l1-32l0 58l1-36l1 92l1-142l2 8l1 188l1-103l1-61l1 31l1-33l1-51l1 49l1 114l1-49l1-112l0 231l1-210l1 52l0 158l1 0l2-158l0 77l0-96l2 107l0-51l2 121l0-185l1 33l1-55l0 16l1-140l0 98l0 21l0-56l0 80l0-124l1-7l0 69l0-29l0 23l0 256l0-293l0-49l0 36l0 19l1 66l0 15l0 10l0-125l0 321l0-171l0-31l0-13l1 7l1-44l0-45l0 48l0 75l0-134l0 22l1 53l0-28l0 50l1-89l0 50l1 250l0-210l0 18l0-3l1 125l0 70l0-248l0-13l0 116l1-150l0 80l0-119l1 17l0 65l0-69l0 127l1 23l0-171l0-2l1 52l0 67l0-32l0-6l0-43l1-29l0 93l0-33l0-6l0 59l1-79l0 114l0-27l0-55l0 105l0-30l0-119l1-14l0 71l0-63l0 57l0 62l0-90l0-57l0 139l0 41l1-190l0 130l1-7l0 130l1-63l0-131l0 13l1 125l0-115l0-29l0 65l1-72l0 45l0 44l0-29l1-69l0 148l0-58l0 21l0 15l1-63l0-70l0 45l0 41l0 60l1-135l0 93l0-29l0 182l0-138l0 168l1-220l0 45l0-33l0-30l0 43l1 32l0-127l0 25l0 65l0 60l0-111l1 64l0-72l0 16l0 13l1 99l0-25l0-14l1 47l0-55l1 46l1-74l0 81l0-149l0 112l0-101l0 65l0 128l0-169l0-50l1 144l0-78l0-7l0 110l0-64l1-68l1-46l0-6l0 148l0 147l1-89l0-201l0 89l0 250l0-259l0-40l0-27l0 9l0 135l0-26l1 39l0-64l0 193l0-108l0-54l1-73l0 84l0-77l1 26l0-40l0-5l0-21l0 85l0-71l1 145l0 9l0-49l0-66l1 42l0 17l0-51l1-86l0 212l0-203l0 176l0-38l0-19l1 36l0-69l1-66l0 20l0 268l0-151l0-104l0 47l0-93l1 268l0-261l0 57l0-23l0-13l0 25l1 30l0-12l0-52l1 298l0-194l0 27l0-52l1 11l0-115l0 226l0-105l1-102l0-31l0 94l0-20l0 73l0 107l1-84l0-189l0 72l0-5l0 36l0-17l0 82l1-126l0 82l1 94l0-88l0-106l0 36l1 102l0 12l0-32l0 14l0-40l1-8l0-30l0 125l0-156l1-16l0 323l0-261l0 84l0-123l0 11l0-28l0 247l0-147l1 57l0-93l0-13l0-68l0 334l0-190l1-93l0 49l1 234l0-154l0-70l1 24l0 18l1-89l0 65l0-73l0 85l0-136l1 89l0-60l0 141l0-92l0-71l0 28l0 106l1-31l0-37l0-81l1 107l0 107l0-186l0 147l0-101l0-90l0 15l1 170l0-34l1-70l0 76l0-148l0 107l0 141l0-150l1 83l0-116l0 89l0-110l1 90l0 73l0-83l0 102l1-172l0 102l0-67l0-59l1 85l0 145l0-199l1 154l0-207l0 69l1-52l0 151l0-78l0 95l0-43l0-45l0-56l0-38l0 72l0-49l0 107l1 39l0-163l0 153l1-183l0 79l0 63l1 7l0-20l0-87l0 136l0 48l1-159l0 129l0-104l0-40l1 49l0 5l0 62l1 77l0-30l0-140l0-16l0 64l0-110l0 251l1-237l0-7l0 94l0-28l0 59l0 28l0-40l1 24l0-109l0-13l1 105l0 26l0 64l0-44l1-35l0-59l0 18l0-7l1-25l0-25l0 73l0 74l0-135l1 223l0-100l0-165l1 286l0-173l0-144l0 326l0-202l1-99l0 256l0-199l0 73l0 85l1-33l0-93l0-56l0-12l0 46l0 258l0-172l0-77l1 6l0-43l0 106l0-100l0 67l0-8l0 79l0 18l1 140l0-215l0-111l1 123l0 34l1-174l0 9l0 112l0 43l0-113l0-22l1 72l0 9l0-38l0 186l0-193l0 94l1-78l0 11l0-53l0-17l0 130l1-167l0 161l0 197l0-285l1 71l0 129l0-254l0 3l0 109l0 7l1 220l0-308l0 100l1-39l0 102l1-33l0 162l0-253l0 58l0 75l1 29l0-158l0 225l2-131l1 155l0-251l0 91l0-54l2 100l0-57l1 187l1-40l0-112l1-20l0 172l0-231l1 3l0-46l0 37l1 51l1-37l0 223l1-171l0 31l0-144l2 199l0 85l0-178l1-10l3 188l1-140l1-112l0 104l0-79l1 37l1 93l0-54l2-109l0 80l0 16l0-71l1 47l0-10l1 97l0-61l1-73l0 235l0 0l1-176l1-71l1 65l2 34l0 108l0-131l0-95l1-8l1 95l0 63l2-54l0 170l1 0l1-194l0 87l2-190l0 99l0-135l0 201l0-133l1 64l0-107l0 51l1 15l0 202l0-199l0-91l1 9l0 59l0 19l0 53l0 150l0-235l1-1l0 47l0-37l0 126l0-159l0-29l1 69l0-31l0 177l0-108l0-20l0 40l0-6l0-107l1 67l0 33l0 39l0 135l0-156l0-39l1-51l1-21l0-14l0-12l0 64l0-25l1-46l0-3l0 89l1 23l0-29l0-15l0 104l0-11l0-36l1-101l0 38l0 75l0-18l0-24l0-79l0 14l1 120l0-47l0 69l1-41l0-139l0 49l0 181l0-149l0-76l1 111l0 37l0-138l0 16l0 32l1 114l0 125l0-210l1-37l0 67l0 23l1-137l0 126l0 28l0-144l0 141l0-123l1 9l0 29l0 145l0-90l0 10l1-36l0-20l0-18l0 88l1-37l0-99l1 93l0 113l0-130l0-66l0 29l0 103l0-114l0 137l1-44l0-115l0 6l0 18l2 111l0-25l0-28l0 38l0-18l0-54l0 164l0-184l0 11l0-39l1 14l0 50l0 104l0-159l0 25l0-13l0 104l1-71l0-59l0 174l1-10l0-194l0 150l0-27l0 7l0-109l1 218l0-193l0 107l1 25l0-37l0 14l0-64l0 1l1 55l0 19l1 33l0-151l0 107l0-70l0-15l1 2l0 59l1 29l0-58l0 64l1 148l0-209l0 50l0-31l0-50l1 56l1 123l0-42l0-122l0-25l0 86l0 77l0-126l1 113l0-42l1 97l0-191l0 29l0-59l0 116l1-102l0 59l0 10l0-29l0 66l0-74l0-27l1 11l0 10l0-26l0 96l0-8l1-40l0 146l1-25l0-189l0 14l0 16l1 45l0 165l0-110l0-27l0-95l0 148l1-94l0 20l0-96l0 151l0 46l0-128l0-14l1 49l0 31l0-97l0 11l1 96l0 80l0-102l0-61l0-58l0 109l1 56l0-136l0 42l0 102l1-104l0-23l0 66l0 46l1 43l0-122l0 42l1-132l0 172l0-72l0 193l0-271l0 52l0 6l0-16l1 63l0-92l0 76l0-25l0-28l0-6l0 133l0-91l0 53l1-27l0 32l1-16l0-120l0-5l0-6l1 211l1-148l0 140l0-161l0 60l0 35l0-44l0-21l0 13l1 142l0-117l0 178l0-127l0-106l0 63l0 5l0 47l1-25l0-125l1 11l0 148l0-112l1 30l0 34l0-85l1 59l0-24l0 72l0-91l1-11l0-27l0-6l0 140l0-21l0 66l0 40l0-152l0 26l1-76l0 82l1-50l0-41l1-19l0 72l0 142l0-72l0-11l1-11l0-31l0 6l0-40l1 98l0 22l0-151l0 26l0 164l0-222l0 110l1-63l0-33l0 248l0-78l1-161l0 63l1-10l0 56l0-62l0-62l0 108l1 62l0-126l0 89l0-123l0 213l1-130l0-99l0 36l1 55l0-65l0 32l0 101l1-54l0-108l0 127l1 10l0-63l0-39l1 83l0-62l0-11l0 131l0-172l0 8l0 67l1-55l0 183l0-10l1-199l0 69l0-48l0 147l0-66l0-11l0-5l0 47l1-8l0-93l0 20l0-62l0 72l1 176l0-72l0-27l1-63l0 37l0-124l0 210l1 0l0-91l0-93l0 320l1-288l0-25l0-20l0 38l0 122l0-31l0-130l1 90l0-33l0 43l0 23l0 114l0-154l0 88l0 163l0-307l0 114l1-70l0 72l0-179l0 98l0-54l0-20l0 129l1 19l0-58l1-44l0 124l0-187l0 206l0-202l0 129l1 7l0-94l1 37l0 43l0-9l0-90l0-17l0 146l0-102l1 239l0-105l0-19l0-136l3 330l1-182l1-4l0 37l1-43l1 192l0-154l0-32l1 16l0 49l1-51l1 32l1-14l4 154l1-165l2-30l0 125l1 70l1-119l0 38l0 11l1-115l0 36l0 52l1-94l1 26l1 58l1-79l0 186l0-226l1 15l1 114l1-65l0-24l1 137l1-167l1 29l0 33l0 20l0 134l2-16l2-198l0-19l0-59l0 73l1 28l0-108l0 25l0-47l0 65l0-10l1-40l0 92l0 12l0-113l0 89l0-17l0 94l0 149l1-327l1 118l0-29l0-99l0 57l0-8l0 167l0-66l0-61l1 102l0 106l0-30l0 54l1-202l0-83l0 103l0-60l0-14l1 84l0-24l1 14l0-69l0-50l0 74l1 124l0-186l0 73l0-92l0 308l0-200l1 100l0-207l0 130l0-136l0 36l0-2l0 171l1-190l0 6l0 48l0 26l1-91l0 141l0-75l0 174l1-178l0 193l0-128l0-85l0 65l0-29l0 7l0-76l1 51l0-33l0 25l0-19l0 82l0-24l0 31l0-22l1-99l0 129l1-120l0 28l0 28l1 8l0 77l1-94l0 46l0-88l0 19l0 21l1-9l0 27l0 151l1-122l0 89l0-73l0-49l0 65l0-139l1 105l0-96l0 0l0-6l1 157l0-97l0-86l0 130l0 32l0-128l0 19l1 70l0-83l0 21l0 33l0 219l0-234l0-83l0 29l1 88l0 88l0-193l0 127l0 8l0 7l0 203l1-346l0 236l0-196l1 290l0-269l0-11l1-10l0-49l0 285l0-172l1 242l0-207l0-73l0-34l0 168l0-96l0 25l0-77l0-57l0 12l0 68l1 161l0-152l0 181l0-273l0 314l0-151l0 191l1-328l0 117l0-106l0 77l0-9l0 49l0-77l0 50l0 89l1 17l0-144l0 171l0-114l0-148l0 207l0-115l1-3l0 28l0-29l0-29l0 120l0-82l1 219l0-222l0 165l0-168l1-68l0 142l0-80l0 2l1-53l0 84l0-24l0-13l1-7l0-21l0 101l0 8l0-37l0 20l0-106l0 8l0 59l0-72l1 32l0 7l0-8l1 22l0-41l0-4l0 102l1 28l0-29l0-7l0-78l1 52l0-25l0 7l0 57l0-133l0-7l0 113l0 48l1 37l0-184l0-25l0 79l0 51l0-29l0-61l0-34l1 118l1 69l0-148l0 94l0 28l0-124l0 99l1-77l0 49l0-71l0 29l1-23l0 17l0 147l0-76l1-27l0-77l1 24l0-16l0 108l1-113l1 127l0-131l0 198l0-135l0 4l0 24l1-80l0-13l0 14l0 31l1-63l0 3l0 100l0-108l0 196l1-12l0-94l0 14l0 69l1-87l0 15l0-22l0 66l0-7l0-80l1-10l0 21l0-48l0-14l0-12l0 35l0 121l0-115l0 82l1 39l0 178l0-229l0 57l0-122l1 310l0-256l0 110l1-180l0 326l1-324l0 106l0-6l0-72l1 50l0-5l0 23l0 124l0-194l1 249l0-236l0-19l1 100l0-37l0-14l0-67l0 83l1 17l0 7l1 166l0-173l0-76l0 55l0 133l1-140l0 38l0-74l1 17l0 53l0-25l1-75l0 59l0 30l1-104l0 129l0-34l0-6l0 73l1-29l0 46l0-97l0 68l0-41l1-23l0-27l0 54l1-92l0-10l0 0l1 103l0-12l0 26l0-63l0-29l0-11l0-7l0 74l0 96l0-137l0-6l1 36l0-23l0 99l0-87l0 51l1-116l0 256l0-125l0 15l0-75l1 33l0 222l0-104l1-243l0 47l0 136l0-17l0-64l1 31l1-55l0 269l0-318l0 142l0-31l0-68l1 36l0-19l0 8l0-61l0 115l0-108l1 11l0 133l0 44l0-116l0 86l0-133l1 55l0 57l1 46l1-194l0 315l0-169l0-116l0 14l0 10l1-55l0 110l0-9l1-15l0-62l0 207l0-150l0-21l1-45l0-8l0 68l0-8l0-76l0 104l1-60l0 138l0-50l1-138l0 161l0-97l0 66l1-102l0 86l0 107l0-88l1 4l0-39l0-45l1-26l0-57l0 124l0 29l1-10l0-90l0-23l0 9l0 128l1 51l0-123l0-9l0 66l0-78l0 26l0 34l0-13l0 240l0-362l0 346l0-364l0 279l0-92l0-142l0 32l1 8l0 47l0 90l0-169l0 72l0-64l0 5l1-28l0 155l0 147l0 40l0-49l0-183l1 32l0-21l0-61l0 131l1-118l1-2l1 271l0-16l1-217l0 163l0-115l1 59l2-140l1 136l0-58l0-105l2 244l1-99l0-38l1-31l0 26l1-86l1 237l0-88l2-99l0-39l0 266l2-191l1 87l1-78l0-91l1 47l0 186l0-100l1-87l0 70l0 44l1-195l0 34l0 61l2 24l0 189l2 0l0-204l0 74l0-39l0 26l1 143l0-276l1 53l1 207l1-171l0-8l1 195l0-126l0-32l0-23l1-43l1-28l1 88l0-23l2 187l0-272l0 114l1-50l0 159l1 9l0-265l0-16l0 95l1-60l0 86l0-119l0 113l1-85l0 66l0 104l0-118l0 39l0-80l1-31l0 43l0-56l0 24l0 109l0-60l0 41l0-6l1 61l0 139l0-266l0 54l0 55l0-49l0-37l1 33l0 226l0-197l0-93"/></defs>
<use href="#p5" fill="none" stroke="none" marker-start="url(#g)" marker-mid="url(#g)" marker-end="url(#g)"/>
<use href="#p5" fill="none" stroke="none" marker-start="url(#b)" marker-mid="url(#b)" marker-end="url(#b)"/>
<line x1="144.2" y1="2232.5" x2="171.5" y2="2232.5" stroke="#2f8ad8" stroke-width="11.2" stroke-linecap="round"/>
<line x1="175.4" y1="2232.5" x2="230.1" y2="2232.5" stroke="#2f8ad8" stroke-width="11.2" stroke-linecap="round"/>
<line x1="240.4" y1="2232.5" x2="256.9" y2="2232.5" stroke="#2f8ad8" stroke-width="11.2" stroke-linecap="round"/>
<line x1="296.8" y1="2232.5" x2="347.1" y2="2232.5" stroke="#2f8ad8" stroke-width="11.2" stroke-linecap="round"/>
<line x1="383.8" y1="2232.5" x2="385.9" y2="2232.5" stroke="#2f8ad8" stroke-width="11.2" stroke-linecap="round"/>
<line x1="433.0" y1="2232.5" x2="490.4" y2="2232.5" stroke="#2f8ad8" stroke-width="11.2" stroke-linecap="round"/>
<line x1="517.8" y1="2232.5" x2="524.3" y2="2232.5" stroke="#2f8ad8" stroke-width="11.2" stroke-linecap="round"/>
<line x1="547.9" y1="2232.5" x2="550.0" y2="2232.5" stroke="#2f8ad8" stroke-width="11.2" stroke-linecap="round"/>
<line x1="571.9" y1="2232.5" x2="626.6" y2="2232.5" stroke="#2f8ad8" stroke-width="11.2" stroke-linecap="round"/>
<line x1="647.4" y1="2232.5" x2="670.4" y2="2232.5" stroke="#2f8ad8" stroke-width="11.2" stroke-linecap="round"/>
<line x1="691.2" y1="2232.5" x2="757.4" y2="2232.5" stroke="#2f8ad8" stroke-width="11.2" stroke-linecap="round"/>
<line x1="789.6" y1="2232.5" x2="799.5" y2="2232.5" stroke="#2f8ad8" stroke-width="11.2" stroke-linecap="round"/>
<line x1="813.2" y1="2232.5" x2="821.4" y2="2232.5" stroke="#2f8ad8" stroke-width="11.2" stroke-linecap="round"/>
<line x1="830.7" y1="2232.5" x2="912.7" y2="2232.5" stroke="#2f8ad8" stroke-width="11.2" stroke-linecap="round"/>
<line x1="922.6" y1="2232.5" x2="1013.9" y2="2232.5" stroke="#2f8ad8" stroke-width="11.2" stroke-linecap="round"/>
<polyline points="141.0,1879.4 142.5,1883.0 143.9,1887.2 145.4,1892.0 146.9,1897.5 148.3,1903.6 149.8,1910.2 151.3,1917.4 152.7,1925.0 154.2,1933.1 155.7,1941.7 157.1,1950.6 158.6,1959.8 160.0,1969.3 161.5,1979.1 163.0,1989.0 164.4,1999.1 165.9,2009.3 167.4,2019.5 168.8,2029.7 170.3,2039.9 171.8,2050.0 173.2,2059.8 174.7,2069.5 176.2,2079.0 177.6,2088.1 179.1,2096.9 180.6,2105.3 182.0,2113.3 183.5,2120.8 184.9,2127.8 186.4,2134.3 187.9,2140.2 189.3,2145.4 190.8,2150.1 192.3,2154.1 193.7,2157.5 195.2,2160.1 196.7,2162.1 198.1,2163.3 199.6,2163.9 201.1,2163.7 202.5,2162.8 204.0,2161.2 205.5,2158.9 206.9,2155.9 208.4,2152.2 209.9,2147.9 211.3,2142.9 212.8,2137.3 214.2,2131.1 215.7,2124.4 217.2,2117.1 218.6,2109.4 220.1,2101.2 221.6,2092.6 223.0,2083.6 224.5,2074.3 226.0,2064.8 227.4,2055.0 228.9,2045.0 230.4,2034.9 231.8,2024.7 233.3,2014.4 234.8,2004.2 236.2,1994.1 237.7,1984.1 239.2,1974.2 240.6,1964.5 242.1,1955.2 243.5,1946.1 245.0,1937.4 246.5,1929.0 247.9,1921.2 249.4,1913.7 250.9,1906.8 252.3,1900.5 253.8,1894.7 255.3,1889.5 256.7,1885.0 258.2,1881.1 259.7,1877.9 261.1,1875.4 262.6,1873.6 264.1,1872.4 265.5,1872.0 267.0,1872.4 268.5,1873.4 269.9,1875.1 271.4,1877.6 272.9,1880.7 274.3,1884.5 275.8,1889.0 277.2,1894.1 278.7,1899.8 280.2,1906.1 281.6,1912.9 283.1,1920.3 284.6,1928.1 286.0,1936.4 287.5,1945.1 289.0,1954.1 290.4,1963.5 291.9,1973.1 293.4,1982.9 294.8,1992.9 296.3,2003.1 297.8,2013.3 299.2,2023.5 300.7,2033.7 302.1,2043.8 303.6,2053.8 305.1,2063.6 306.5,2073.2 308.0,2082.6 309.5,2091.6 310.9,2100.2 312.4,2108.5 313.9,2116.3 315.3,2123.6 316.8,2130.4 318.3,2136.6 319.7,2142.3 321.2,2147.3 322.7,2151.7 324.1,2155.5 325.6,2158.6 327.1,2161.0 328.5,2162.7 330.0,2163.6 331.5,2163.9 332.9,2163.4 334.4,2162.3 335.8,2160.4 337.3,2157.8 338.8,2154.5 340.2,2150.6 341.7,2146.0 343.2,2140.8 344.6,2135.0 346.1,2128.6 347.6,2121.6 349.0,2114.2 350.5,2106.2 352.0,2097.9 353.4,2089.1 354.9,2080.0 356.4,2070.6 357.8,2061.0 359.3,2051.1 360.8,2041.1 362.2,2030.9 363.7,2020.7 365.1,2010.5 366.6,2000.3 368.1,1990.2 369.5,1980.2 371.0,1970.4 372.5,1960.9 373.9,1951.6 375.4,1942.7 376.9,1934.1 378.3,1925.9 379.8,1918.2 381.3,1911.0 382.7,1904.3 384.2,1898.2 385.7,1892.6 387.1,1887.7 388.6,1883.4 390.0,1879.8 391.5,1876.8 393.0,1874.6 394.4,1873.0 395.9,1872.2 397.4,1872.1 398.8,1872.7 400.3,1874.0 401.8,1876.0 403.2,1878.7 404.7,1882.1 406.2,1886.2 407.6,1890.9 409.1,1896.2 410.6,1902.2 412.0,1908.7 413.5,1915.7 415.0,1923.3 416.4,1931.3 417.9,1939.7 419.3,1948.5 420.8,1957.7 422.3,1967.2 423.7,1976.9 425.2,1986.8 426.7,1996.9 428.1,2007.0 429.6,2017.2 431.1,2027.5 432.5,2037.7 434.0,2047.7 435.5,2057.7 436.9,2067.4 438.4,2076.9 439.9,2086.1 441.3,2095.0 442.8,2103.5 444.3,2111.6 445.7,2119.2 447.2,2126.3 448.7,2132.9 450.1,2138.9 451.6,2144.3 453.0,2149.1 454.5,2153.3 456.0,2156.8 457.4,2159.6 458.9,2161.7 460.4,2163.1 461.8,2163.8 463.3,2163.8 464.8,2163.1 466.2,2161.6 467.7,2159.5 469.2,2156.6 470.6,2153.1 472.1,2148.9 473.6,2144.1 475.0,2138.6 476.5,2132.5 477.9,2125.9 479.4,2118.8 480.9,2111.1 482.3,2103.0 483.8,2094.5 485.3,2085.6 486.7,2076.4 488.2,2066.9 489.7,2057.2 491.1,2047.2 492.6,2037.1 494.1,2026.9 495.5,2016.7 497.0,2006.5 498.5,1996.3 499.9,1986.3 501.4,1976.4 502.9,1966.7 504.3,1957.2 505.8,1948.1 507.2,1939.3 508.7,1930.9 510.2,1922.9 511.6,1915.3 513.1,1908.3 514.6,1901.9 516.0,1895.9 517.5,1890.6 519.0,1886.0 520.4,1881.9 521.9,1878.6 523.4,1875.9 524.8,1873.9 526.3,1872.6 527.8,1872.1 529.2,1872.2 530.7,1873.1 532.2,1874.7 533.6,1877.0 535.1,1880.0 536.5,1883.6 538.0,1887.9 539.5,1892.9 540.9,1898.5 542.4,1904.6 543.9,1911.4 545.3,1918.6 546.8,1926.3 548.3,1934.5 549.7,1943.1 551.2,1952.1 552.7,1961.4 554.1,1970.9 555.6,1980.7 557.1,1990.7 558.5,2000.8 560.0,2011.0 561.5,2021.2 562.9,2031.4 564.4,2041.6 565.8,2051.6 567.3,2061.5 568.8,2071.1 570.2,2080.5 571.7,2089.6 573.2,2098.3 574.6,2106.7 576.1,2114.6 577.6,2122.0 579.0,2128.9 580.5,2135.3 582.0,2141.1 583.4,2146.3 584.9,2150.8 586.4,2154.7 587.8,2158.0 589.3,2160.5 590.8,2162.3 592.2,2163.5 593.7,2163.9 595.2,2163.6 596.6,2162.6 598.1,2160.9 599.5,2158.4 601.0,2155.3 602.5,2151.5 603.9,2147.1 605.4,2142.0 606.9,2136.3 608.3,2130.0 609.8,2123.2 611.3,2115.9 612.7,2108.0 614.2,2099.8 615.7,2091.1 617.1,2082.1 618.6,2072.7 620.1,2063.1 621.5,2053.3 623.0,2043.3 624.5,2033.2 625.9,2023.0 627.4,2012.7 628.8,2002.5 630.3,1992.4 631.8,1982.4 633.2,1972.6 634.7,1963.0 636.2,1953.6 637.6,1944.6 639.1,1935.9 640.6,1927.7 642.0,1919.9 643.5,1912.6 645.0,1905.7 646.4,1899.5 647.9,1893.8 649.4,1888.7 650.8,1884.3 652.3,1880.5 653.8,1877.4 655.2,1875.0 656.7,1873.3 658.1,1872.3 659.6,1872.0 661.1,1872.5 662.5,1873.6 664.0,1875.5 665.5,1878.1 666.9,1881.3 668.4,1885.2 669.9,1889.8 671.3,1895.0 672.8,1900.8 674.3,1907.2 675.7,1914.1 677.2,1921.6 678.7,1929.5 680.1,1937.8 681.6,1946.6 683.0,1955.7 684.5,1965.0 686.0,1974.7 687.4,1984.6 688.9,1994.6 690.4,2004.8 691.8,2015.0 693.3,2025.2 694.8,2035.4 696.2,2045.5 697.7,2055.5 699.2,2065.3 700.6,2074.8 702.1,2084.1 703.6,2093.1 705.0,2101.6 706.5,2109.8 708.0,2117.5 709.4,2124.8 710.9,2131.5 712.3,2137.6 713.8,2143.2 715.3,2148.1 716.7,2152.4 718.2,2156.1 719.7,2159.0 721.1,2161.3 722.6,2162.9 724.1,2163.7 725.5,2163.9 727.0,2163.3 728.5,2162.0 729.9,2160.0 731.4,2157.3 732.9,2153.9 734.3,2149.9 735.8,2145.2 737.3,2139.9 738.7,2133.9 740.2,2127.4 741.7,2120.4 743.1,2112.9 744.6,2104.9 746.0,2096.5 747.5,2087.6 749.0,2078.5 750.4,2069.0 751.9,2059.3 753.4,2049.4 754.8,2039.4 756.3,2029.2 757.8,2019.0 759.2,2008.8 760.7,1998.6 762.2,1988.5 763.6,1978.5 765.1,1968.8 766.6,1959.3 768.0,1950.1 769.5,1941.2 771.0,1932.7 772.4,1924.6 773.9,1917.0 775.3,1909.8 776.8,1903.2 778.3,1897.2 779.7,1891.8 781.2,1886.9 782.7,1882.8 784.1,1879.2 785.6,1876.4 787.1,1874.3 788.5,1872.8 790.0,1872.1 791.5,1872.1 792.9,1872.8 794.4,1874.3 795.9,1876.4 797.3,1879.2 798.8,1882.8 800.2,1886.9 801.7,1891.8 803.2,1897.2 804.6,1903.2 806.1,1909.8 807.6,1917.0 809.0,1924.6 810.5,1932.7 812.0,1941.2 813.4,1950.1 814.9,1959.3 816.4,1968.8 817.8,1978.5 819.3,1988.5 820.8,1998.6 822.2,2008.7 823.7,2019.0 825.2,2029.2 826.6,2039.3 828.1,2049.4 829.5,2059.3 831.0,2069.0 832.5,2078.5 833.9,2087.6 835.4,2096.4 836.9,2104.9 838.3,2112.9 839.8,2120.4 841.3,2127.4 842.7,2133.9 844.2,2139.8 845.7,2145.2 847.1,2149.9 848.6,2153.9 850.1,2157.3 851.5,2160.0 853.0,2162.0 854.5,2163.3 855.9,2163.9 857.4,2163.7 858.8,2162.9 860.3,2161.3 861.8,2159.0 863.2,2156.1 864.7,2152.4 866.2,2148.1 867.6,2143.2 869.1,2137.6 870.6,2131.5 872.0,2124.8 873.5,2117.5 875.0,2109.8 876.4,2101.7 877.9,2093.1 879.4,2084.1 880.8,2074.8 882.3,2065.3 883.8,2055.5 885.2,2045.5 886.7,2035.4 888.1,2025.2 889.6,2015.0 891.1,2004.8 892.5,1994.6 894.0,1984.6 895.5,1974.7 896.9,1965.1 898.4,1955.7 899.9,1946.6 901.3,1937.8 902.8,1929.5 904.3,1921.6 905.7,1914.1 907.2,1907.2 908.7,1900.8 910.1,1895.0 911.6,1889.8 913.1,1885.2 914.5,1881.3 916.0,1878.1 917.5,1875.5 918.9,1873.6 920.4,1872.5 921.8,1872.0 923.3,1872.3 924.8,1873.3 926.2,1875.0 927.7,1877.4 929.2,1880.5 930.6,1884.3 932.1,1888.7 933.6,1893.8 935.0,1899.5 936.5,1905.7 938.0,1912.5 939.4,1919.9 940.9,1927.7 942.4,1935.9 943.8,1944.6 945.3,1953.6 946.7,1962.9 948.2,1972.5 949.7,1982.4 951.1,1992.4 952.6,2002.5 954.1,2012.7 955.5,2022.9 957.0,2033.1 958.5,2043.3 959.9,2053.3 961.4,2063.1 962.9,2072.7 964.3,2082.1 965.8,2091.1 967.3,2099.8 968.7,2108.0 970.2,2115.9 971.7,2123.2 973.1,2130.0 974.6,2136.3 976.0,2142.0 977.5,2147.1 979.0,2151.5 980.4,2155.3 981.9,2158.4 983.4,2160.9 984.8,2162.6 986.3,2163.6 987.8,2163.9 989.2,2163.5 990.7,2162.4 992.2,2160.5 993.6,2158.0 995.1,2154.7 996.6,2150.8 998.0,2146.3 999.5,2141.1 1001.0,2135.3 1002.4,2128.9 1003.9,2122.0 1005.3,2114.6 1006.8,2106.7 1008.3,2098.4 1009.7,2089.6 1011.2,2080.5 1012.7,2071.2 1014.1,2061.5 1015.6,2051.6 1017.1,2041.6 1018.5,2031.5 1020.0,2021.2" fill="none" stroke="#fa0036" stroke-width="14" stroke-linejoin="round" stroke-linecap="round"/>
</g>
<line x1="1130" y1="1638" x2="1130" y2="2236.2" stroke="#a0a0a0" stroke-width="2"/>
<line x1="1130" y1="2235.2" x2="2010" y2="2235.2" stroke="#a8a8a8" stroke-width="2"/>
<text x="1122.0" y="1706.9" font-size="18" font-weight="normal" text-anchor="end" fill="#3a3a3a" >4.0</text>
<text x="1122.0" y="1840.3" font-size="18" font-weight="normal" text-anchor="end" fill="#3a3a3a" >3.0</text>
<text x="1122.0" y="1973.7" font-size="18" font-weight="normal" text-anchor="end" fill="#3a3a3a" >2.0</text>
<text x="1122.0" y="2107.1" font-size="18" font-weight="normal" text-anchor="end" fill="#3a3a3a" >1.0</text>
<text x="1122.0" y="2240.5" font-size="18" font-weight="normal" text-anchor="end" fill="#3a3a3a" >.0</text>
<text x="1172.7" y="2259.2" font-size="18" font-weight="normal" text-anchor="middle" fill="#3a3a3a" >24</text>
<text x="1567.5" y="2259.2" font-size="18" font-weight="normal" text-anchor="middle" fill="#3a3a3a" >36</text>
<text x="1962.3" y="2259.2" font-size="18" font-weight="normal" text-anchor="middle" fill="#3a3a3a" >48</text>
<text x="1566.0" y="2304.5" font-size="26.5" font-weight="bold" text-anchor="middle" fill="#000" textLength="169.5" lengthAdjust="spacingAndGlyphs">24-hour Time</text>
<text transform="translate(1070.0,1935.6) rotate(-90)" font-size="26" font-weight="bold" text-anchor="middle" textLength="142" lengthAdjust="spacingAndGlyphs">log(Activity)</text>
<clipPath id="c2R"><rect x="1131" y="1638" width="880" height="598.1999999999998"/></clipPath>
<g clip-path="url(#c2R)">
<defs><path id="p6" d="M1133 1837l0 29l0 48l0 15l1-86l0 100l2-63l1 14l2 236l1-147l0 44l0 127l1-165l2 101l0 81l1-162l3 42l2 79l1 41l1-111l5-40l0 134l1-47l0 64l6 0l4-148l0 23l7 31l5-126l0 15l0 15l0 19l1 60l6 70l7-84l1 3l2 51l7 0l18-196l2-18l0 121l1-43l2 33l0 110l3-171l5 154l19 31l3-155l1 205l4-17l2-127l1 144l7 0l3-125l0 13l5 112l4-257l0 216l1-274l0 121l2 34l0 18l0 45l1-37l2-40l1 7l0 16l0 26l1 125l0-17l2-204l4 171l2-54l0-128l0 232l1-125l3 125l17-221l0 221l1-190l2 48l3 71l1 71l7 0l7-118l0 68l9-192l4 161l5-79l10 3l0 25l0 132l4-194l3 97l0 97l1-152l6 152l1-194l3-34l2-56l1 147l0 137l1-97l2-110l0-38l4 83l0 112l0 50l2-221l0 180l1-56l1 17l2-48l0-32l1 160l5-17l0 17l2-214l0 117l2-235l0 315l1-302l0 65l2 20l1-67l0-34l0 107l2-60l1 58l0-93l0-13l1 104l0 16l1-87l1 72l1 12l1-65l0 25l1-55l0 100l0-13l0 9l2-16l0 12l1-113l0 31l0 11l1 70l0-13l0-31l1 55l0-11l0 9l1-78l0-19l0-13l3 14l0 21l1-16l2 83l0-35l1-64l1 47l1-34l0-12l0 38l0 46l0 17l1-90l1 79l1-91l0 85l1-9l0 3l0-43l0-45l0 19l0-17l1 68l1-73l0 20l1 50l0-11l0-26l0 69l0 14l0-7l0-48l1-25l0 78l0-21l1-13l1-61l0-23l0 116l0 2l1 4l0-30l0-91l1 98l0-33l1 9l0 14l0-11l1 21l0-26l0-39l0-13l1 29l0 57l0-74l1-25l0 106l1-49l1-40l0 97l1-102l0 31l0-34l0 66l0 18l0-10l0 15l0-9l0 25l1-54l0 17l0 24l0-71l1 82l1-82l0 14l1-34l0-10l0 109l1 2l0 1l1-106l0 93l0-89l0 45l0 22l0 20l0-13l1-48l0-46l0-9l0 3l0 127l0-119l1 122l0-71l0-66l1 18l0 16l1-12l0 79l1-24l2-48l0 21l0 26l0 50l0-47l1 45l0-85l0 12l1 48l0-94l0 122l1-33l0-4l2-11l0 34l0 24l0-27l1-46l1 69l0-71l0-1l0-32l1 29l0-16l0-14l0 81l0 81l0 34l1-136l0 17l1 15l0 17l0-54l0-65l0 14l1 73l0 31l1-18l0-5l1-59l0-38l0 16l1-14l0 57l1-46l0 67l1-1l1-54l0 31l0 16l0 19l0 17l1-74l1-32l0 22l0-3l1-21l0 18l1 15l0 18l0 12l0-23l0 132l1-72l0-85l1-10l1-6l0 122l0-90l0-10l1 3l0-19l0 19l1 96l0-77l1-35l1 102l2-91l1 12l0 33l0 18l1 29l1-45l0-30l1 87l0-103l0-8l1 111l1-94l0-27l1-1l0 10l0 98l2-43l0-64l1 50l0 59l1-13l0 23l1-38l0-13l0 47l1-32l1-20l0 39l0 22l0-15l1-2l1-86l0-13l0 93l0 15l0 5l0-10l0 2l1-87l0-12l0 49l0 23l1 0l0 23l0-7l0-74l0 16l0-19l0 24l0 129l0-10l1-64l0-34l0 11l1 11l0-19l0 75l0 17l1-43l0-26l1-51l0 77l0-18l1 11l1-23l1-22l0-11l1 2l0 107l0-11l1 25l0-141l1 70l0-29l0-15l0 156l0 14l3-206l0 64l0 9l1-81l0 67l1 131l0-142l1 25l0-61l2-11l0 157l0-90l0 11l0-11l1 61l0-78l1 103l0-15l0-24l0 251l0 0l0-360l1 32l0-7l0-13l1 37l0 29l0-28l0 27l0 75l0-151l0-20l1 63l0 45l0-17l1-14l0 105l1 6l1 14l1-113l1 79l1 211l0-270l1-11l0 281l1-280l0-17l0 106l2 0l1-67l1 53l1 71l0 71l1-230l2 116l0-28l0 71l0 71l0-168l4 40l3-30l0-3l2-11l1 51l2-22l2 13l3-32l0-32l0-17l1-113l0 73l1 86l0-170l1 28l0 9l0 44l1 54l1-59l0-15l1 63l0-75l0-19l0 48l1-27l1-3l0-14l1 113l0 188l0-334l0-3l0-1l0 26l0 51l0-8l0-25l0 14l1 199l1-188l2-17l1 11l2-1l0-9l0-18l2 31l1-49l1 61l0-18l1 26l0-38l1 33l1-127l0 124l1 0l0-26l1 15l1-7l0 24l0-16l0 10l0-20l0 24l0-60l0 42l2 7l0-58l1 73l0-14l0-37l0 45l2-18l0 2l0 19l0-15l0 12l0-73l1 49l0-18l0 12l0 15l4-82l2 100l1-10l0-3l0-55l6 4l0-2l0 13l1 2l0-16l1-41l1 34l1 17l0-56l0 37l0 25l3 18l0-21l2-48l0 43l1 39l0-64l0 2l1 19l0 26l0-11l0-16l1 18l0 156l0-181l1 5l1 22l1-30l0 34l0-44l0 171l0-167l0 47l0 9l1-71l0 10l0 11l0 149l1 59l1-21l0 92l1-251l0-14l0-13l0 217l1-192l1 10l0-25l0 15l0-34l0 10l0-11l0 10l2-13l0 2l0 139l1 35l1-196l0 177l1-14l1 198l0-17l1 0l0 17l1-168l0 36l0 82l3-230l1 5l1 204l2-211l1 157l0 44l0-92l1 29l0-65l0-13l1 28l0 4l0 17l1-99l0-22l0 20l1 80l2 15l0-41l2-78l1 108l0-28l0-4l0-49l0-10l1 43l2-33l0-25l0-12l0 15l0-23l0-20l1 63l1-82l1 48l0-30l1 30l0 65l1-86l1 44l0-14l1-31l0 52l1-25l0-21l2 56l1 9l2-50l1 37l1-59l1 8l1 67l0-3l3-78l1 91l1-89l0 13l1-10l1 85l0-28l0 13l0 11l0-6l0-62l1 51l0-71l3 84l0 13l0-66l1 93l0 7l0-42l0-21l1 6l0-13l0 22l0 12l0-6l0 115l1-131l0-22l0 19l0-14l1 100l0 21l0 161l1-132l0-196l0-5l2 76l0-12l0-56l0-14l1 99l0-11l1-66l0-19l0 18l1 24l0-19l0 26l0-22l1 65l0-28l0 6l2 11l0 24l0-11l0-52l0 13l2 24l0-77l1-4l1 78l0-26l0-28l1-25l0 61l0-32l1-18l0 55l1 26l0-11l0-24l1-18l2 0l0 39l1-33l1-24l0-11l1 86l4-4l2 58l1-37l0 9l2 5l0 5l0 3l0-15l1 23l2 6l0-20l2 16l0-20l1 74l0-53l0-34l1 16l0-12l0 11l0 22l0-13l0 78l1-81l1-15l0 71l0-68l1 114l2-100l2 12l1 27l1 115l0-141l0-12l2 3l2 32l1-112l0 10l0 81l1-66l0 40l0 15l1-23l0 20l0-46l2-22l1 2l0 13l0-17l0 6l1-12l1 81l0-70l1 64l0 11l0-49l0 11l0 18l1-34l0 18l2-67l0-17l0 93l2 20l0-41l0-26l0 56l1-1l0-38l1-4l1 3l1-30l1 29l0-20l1 12l0-3l0 27l0-19l0-16l1 41l0-11l1 58l0-11l0-23l0-42l1 29l0 189l1-204l0-12l5-2l1-5l0 29l1-10l2-5l2-22l1 187l0-194l1 6l0 32l0-15l1 11l0 14l1-43l0 26l0-40l1 26l0 22l1 1l2-9l0 16l1-1l0-14l0-54l1 58l0-57l1 25l0-20l1 14l0 21l0 16l0 11l1-47l0 48l0-11l0 4l1-18l1 22l0-25l1-48l1-10l2 17l1 44l0-28l1 40l0-23l2-51l0 12l1 60l0-12l0 6l0 22l1-14l1 8l1-12l1-11l0-16l0-12l0-2l3 20l0 31l0-10l0 2l0 15l0-49l0-31l0 16l0 58l0-14l0-12l0 11l2 5l0 5l1 4l0 34l0-26l0-81l1 191l0-223l2 103l0 4l0-38l1 13l0 10l1-35l0-13l0 27l1 79l0-163l0 48l0 12l5 43l0-51l2 23l1 91l2-110l0-17l2 23l0-55l1 92l0-23l1 8l0-15l0-20l0 9l1-7l1 68l0-14l1-34l0 27l1-1l1 3l2 19l0-12l1 11l0 34l1-38l1-18l2-3l0-45l0 54l2 10l0 60l1-58l0-40l3 8l0 12l0 13l0 16l2-33l0 2l1 26l1-8l1-31l0 34l0 8l1-74l0-1l0-2l0 10l0 125l0 30l0 98l0-269l2 121l0-59l0 19l1-53l0 187l9-68l1 91l0 81l3-200l0-61l0 113l3 131l1-174l7 51l3 46l4-31l2-73l0 198l3-17l1-127l2 144l5 0l2-104l0 63l1-84l3-20l1-76l2 204l1 0l7 17l0-17l3-64l3-44l0 108l3-228l3-20l0 265l3-121l0-43l3 164l1-181l1 47l3-8l2 61l0 17l0 14l0 50l7 0l10-85l1 68l6-64l3-53l3 13l3 80l2-216l0 45l9 48l1 36l3-27"/></defs>
<use href="#p6" fill="none" stroke="none" marker-start="url(#g)" marker-mid="url(#g)" marker-end="url(#g)"/>
<use href="#p6" fill="none" stroke="none" marker-start="url(#b)" marker-mid="url(#b)" marker-end="url(#b)"/>
<line x1="1136.5" y1="2234.0" x2="1414.5" y2="2234.0" stroke="#2f8ad8" stroke-width="11.2" stroke-linecap="round"/>
<line x1="1863.6" y1="2234.0" x2="2008.4" y2="2234.0" stroke="#2f8ad8" stroke-width="11.2" stroke-linecap="round"/>
<polyline points="1130.0,2093.7 1134.4,2098.0 1138.8,2102.3 1143.2,2106.4 1147.6,2110.4 1152.0,2114.4 1156.4,2118.2 1160.8,2121.9 1165.2,2125.5 1169.6,2128.9 1174.0,2132.3 1178.4,2135.4 1182.8,2138.5 1187.2,2141.4 1191.6,2144.1 1196.0,2146.7 1200.4,2149.2 1204.8,2151.5 1209.2,2153.6 1213.6,2155.6 1218.0,2157.4 1222.4,2159.0 1226.8,2160.5 1231.2,2161.8 1235.6,2162.9 1240.0,2163.8 1244.4,2164.6 1248.8,2165.2 1253.2,2165.6 1257.6,2165.9 1262.0,2166.0 1266.4,2165.9 1270.8,2165.6 1275.2,2165.1 1279.6,2164.5 1284.0,2163.7 1288.4,2162.7 1292.8,2161.5 1297.2,2160.2 1301.6,2158.7 1306.0,2157.0 1310.4,2155.2 1314.8,2153.2 1319.2,2151.0 1323.6,2148.7 1328.0,2146.2 1332.4,2143.6 1336.8,2140.8 1341.2,2137.8 1345.6,2134.8 1350.0,2131.6 1354.4,2128.2 1358.8,2124.7 1363.2,2121.1 1367.6,2117.4 1372.0,2113.6 1376.4,2109.6 1380.8,2105.5 1385.2,2101.4 1389.6,2097.1 1394.0,2092.7 1398.4,2088.3 1402.8,2083.7 1407.2,2079.1 1411.6,2074.5 1416.0,2069.7 1420.4,2064.9 1424.8,2060.1 1429.2,2055.2 1433.6,2050.2 1438.0,2045.2 1442.4,2040.2 1446.8,2035.2 1451.2,2030.1 1455.6,2025.1 1460.0,2020.0 1464.4,2014.9 1468.8,2009.9 1473.2,2004.8 1477.6,1999.8 1482.0,1994.8 1486.4,1989.8 1490.8,1984.9 1495.2,1980.0 1499.6,1975.2 1504.0,1970.4 1508.4,1965.7 1512.8,1961.1 1517.2,1956.5 1521.6,1952.0 1526.0,1947.6 1530.4,1943.3 1534.8,1939.1 1539.2,1934.9 1543.6,1930.9 1548.0,1927.0 1552.4,1923.2 1556.8,1919.6 1561.2,1916.0 1565.6,1912.6 1570.0,1909.3 1574.4,1906.2 1578.8,1903.2 1583.2,1900.3 1587.6,1897.6 1592.0,1895.0 1596.4,1892.6 1600.8,1890.4 1605.2,1888.3 1609.6,1886.4 1614.0,1884.6 1618.4,1883.0 1622.8,1881.6 1627.2,1880.4 1631.6,1879.3 1636.0,1878.4 1640.4,1877.6 1644.8,1877.1 1649.2,1876.7 1653.6,1876.5 1658.0,1876.5 1662.4,1876.7 1666.8,1877.0 1671.2,1877.5 1675.6,1878.2 1680.0,1879.0 1684.4,1880.1 1688.8,1881.3 1693.2,1882.7 1697.6,1884.2 1702.0,1885.9 1706.4,1887.8 1710.8,1889.9 1715.2,1892.1 1719.6,1894.4 1724.0,1897.0 1728.4,1899.6 1732.8,1902.5 1737.2,1905.4 1741.6,1908.5 1746.0,1911.8 1750.4,1915.2 1754.8,1918.7 1759.2,1922.3 1763.6,1926.1 1768.0,1930.0 1772.4,1934.0 1776.8,1938.1 1781.2,1942.3 1785.6,1946.5 1790.0,1950.9 1794.4,1955.4 1798.8,1960.0 1803.2,1964.6 1807.6,1969.3 1812.0,1974.0 1816.4,1978.9 1820.8,1983.7 1825.2,1988.6 1829.6,1993.6 1834.0,1998.6 1838.4,2003.6 1842.8,2008.7 1847.2,2013.7 1851.6,2018.8 1856.0,2023.8 1860.4,2028.9 1864.8,2034.0 1869.2,2039.0 1873.6,2044.0 1878.0,2049.0 1882.4,2054.0 1886.8,2058.9 1891.2,2063.7 1895.6,2068.6 1900.0,2073.3 1904.4,2078.0 1908.8,2082.6 1913.2,2087.2 1917.6,2091.7 1922.0,2096.0 1926.4,2100.3 1930.8,2104.5 1935.2,2108.6 1939.6,2112.6 1944.0,2116.5 1948.4,2120.2 1952.8,2123.9 1957.2,2127.4 1961.6,2130.8 1966.0,2134.0 1970.4,2137.1 1974.8,2140.1 1979.2,2142.9 1983.6,2145.6 1988.0,2148.1 1992.4,2150.4 1996.8,2152.6 2001.2,2154.7 2005.6,2156.6 2010.0,2158.3" fill="none" stroke="#fa0036" stroke-width="14" stroke-linejoin="round" stroke-linecap="round"/>
</g>
<circle cx="2017" cy="1652" r="8.3" fill="#75787c" stroke="#3b8fd9" stroke-width="3"/>
<circle cx="2017" cy="1676.4" r="8.3" fill="#75787c" stroke="#fa0036" stroke-width="3"/>
<text x="2032.0" y="1660.0" font-size="20" font-weight="normal" text-anchor="start" fill="#1a1a1a" textLength="214" lengthAdjust="spacingAndGlyphs">Observed log(Activity)</text>
<text x="2032.0" y="1684.4" font-size="20" font-weight="normal" text-anchor="start" fill="#1a1a1a" textLength="214" lengthAdjust="spacingAndGlyphs">Predicted log(Activity)</text>
</g>
<g font-family="'Liberation Sans', Arial, sans-serif">
<text x="37.0" y="2359.4" font-size="30.5" font-weight="bold" text-anchor="start" fill="#000" >Male 2</text>
<text x="37.0" y="2393.7" font-size="24.4" font-weight="bold" text-anchor="start" fill="#000" textLength="216" lengthAdjust="spacingAndGlyphs">R-squared = 0.33</text>
<line x1="140" y1="2401.5" x2="140" y2="3006" stroke="#a0a0a0" stroke-width="2"/>
<line x1="140" y1="3005" x2="1015" y2="3005" stroke="#a8a8a8" stroke-width="2"/>
<text x="132.0" y="2468.5" font-size="18" font-weight="normal" text-anchor="end" fill="#3a3a3a" >4.0</text>
<text x="132.0" y="2604.0" font-size="18" font-weight="normal" text-anchor="end" fill="#3a3a3a" >3.0</text>
<text x="132.0" y="2739.5" font-size="18" font-weight="normal" text-anchor="end" fill="#3a3a3a" >2.0</text>
<text x="132.0" y="2875.0" font-size="18" font-weight="normal" text-anchor="end" fill="#3a3a3a" >1.0</text>
<text x="132.0" y="3010.5" font-size="18" font-weight="normal" text-anchor="end" fill="#3a3a3a" >.0</text>
<text x="182.6" y="3029.0" font-size="18" font-weight="normal" text-anchor="middle" fill="#3a3a3a" >24</text>
<text x="248.1" y="3029.0" font-size="18" font-weight="normal" text-anchor="middle" fill="#3a3a3a" >36</text>
<text x="313.6" y="3029.0" font-size="18" font-weight="normal" text-anchor="middle" fill="#3a3a3a" >48</text>
<text x="379.2" y="3029.0" font-size="18" font-weight="normal" text-anchor="middle" fill="#3a3a3a" >60</text>
<text x="444.7" y="3029.0" font-size="18" font-weight="normal" text-anchor="middle" fill="#3a3a3a" >72</text>
<text x="510.2" y="3029.0" font-size="18" font-weight="normal" text-anchor="middle" fill="#3a3a3a" >84</text>
<text x="575.7" y="3029.0" font-size="18" font-weight="normal" text-anchor="middle" fill="#3a3a3a" >96</text>
<text x="641.2" y="3029.0" font-size="18" font-weight="normal" text-anchor="middle" fill="#3a3a3a" >108</text>
<text x="706.8" y="3029.0" font-size="18" font-weight="normal" text-anchor="middle" fill="#3a3a3a" >120</text>
<text x="772.3" y="3029.0" font-size="18" font-weight="normal" text-anchor="middle" fill="#3a3a3a" >132</text>
<text x="837.8" y="3029.0" font-size="18" font-weight="normal" text-anchor="middle" fill="#3a3a3a" >144</text>
<text x="903.3" y="3029.0" font-size="18" font-weight="normal" text-anchor="middle" fill="#3a3a3a" >156</text>
<text x="968.8" y="3029.0" font-size="18" font-weight="normal" text-anchor="middle" fill="#3a3a3a" >168</text>
<text x="575.0" y="3076.0" font-size="26.5" font-weight="bold" text-anchor="middle" fill="#000" textLength="169.5" lengthAdjust="spacingAndGlyphs">24-hour Time</text>
<text transform="translate(81.0,2702.2) rotate(-90)" font-size="26" font-weight="bold" text-anchor="middle" textLength="142" lengthAdjust="spacingAndGlyphs">log(Activity)</text>
<clipPath id="c3L"><rect x="141" y="2401.5" width="875" height="604.5"/></clipPath>
<g clip-path="url(#c3L)">
<defs><path id="p7" d="M142 2689l1-86l0 160l0-109l0 64l0 116l0 19l0-114l0-104l0 71l0-39l0-8l1 23l0 66l0-36l0 42l0-126l0 105l0-86l0 79l0 237l0-138l1 84l0-272l0 60l0 101l0 51l1-84l0 88l1-36l0-47l0 9l0-87l1-20l0 130l0 29l0-191l0 205l0-76l0 50l0-104l1 24l0 20l0 123l0-227l0-47l0 255l0-210l0 113l0-25l1 33l0-23l0-149l0 150l0-39l1-64l0-26l0-20l0 87l0 16l1 203l0-308l0 203l0-145l0-23l0 88l0 121l1-114l0-106l1 194l0 71l0-208l0 240l0-243l0 108l0 17l0-138l1 136l0-142l0 75l0-24l1 97l0-102l0-66l0 8l0-10l0 127l1-97l1 254l0-223l0 107l0 35l0-105l0-19l1 192l0-241l0 166l0-170l1 63l0 49l0-104l0-23l0-6l1 36l0 104l0-118l0 154l0-70l0-28l0-35l0 5l1 37l0 9l0-78l0 137l0-39l0 165l0-141l0-12l1-70l0 210l0-94l0-177l0 230l0-43l1 65l0-59l1-51l0 61l1-125l0 67l0 5l0 65l0-183l0-20l1 313l0-204l0 131l0 19l0-166l0 179l1-274l0 127l0-27l0 115l0-78l0-82l1 48l0 16l0-107l1 142l0-2l0-109l0 2l0-6l0-15l0-32l1 168l0-92l0-72l0 11l1-8l0 187l0-194l1 83l0 130l0-176l0-22l0 227l0-116l0-52l1-6l0 214l0-229l0 71l1 73l0-105l1 177l0-221l0-45l0 194l0-31l0 84l0 73l1-263l0 12l0-102l0 22l0 196l1-145l0 70l0-61l0 176l0-70l0-104l1-24l0 183l0-135l0-109l0 132l1-85l0 51l0 175l0-236l0 317l0-328l0 62l0 61l0 76l0-24l0-97l1 118l0 10l0-37l0-73l0-9l0-45l0 7l0 62l1 136l0-63l0-34l0 64l0-8l0-7l1-194l0 168l0-43l0-29l0-69l1 87l0-113l0 120l0-30l1 40l0 111l0-48l0-60l1-32l1-11l0 91l0-60l0 79l0 41l1-161l0 142l0-95l0 195l2-138l0 97l0-81l1-111l0 123l0 69l0-266l1 166l1 31l0-60l0 170l1-175l1 7l0 17l0 78l1-180l0 158l0 14l2-45l0-137l0 117l1-55l0 28l0 173l1-260l1 60l0 90l0 69l1-146l0-58l0 99l1-44l1-17l0-84l0 291l0-73l1-49l0-16l1-8l0-34l0 66l1 41l1-238l0 54l0 147l0 56l0-144l1 4l1 153l0-198l1 144l0 54l1-130l0 36l0-30l1 43l0-169l0 111l1 62l0 45l1 73l1-110l0-16l0-68l0-92l1 213l0-243l0 157l1-4l0-47l1 49l0 88l0-8l0-177l0-35l0-25l1 145l0 73l0 27l0-37l1 15l0-298l0 218l0 75l1-216l0 110l0-25l0-96l0 82l0 26l0-69l0 25l0 108l0-119l0 35l0-43l0 32l0 250l1-256l0 146l0-249l0 60l0-47l0 12l0 123l0 40l0-181l0 160l0 70l0-72l0 65l1 34l1-104l0 13l0-186l0 64l0 82l0 75l0-142l0 164l1-9l0-182l0 85l1-43l0 10l0 146l0-243l0 239l0 16l0-55l0-38l0-138l0 27l0 196l0-11l1-50l0-107l0 68l0-108l0-29l1 98l0 257l0-157l0 84l0-135l0 24l1-60l0 100l0-188l0-28l0 6l0 160l0 35l0-92l0-52l1 303l0-274l0 145l1-217l0 113l0-108l0 231l0-153l0 60l0 71l0 51l0-116l1-98l0 73l0 112l0-171l0 101l0-35l0 215l0-100l0-215l0 169l1-163l0 133l0 50l1-69l0 85l0-83l0-62l0 16l1 51l0 40l0-142l0 195l0-153l0-52l1 186l0 114l0-231l0 121l0-212l0 322l1-264l0-74l0 61l0 155l0-226l0 136l0-58l0-42l1 174l0-86l0 53l1 117l0 13l0-264l0-24l0-14l0 160l0 26l0-201l0 116l1-3l0 145l0-216l0 49l1 49l0-155l0 50l0 156l0-109l1-52l0 7l0-5l0 81l0 145l0-26l0-92l1-50l0-39l0-62l0 52l0 173l0-143l1 55l0-108l0-6l1 79l0 110l0-92l0-85l0 105l0 103l0-163l0-7l0 196l0-213l0 191l0-84l1-35l0-41l0 187l0-140l0-119l0 40l0 185l0-104l1-50l0 108l0-165l0 94l0 151l0-68l0-41l1 15l0-151l1 19l0 156l0-56l0 66l0 41l0-189l1 57l0 192l0-161l0-71l0 138l0-128l0 109l0-178l0 8l0 142l1-63l0-72l0 104l0-68l0 123l0-16l1 77l0-127l0 156l0-108l0-179l0 295l1-196l0 65l1-165l0 189l0 45l0-145l0 115l0 24l0-111l0 130l1-193l0 201l0-72l0-23l0-11l0-87l0 207l0-10l1-12l0-33l0-134l0 154l0-97l0-96l0 67l1-60l0 138l0 48l0-161l0 22l0 80l0 29l0 43l1-49l0 42l0-114l0 29l0-116l1 249l0-90l0 61l0-193l0 66l0 13l1-60l0 174l0-36l0-208l0 105l0-84l1-13l0 88l0 74l0-107l0 22l1 62l0 52l0-75l0 230l0-144l0-13l1-14l0-147l0 200l0 8l1-92l0 51l0-125l0-21l1 197l0-186l0 65l0-17l0 97l0-170l0 47l1 69l0 36l0-112l1-66l0 145l1-57l0 18l0 18l0 75l0 3l0 35l0 5l0-83l1 178l0-255l0 50l0 3l1 129l0-225l0-50l0 200l0-25l0 173l0-194l1 140l0-172l0 97l0-139l0-10l0 178l0-186l0-22l1-9l0 99l0 67l1 151l0-95l0-5l0-103l0-6l0-123l0-11l1 173l0-189l0 120l0-54l0 142l0-42l0 55l1-42l0 107l0-230l0 208l1-270l0 190l0 49l0 16l0-142l0-7l0 145l0-198l1 79l0-47l0 145l0-153l0 62l0-19l1-23l0 142l1-56l0 41l0-213l0 35l0 219l0-105l1 42l0-12l0-36l0-84l0-33l0 142l0-34l0 20l1 78l0-221l0 343l0-54l0-282l0 86l0-27l0 118l1 27l0-47l0 31l0-162l0 200l0 29l0-202l0 183l1-10l0-152l0 105l0-87l0-59l1-52l0 165l0 33l0-40l0 68l1-95l0-125l0 59l0-27l0 82l1 135l0-157l0 176l0-209l0 47l1-65l0 25l0 157l0 26l1-230l0 276l0-19l0-116l0-24l0-84l0 92l0-138l0 192l0-100l0-59l0 310l1-258l0 14l0-92l0 263l1-285l0 203l0-154l0 209l0-242l1-10l0 298l0-185l1-36l0 112l0-77l0-52l0 98l0-58l0 32l1 120l0-157l0-70l0 327l0-306l0-61l1 294l0-237l0 26l0-100l0 120l0-36l0 64l0-8l1 28l0 84l0-122l0 110l0-132l0 83l0-126l0 94l0 225l0-335l1 52l0-8l0-19l0 114l0-155l0 143l0-62l1 111l0 78l0-67l0-41l0 43l0 24l0-7l0-230l1 63l0-32l0 199l0 129l0-153l0-192l1 194l0-218l0 148l0-41l0 152l0-61l1-80l0 251l0-161l0-228l0 348l0-273l1 99l0 35l0-142l0-42l0 364l0-233l1 50l0-59l0-108l0 191l0-127l1 286l0-266l0 103l0 34l0-148l0-59l0 295l0-267l0 137l1-86l0 139l0-226l0 249l0-200l0-48l0 42l1 76l0-24l0 98l0 51l0-277l0 242l0-225l0 279l0-129l1-118l0 14l0 146l0 27l1-79l0 23l0-65l1 127l0-217l0 242l0 110l0-242l0-48l1 142l0-190l0 54l0 80l0 14l0 3l0 87l0-132l1 137l0-202l0-11l0 53l0 126l0-86l0-104l0 178l0 31l1-246l0 108l0-54l0 145l0-23l0 36l0-38l1 50l0 22l0 15l0-184l0 17l0 148l0-59l1-11l0 55l0-100l0 5l0-23l1 32l0 97l1 18l1-80l1 39l1-171l1 136l0-85l1 63l1-18l1 78l0-181l0 124l0 195l1-54l0-122l0 28l1-17l0-73l0 238l1-202l0 49l0-39l2-43l0 235l0-135l1-85l0 88l0-6l1 12l0-149l1 140l0 25l1 29l0-78l0-37l0-47l1-38l0 208l0-27l1-10l1-25l1-16l0 25l0 53l1-68l1 23l0-35l0 58l1-5l0 100l0 0l1-146l0-107l1-28l0 122l0 159l1-41l0-241l0 112l0-25l1 13l0 14l1-70l1 75l0 45l1 118l1-126l0-114l2 122l0-104l0 33l2-29l0 137l0-113l0 99l0-5l1-57l0 22l0-55l1 136l0-87l0-145l1-30l0 206l0 37l1-150l0 77l0 146l0-126l1-22l0 67l1 40l0-153l0-63l1 109l0 22l0-29l1 60l0-40l0-22l1 47l0-19l0-109l0 238l1-41l0-13l0-188l1 45l0 75l1-171l0 83l0 96l0-141l0-49l0 42l0 144l0-221l0 28l1-7l0-6l0 42l0 131l0-182l0 279l0-75l0-19l0 75l0-164l0-11l1-20l0 268l0-132l1-99l0 117l0-8l0-95l0 19l0 52l0-153l2 170l0-95l0-113l0 49l0 94l0 59l1-233l0 213l0 60l0-210l0 103l0-78l0 76l0 56l0-62l0 84l0-116l0-70l1 141l0-79l0 53l0-127l0-6l0 162l0 68l1-35l0-125l0 82l0 25l0-120l0-79l1 123l0 94l0 62l0-298l0 13l1 168l0 68l0-163l0 130l0-144l0 79l0-116l0 144l0 33l1-76l0 106l0 29l0-246l0 251l0-46l0-223l0 46l1 110l0 82l0-122l0 153l1-209l0 204l0-179l0 144l0-6l0 68l1-88l0-170l0 62l0-23l0-35l0 14l0 178l0-105l1 52l0-39l0 146l0-109l0-24l0-47l0 62l0 31l0-47l1-88l0 22l0 91l0 90l1-46l0-121l0 47l0-122l0 36l0 211l0-229l1 79l0-102l0 73l0 164l0-225l1 51l0-25l0 150l0 41l0-174l0 82l1-10l0 69l0-32l0-118l1 169l0-9l0-175l0 216l0-160l0 33l0-116l0 197l0-89l1 91l0-105l0 84l0 65l0-166l0 66l1 49l0-180l0 196l1 135l0-281l0 128l0-2l0 11l0-127l0 125l0 146l0-132l0-27l1 33l0-41l0-32l0-133l0 214l0-125l0-67l0 104l0-12l0 17l1-123l0 195l0-163l0 182l0-31l1-119l0 72l0-41l0-112l0 219l0-165l1 143l0 9l0-165l0 62l0 109l0-59l0 88l1-59l0-23l0-85l0 112l0 155l0-132l0-174l1-10l0 43l0 27l0 23l0 36l0-147l0 173l0-35l1 61l0 81l0-97l0-170l0 66l1 49l0 96l0-184l0-33l0 115l0 112l0-93l0-171l0 254l1-168l0-64l0 220l0-96l0 89l1-132l0 126l0 25l0-16l0-108l0-7l1 141l0-255l0 70l0 163l1-180l0 122l0-134l0 88l0-46l1-60l0 206l0-125l0 210l0-103l1-40l0 58l0-68l0-96l0 146l1-216l0-11l0 64l0-15l0-15l0 75l0 70l0 57l0-260l0 395l0-187l1 41l0-152l0 89l0-136l0 250l1-258l0 137l0-66l0 134l0-88l1-11l0 147l0-65l0 47l1-149l0 97l0-197l0 93l0-55l0 72l0-36l0-23l0 88l1-125l0 253l0-32l1-127l0 1l0-50l0-8l0 78l1 9l0-13l0 58l0-126l0-31l0 126l0-135l0 99l1-84l0 159l1-106l0-44l0 153l0-115l0 121l0 32l0-185l1 210l0-188l0 23l0 42l0 233l1-144l0-2l0-42l0-68l1 175l0-157l0 37l0 15l0-79l0-40l0 179l0-79l0 17l1 188l0-146l0-79l0 171l1-130l0 0l0 17l0-76l1-70l0 259l0-280l0 155l0-90l0-12l0-5l0 151l0-22l0 57l0-200l0 6l1-60l0 189l0-44l0-43l0 93l0-60l1-109l0 247l0-242l0-26l0 214l0-9l1-120l0-64l0 68l0 76l0-116l0 135l1-41l0 53l1-134l0 11l0 125l0-51l0 80l0-192l1 161l0-95l0-17l0-17l0 68l1-89l0 13l0 36l0 14l0-93l0 127l0-137l0 217l1-170l0 186l0-36l1 5l0 100l0-94l1-174l0 187l0-216l0 146l0 54l0 57l0-281l0 103l0 149l0-161l1 38l0-82l0 315l0-324l0 99l0-131l0 246l1-77l0 87l0-153l0 102l0 25l0 53l1-120l0-20l0 118l0-236l0 90l0-47l0-56l0 125l0 119l0-180l1-15l0 144l0-152l0 110l0 52l1 31l0 110l0-100l0-210l0 166l1-26l0-12l0-18l0 100l0-103l0-58l0-99l1 250l0-230l0 151l0 16l0-58l0-41l1 177l0-88l0-136l0 193l0-129l1 123l0-27l0-172l0 290l0-200l0-51l0 14l0 89l0 51l0-87l0 84l0-212l1 221l0-172l0 55l0 101l1 48l0-55l0-130l0 72l0 72l0-95l0 34l0 202l0-312l1 149l0-180l0 76l0 167l0-162l0 140l0-187l1 161l0-89l0-23l0-43l0 203l0-86l1-63l0 114l0-143l0 94l0 74l0-143l0-62l0 32l0 202l0-90l1 33l0-154l1 219l0-95l1 58l0-180l0 101l1-147l0 336l1-171l0-8l1-103l1 282l0-122l0-76l1-83l0 122l1-11l0-20l0 46l0 144l1-179l0-184l1 93l1-101l0 298l0-37l0-85l0 195l1-302l0-84l0 332l1-72l1-175l0 260l0-112l1 153l0-41l1-85l0 26l0-229l0 83l1 173l1-65l0-101l0 113l1 53l0-27l1-90l1 80l1 69l1-254l0 163l0 59l1-27l0-86l1 186l0 0l1-253l0 51l1 54l0-126l0 233l1-160l2 11l0-47l0 64l1 44l1 7l0 49l0 73l1-300l0 38l0 61l1 63l0-57l1-58l1 96l0-38l0 15l1-9l0 41l0-120l1 214l0-56l1 110l0-193l1 22l1-100l1-39l0 166l1-26l0 52l1-20l0 12l0-171l1 202l1-49l0-32l1-123l1 113l0 145l0 41l1-200l0 146l1-260l0 30l1 100l1 184l0-176l1-145l0 22l0 158l0-12l1 153l0-176l0-120l0 106l1-33l0 150l1-107l0-153l0 86l0-114l0-6l1 367l0-301l0-35l0 110l0 126l0-224l0-25l0-34l0 99l0 31l0-122l1 142l0 233l0-330l0 122l0 15l0-68l0 20l0-146l0 306l0-196l0-16l0 147l0-163l1 144l0-106l0 271l0-135l0 13l1-4l0-27l0-65l0 164l0-262l1 134l0 72l0-43l0-205l0 191l1 23l0-54l0-154l0 26l0 212l0-15l0-117l1-36l0 26l0 97l0 11l0 22l0 26l0-205l0 14l0 156l0-76l0 211l1-182l0-162l0 226l0-203l0 211l1-202l0 177l0-49l0 21l0-31l0-105l0 36l0 59l1 22l0-52l0 124l0-112l0-18l1 102l0-205l0 69l0-58l0 237l0-31l1 4l0-51l0-143l0 35l1 23l0 91l0 67l0-226l0 79l0 247l0-81l0-37l0-150l0-73l0 49l1 63l0 27l1 35l0 57l0-8l0-26l0-159l0 130l0-29l0-85l1 63l0 129l0-43l0 12l0-70l1-42l0 128l0 10l0-104l0 33l0-148l0 109l0-123l0 21l1 186l0-124l0 93l0-118l0 120l0 155l1-41l0-305l0-9l0 93l0 152l0-31l0-90l0-67l1 169l0-197l0 231l0 0l0-40l0 94l1-134l0-114l0 46l0 105l0-144l0 119l0 109l0-92l0-5l1-70l0 43l0-36l0-91l0 126l1-76l0-111l0 140l0-63l0 179l1-231l0-6l0 190l0-127l0-16l0 91l0 48l0-29l0-39l0-86l1-34l0 161l0-141l0 8l0 71l1 77l0-64l0-36l0-11l1-9l0 82l0 22l0 75l0-237l0 16l1 130l0-97l0 82l0-25l0 104l1-26l0 29l0 16l0 49l0-205l0-78l0 100l1 99l0-77l0-76l0 48l1 22l0 52l0-155l0 156l0 20l1 167l0-267l0 132l0-90l0 14l0-78l1 138l0-207l0 31l0-11l0 65l0-77l0 48l0 58l0-86l1-18l0 207l0-109l0-113l0 322l0-77l1-33l0-87l0 27l0-87l0 298l1-226l0 37l0 148l0-321l0 73l1 22l0 58l0-30l0 166l0-37l0 29l0-268l0 126l1 17l0-7l0-64l0 32l0 13l0-55l0-74l0-6l1 367l0-309l0-28l0 178l0 49l0-72l0-85l0-49l0-38l0 133l0-78l0-29l0 89l1-133l0 215l0 84l1 73l0-110l0-142l1 99l0-105l0-46l0 139l0 111l0-56l1 15l0-114l0-70l0-12l0 140l1 70l0-253l0 202l0-120l0 32l1-68l0 6l0 60l0-21l0 43l0-124l1 176l0-60l0-77l0-42l0 14l1 272l0-285l0 142l0 25l0-157l1 96l0 49l0 71l1-221l0 125l0-52l0-47l0-57l0 195l0-117l0 68l0-61l1-47l0 73l0 62l0-76l0-73l0 102l0-82l0 26l1 201l0-98l0 9l1-92l0 189l0-229l0 127l0-45l0-69l0 91l1 80l1-70l0 66l0-10l0-146l0 164l0-206l1 25l0-55l0-6l0-23l0 43l0 218l0-88l0 88l0-227l1 113l0-34l0-45l0 127l0-4l0 134l0-56l0-16l0-100l0-14l1-43l0 116l0-22l0-68l0 98l1-143l0 110l0-188l0 133l0 79l0 58l0-178l0-84l0 217l0-176l1-30l0 146l0 60l1-133l0-66l0 313l0-88l0-176l0 13l0 122l0-132l1-52l0 97l0-79l0 37l0 75l0 110l1-133l0-37l1 116l0-210l0 79l0-29l0-43l0 41l1 111l0-131l1 68l0 28l0 48l0 125l0-252l0-48l0 340l0-320l0 226l0 17l0-224l1-9l0 121l0-139l0 23l0 236l0-16l0-147l0-64l0-24l1 140l0 99l0-202l0 69l1 50l0 124l0-137l0-146l0 112l0-22l0-73l1 168l0-101l0 170l0-187l0 179l0-168l1 48l0-70l0 186l0-193l0 91l0-110l0 6l0 118l0-165l0 130l0-24l0-85l1 354l0-216l0 121l1-95l0-72l0 105l0-103l0 150l0-211l0 9l0-14l1 188l0-68l0-78l0 284l1-254l0 159l0-70l0-45l0-104l0-22l0 120l1-25l0 84l0-123l0 180l0-122l0-80l1-39l0 53l0 247l0-283l0 202l0 12l0 110l0-274l0 43l0-32l0-69l1 85l0 96l0-33l0-110l0 159l1-20l0 33l0-133l1-61l0 145l0-21l0-19l0-25l0 236l1-225l0 130l0-56l0-155l0 116l0-79l0 215l0-148l1 67l0-221l0 238l0-20l0 138l1-157l0-141l0 54l0 134l0-94l1 78l0-15l0-79l0 61l0 41l0 18l1-89l0 13l0-56l0-27l0 80l0-107l0-24l0 30l1-41l0 203l0-97l0 17l0 50l0-144l0 141l0 41l1-195l0 96l0 87l0-128l0 24l1 116l0-12l0 27l1-215l0 159l0 19l0-56l0 93l0-5l1-165l0 83l0 41l0-5l0-92l0-34l1 40l0-86l0 113l0 95l1-16l0-120l0 78l0 68l0-38l1 138l0-287l0 67l0-81l0 169l0 14l0-93l1-69l0-13l0 252l0-59l0 46l0 54l0-317l1 91l0-32l0-117l0 25l0 232l1-77l0-147l0 210l0-135l0-42l1 191l0-87l0-122l0 111l1-46l1 152l1-82l0 111l1-86l0-35l0 121l0-225l0 306l1-294l0 141l1 43l0-57l0-71l1 10l0 93l0-13l0 148l0-81l3-158l0 78l2 13l0 107l0-32l0-201l1 123l0-69l2 94l0-27l1-36l0-70l1 118l0 100l1-54l1-145l0 108l1-62l1 56l0-6l2-71l1 42l0 73l0-82l0-79l0 90l1-187l0 51l0 104l0-52l1 54l0 53l0-189l0 122l0-38l1 33l0-89l0 66l0-29l0 272l0-286l0 79l1 75l0-9l0-111l0 134l0-212l0 204l0 72l0 54l0-264l0 37l1 66l0 4l0 2l0-60l1 29l0 64l0-136l0 24l0 139l0-43l0-156l1-7l0 19l0 89l1-11l0 16l0 40l0-180l0 214l0-204l1 208l0-58l0-157l1 54l0 30l0 241l0-209l0 38l0-156l1 148l0-7l0-35l0-57l0 13l0 102l0-64l0 45l1 15l0-88l0-31l0 191l0-43l0-97l0 194l0-208l0 81l1-2l0 41l0-162l0-22l0-34l0 133l0 24l0 39l1 41l0-208l0 113l1 42l0 37l0-143l0 125l0-158l1 119l0-58l0 115l0-44l0-5l0-166l0 61l0-69l1 176l0 32l0-14l0-178l0 195l0-188l0-38l0 138l0 126l1-159l0-50l0-64l0 263l0-74l0 31l1-6l0-222l0 211l0 170l0-394l0 235l0 18l0-74l0-78l0 198l1-154l0-111l0-6l0 160l0 133l0-117l0 76l0-121l1 82l0-49l0 161l0-275l0 46l0 270l0-184l0-2l0 68l1-229l0 215l0 59l0-190l0 163l0-230l0 54l1 78l0-140l0 228l0-193l0 48l0 255l0-310l1 70l0-81l0-55l0 266l0-43l0-72l0 70l1 55l0-46l0-24l1-41l0 58l0 80l0-173l0 124l0-96l0-143l0 69l1 192l0-103l1 71l0-47l0-166l0 235l0-164l0-33l0-18l0-10l0-19l1 68l0 125l0 80l0-289l1 177l0 93l0-128l0-29l0 94l0-136l0 170l1-109l0-28l0 134l0-72l0-76l1 33l0 82l0-185l0 166l0 70l0 41l1-147l0 125l0-116l0-130l0 195l0-218l0 33l0 99l1-59l0 120l0-138l0 36l1 72l0 55l0 105l0-276l0 173l0-115l0-66l0 190l1 13l0-4l0-20l0-79l0 152l0-164l0 127l0-226l1-33l0 243l0-236l0 308l0-230l1-37l0-7l0 127l0 79l0-92l0 7l0-93l1-15l0 10l0 35l0 49l0 140l1-99l0 27l0-92l0-75l0 191l0-124l0-48l0 160l0-135l0-78l0 123l1 13l0 123l0-246l0 47l0-17l1 107l0 34l0-66l0-99l0 235l0-41l1-126l0 167l0-230l1 235l0-190l0 204l0-128l0 74l0 6l0-63l0 138l0-207l1 188l0-200l0 147l0-27l1-193l0 93l0-37l0 180l0-45l0-168l0 18l0 59l0-94l1-59l0 299l0-271l0 7l0 242l0-58l0 45l0-95l0 9l1-79l0 85l0-143l0 191l0-112l1 225l0-101l0-155l0 74l0 69l0-101l1 168l0-162l0-73l0 129l0-36l0 124l1-79l0 26l0-18l0 60l0 56l0-95l0-127l0 195l0-186l1 61l0 47l0 43l1-120l0-92l0 45l0 118l0-177l0 215l0-250l0 66l0 198l1 14l0-97l0-140l0 202l0 58l0-107l0 22l0-160l1 21l0-49l0 122l0 146l0-171l0 103l0-19l1 43l0-166l0 78l0 132l0-51l0 56l0-183l1-97l0 51l0 73l0 119l0-71l0-56l0 141l1-45l0 63l0 100l0-292l0 139l0-36l0-31l0-115l1 209l0-178l0-42l0-5l0 219l0-166l0 116l0 15l1 38l0-46l0 65l0-219l0 168l0 39l1-26l0-169l0 52l0 52l0-69l1 100l0 4l0-50l0 228l1-255l0 76l0-96l0 68l0 59l0-97l0-77l0 149l0-2l1-1l0 54l0-64l1-53l0 101l0-82l0-84l0-44l0 238l0-79l0 54l1-176l1 85l0-78l0 96l0-21l0 229l0-182l0 38l1-72l0-96l0 157l0-188l0 76l0 87l1 51l0-124l0-71l0 243l0-235l0 30l0-45l0 142l0-90l1 32l0 36l0-24l0 89l0-150l0 296l1-302l0 147l0 4l0-107l0-112l0 248l1-151l0-35l0-32l0 286l0-145l0 118l1-80l0-55l0-130l0 305l0-143l0 58l1-156l0 182l0-221l0 57l0 41l1 223l0-176l0-55l0-119l0 60l0 129l1-135l0 296l0-237l0 196l0-59l0-146l1 39l0-130l0 296l0-292l0 201l0-180l0-14l1 147l0-71l0 14l0 141l0-176l1 190l0-67l0-132l1 125l0-47l0 121l0-237l0 56l0 152l0-176l0 67l1-22l0-33l0-31l0 305l0-312l0 44l1 42l0-23l0-49l0 257l0-85l0-106l1 64l0-151l0 197l0-85l0-48l1-38l0 155l0-33l1-161l0 159l0 173l0-344l0 26l1 174l0 144l0-348l0 131l0-109l0 89l0-27l1 142l0 81l0-124l0-14l0-107l0 10l1-61l0 199l0 138l1-229l0-83l0 90l0-21l0 76l0-85l0-51l1 5l0 188l0-80l0 72l0-93l1-140l0 164l0-12l0-143l1 18l0 243l0-236l0 317l0-330l0 212l0-11l1-74l0-84l0-6l0 78l0 115l0-26l1-210l0 138l0-160l0 317l0-160l0-55l0-13l0 155l0-125l0-8l0-103l1 49l0 144l0-19l0 76l0 27l0-191l1 56l0-18l0 112l0-196l0 178l0-215l0 347l0-118l1-49l0-3l0-155l0 142l0 61l1-210l0 191l0-177l0 98l0-121l0 109l1-43l0 105l0 116l0-46l0-114l0-74l1 288l0-81l0-95l0-77l0 69l0-75l0 70l0-107l0 139l1-43l0 90l0 15l0-171l0-39l0-52l0 257l0-80l1-197l0 263l0-62l0-70l0-90l1 255l0-246l0 90l0 115l0-88l0-156l0 293l1-145l0-8l0 126l1-186l0-33l0 41l0 121l0-19l1 3l0-124l0-44l0 88l0-97l1 240l0-221l0 127l0 75l0-182l1 176l0-6l0-183l0 80l0 60l0-17l0 75l1-37l0 37l0-179l0 44l0 93l0-101l0 52l1-10l0 33l0-90l0 284l0-275l1-44l0 219l0-26l0-221l1-14l0 172l0 79l0-157l0-42l0 209l1-157l0 67l0-57l0 247l0-302l1 102l0 6l0-30l0 37l0-177l0 238l1 126l1-318l0 200l0 45l1-134l1 81l0-173l0 299l1-148l1-19l0 113l0-27l0-227l1-11l0 141l1 178l1-151l0 56l0 14l0-29l0 37l1 73l1-244l0 244l1-122l0-16l0 57l1-161l0 142l1 59l0-54l1-161l1 175l0-67l1-13l0-153l1 273l0-100l1-7l0-145l1 114l1 28l1-134l1 107l0 15l0 163l1-151l0 41l0 29l0-137l1 39l0 50l0-85l0 96l0-33l1-97l0-23l0 76l0 7l0-123l1 211l0-93l0-18l0-123l0 75l0 53l0-128l0 103l0 131l1-178l0 55l0 5l0 100l0-210l0 34l0 43l0-52l0 303l1-168l0 17l0 41l0-90l0 200l1-170l0 26l0-101l0-101l0 147l0 36l0-189l0-6l1 93l0 121l0 34l0-8l0-11l0-169l0-66l0 205l0 11l1-54l0-70l0-35l0-16l0 35l0 78l0 169l1-137l0-189l0 171l0 61l0-93l0 128l0-80l0 66l1-104l0-38l0 19l0-45l0 150l0-70l1 4l0 54l0 30l0-226l0 218l0 81l1-277l0 124l0 19l0-118l0-55l0 267l0-19l1-70l0-141l0 270l0-141l0 182l0-73l0-133l0 152l0-304l0 248l1-51l0 120l0-289l0 89l0 9l0 103l0-256l0 134l0-73l1-44l0 220l0-120l0-8l0 123l0-67l0 139l1-277l0 22l0 226l0-261l0 45l1 216l0-217l0 72l0 92l0-75l0-43l0 48l0-141l1 88l0-33l0 6l0 142l0-182l0 15l1 111l0 62l0-100l0-98l0 215l0-230l0 121l0 157l0-136l0-64l1 52l0 80l0-47l0 89l0-206l0 62l0 80l0 90l0-207l0 101l1 51l0-171l0-22l1-24l0 86l0 18l0-56l0 214l0-255l1 141l0 61l1-52l0-88l0 37l0-102l0 233l0 135l1-215l0-83l0-13l0 311l0-135l1 21l0-102l0-59l0-41l0 123l0-96l0-25l0 64l0-37l0-48l0-6l1 85l0 175l0-151l0-75l0 226l0-240l0 186l0-71l1 133l0-203l0 181l0-5l0-200l0-27l1 217l0-151l0 132l1-162l0 196l0-218l0 109l0-125l0-7l0-26l0 96l0 53l1-18l0 87l1-169l0 77l0-93l0 110l0-86l0 39l0 103l1-94l0 71l0-151l0 167l0-151l0 267l0-19l1-49l0-211l0 333l0-170l0-173l0 4l0 285l0-214l0 44l1-17l0 30l0-100l0 37l0 115l0 18l0-93l1-70l0 41l0 16l0-10l0 139l0-215l0 111l1 12l0-85l0-31l0 191l0-146l0-49l0 189l1-149l0 95l1 195l0-122l0 81l0 41l0-126l0-25l0-89l1-84l0 30l0 150l0-173l1 94l0 55l0 168l0-110l0-93l0-2l0-127l0 15l0 156l1-74l0 51l0 49l0-165l0 46l0 25l0 26l1-59l0-21l0-9l0 76l0-119l1 65l0 270l0-148l0-3l1 97l0-255l0-13l0 184l1-15l0 58l0-89l0 130l0-124l0-61l0 113l1 85l0-152l0-146l0 114l0-52l1-25l0 69l0 43l0-76l0 74l0-97l1-29l0 60l0 177l0-166l0 112l0-69l0 31l1-7l0-152l0 122l0-134l0 234l1-187l0 136l0-147l0 140l0-53l1 92l0 3l0-197l0 95l0 102l1-69l0-108l0 125l0-104l0 131l1-191l0 27l0 205l0-36l0 11l0-153l0 188l0 27l0-181l0-10l0 49l0-25l0 167l1-123l0-78l0 68l0 26l0 62l0-129l1-88l0 167l0 58l0-8l0-191l1 209l0-194l0 105l0-5l0-135l0 188l1 46l0-246l0 114l0 81l0-133l0 19l1 122l0-164l0-21l0 112l0 111l0-51l1-166l0 120l0-73l0 33l0 82l1-195l0 129l0-34l0 120l0-156l1 6l0-26l0 46l0-84l0 118l0 42l0-60l1-82l0 35l0 223l0-233l0 147l1-74l0 44l0-33l0-31l0-59l0-41l1 150l0-23l0 21l0-30l1 27l0-78l0-12l0 172l0-133l1 113l0-172l1 151l0 14l0-154l0 11l0 65l1 11l0-74l1-38l0 52l0 23l1-79l0 109l0 66l0-144l0-64l0 62l0 74l1-15l0 175l0-228l0 113l0-41l0-54l1-51l0 23l0 113l1 30l0-102l0-46l0-12l0 44l0 80l0 72l0-104l1 195l0-100l0-161l0-20l0-24l0 76l0 56l0 79l1-118l0 253l0-294l0 67l0-80l0-44l0 103l0 91l0-63l0-118l0 79l0-88l0 347l1-183l0-58l0-72l0-18l0 290l0-69l1-169l0 108l0-173l0 234l1-12l0-54l0-89l0-84l0 308l0-32l1-111l0 36l0 38l0-96l0 35l0 33l0-25l0 82l1-236l0 27l0-13l0-20l0 166l0 57l1-183l0 107l0-158l0 261l0-115l0 8l0-75l1 35l0 94l0-223l0 161l0-123l0 71l0-37l0 99l1 17l0 20l0 6l0 40l0-51l0 65l0-74l0-57l0-17l1-20l0 139l0-217l1 174l0-114l0-75l0 107l0-114l0 178l0 71l0-14l0 41l0-282l0 149l0 80l0-56l1-7l0-180l0 269l0-188l1-11l0 17l0 136l0-11l0-101l0 163l0-226l1 105l0-9l0-143l0 124l0 96l0-145l0-12l0 305l0-276l1 108l0-85l1-81l0 183l0 41l0-250l0 192l1-42l0-23l0 53l0-132l0 217l0-53l1-22l0-93l0-125l0 41l0 6l0 141l1 62l0 38l0-186l0 286l0-271l0-83l1 151l0-180l0 310l0-248l0-6l0 78l0-43l1 54l0 77l0 51l0-25l0-45l0 23l0-101l0-78l1 157l0-128l0-8l0 38l0 204l0 73l0-221l1 121l0-201l0 91l0 20l0-54l0 112l1-50l0 60l0-31l0-33l0-45l0 16l1-73l0 170l0 118l0-204l0-126l1 131l0-49l0 89l0-19l1 21l1-45l0 92l1-31l0 87l0-194l1-26l0 164l0-38l0-11l1-80l0-20l1 149l0-55l0-127l0 144l1-34l1 38l1 144l0-279l0 150l1-26l0-129l0 162l1-4l0-58l0 143l1-189l0 130l1 100l0-81l0-72l0-143l1 51l0 145l0-55l1 74l0 8l0-56l0-148l0 182l1-154l0 208l1-110l1 29l0-22l0-24l1 168l0-265l1 170l0-73l0-28l0 196l1-141l0-114l1-3l0 185l0-222l1 214l0-51l0-9l0 100l0-73l1-257l0 261l0-127l0-60l1 28l0 23l0 38l0-103l0-22l0-8l0 20l0-5l0 165l0 26l1-152l0-18l0 94l0-108l0 219l0-237l1 167l0-92l0-45l1-11l0 264l0-279l0 168l1 17l0-122l0 39l0-57l0 34l1 56l0-60l0-41l0 299l0-263l1 17l0-40l0 205l0-179l0 206l0-99l1 58l0-193l0 288l0-212l0 66l0-181l1 195l0-125l0 10l0-76l0 95l0 133l1-80l0-170l0 41l1 139l0 165l1-272l0 46l0-68l0 12l0 164l0-103l1-32l0 143l0-185l0 48l0 34l0-1l0 46l1 95l0-203l1 11l0 77l0 74l0-107l1-94l0-1l0 20l0 215l0-135l0 143l1-56l0-128l0 203l0-200l0-48l1 170l0-74l0-65l1 145l0 16l0-116l0-15l0-68l1 105l0-77l0 53l1-37l0 87l0-11l0 48l0-131l0 21l1 170l0-173l0 97l0-86l0-82l1 225l0-164l0 23l0 127l0-83l0-106l0 230l1-75l0-3l0 41l0-198l0 31l0 204l1-242l0-14l0 71l0-44l0 202l0-146l0 11l0 24l0-76l1 63l0-107l0 56l0 221l0-140l0 84l1-181l0-41l0 53l0-45l1 83l0-85l0 3l1 54l0-70l0 141l0 22l0 76l1-193l0 39l0 53l0-125l0 178l1-132l0 46l0 29l0 64l0-167l0 143l0-94l1 33l0 7l0-55l0 26l0-71l0 108l0 29l0 47l1-105l0 114l0-176l0 229l0-257l1 65l0-22l0-53l0 6l1 334l0-114l0-141l0 123l1-65l0-100l0 136l0 51l0-215l1 7l0 145l0-49l0 96l0-109l0 135l0-177l0 48l1 32l0 59l0 24l1-127l0 30l0 70l0-175l1 10l0 168l0-155l0 28l0 147l0-165l0 183l0-151l0 88l0-159l1 227l0-111l0 206l0-184l0 184l1-100l1-18l0-180l0 62l0 88l0-57l0 83l0-159l1 12l0 44l0-15l1 111l0-162l0 36l0 102l0-159l1 239l0-41l0-102l0-24l1 99l0-145l0 24l0 38l0-48l1 99l0 25l0-147l0 254l0-69l0-49l0-41l0 45l1-124l0 28l0 110l0 6l0-97l1-69l0 163l0 38l0-78l0-31l0-100l1 107l0 92l0-58l0-99l1 22l0 80l0-50l0-69l0 146l0 12l0-44l1 170l0-110l0-63l0-85l1-38l0 170l0-6l0-66l0-112l0 88l0 100l0 122l0-110l0-31l0-58l1-1l0-79l0 74l0-28l1-101l0 154l0 36l0-175l0 131l1 56l0-194l0 147l0-108l0 23l1 264l0-178l0-77l0-49l0 108l0-15l0 24l0-2l0-166l0 158l1-85l0 62l0-157l0 178l0-12l0-1l0-31l0 133l1-122l0-104l0 336l0-54l0-242l1 33l0 122l0-94l0-57l0 14l1-1l0 198l0 81l0-324l0 165l0-160l1 46l0 37l0 71l0-44l1-49l0 107l0-6l0-70l0-16l0-91l0 38l0 106l0-91l0-31l1 48l0 49l0-129l0 42l0 158l0-19l1 63l0-222l0 35l0 141l1-53l1-52l0-19l0 129l0-14l0 33l0 68l1-181l0 91l0-76l0-9l0 22l0-59l0 148l1-172l0 94l0-49l1-38l0 65l0-85l0 230l1-265l0 2l0 30l0-30l0 30l0 196l0-135l1-89l0 216l1-77l0-45l0 85l0 45l1-138l0-16l0 97l0-55l0-33l0 182l0-45l0-111l1 19l0-108l0 36l0-14l0 102l0 65l0-54l1 48l0-139l0 115l0-129l0 137l0-170l0 10l1 230l0-84l0-2l1-185l0 20l0 145l0-118l0 89l0 116l0-35l1 3l0-103l0 194l0-226l0 157l0-38l1 38l0-231l0 62l0 50l1 148l0-242l0 7l0 61l0 33l0-67l1 145l1 71l0-49l0-125l0 96l0-56l0 107l0-203l0 64l0 91l1-115l0 153l0-80l0-160l1-9l0 22l0 148l0-105l0 17l0 133l1-165l0-17l0 42l0 284l0-73l1-227l0 182l0-93l0-105l0 216l0-234l0 181l0-171l0 18l0 25l1 281l0-236l0 155l0-188l1 16l0 30l0 79l0-74l0-24l0 142l0-104l1 66l0 138l0-110l0-16l0-162l0-29l0 121l1-107l0 230l0-201l0-21l0 195l0 59l0-223l1 169l0-100l0-16l0-38l1 81l0-40l0-7l0-3l0 218l0-161l0-197l0-2l0 78l0 19l1 131l0-117l1-102l0 110l0-36l0 20l0-54l0-17l0 206l1-183l0 146l0-111l0-69l0 121l0 13l1-115l0 34l0 93l0 93l0 27l0-162l0 45l0-35l0 68l0-21l0-167l0 48l1 243l0-307l0 210l0 110l0-77l1-130l0 62l0-157l0 270l0-90l0 41l1-57l0 179l0-138l0 20l0-213l0 119l0-29l1 78l0 37l0-64l0 95l1-70l1-29l1-116l0 172l0 9l1 129l0-81l0-63l1 9l1-41l1-99l0 234l0-81l0-26l0 148l1-305l0 161l1-209l0 112l1 119l0 49l1-86l0-129l0 288l1-122l2-22l1-185l0 191l1-15l0-133l1 286l0-110l2-69l0 138l0-85l0-98l1-6l1-106l0 226l1-69l1 138l0-178l0 51l0-32l0 105l2 95l1-201l0 72l0-67"/></defs>
<use href="#p7" fill="none" stroke="none" marker-start="url(#g)" marker-mid="url(#g)" marker-end="url(#g)"/>
<use href="#p7" fill="none" stroke="none" marker-start="url(#b)" marker-mid="url(#b)" marker-end="url(#b)"/>
<line x1="142.2" y1="3004.0" x2="544.6" y2="3004.0" stroke="#2f8ad8" stroke-width="11.2" stroke-linecap="round"/>
<line x1="561.0" y1="3004.0" x2="645.6" y2="3004.0" stroke="#2f8ad8" stroke-width="11.2" stroke-linecap="round"/>
<line x1="653.3" y1="3004.0" x2="791.4" y2="3004.0" stroke="#2f8ad8" stroke-width="11.2" stroke-linecap="round"/>
<line x1="796.9" y1="3004.0" x2="820.3" y2="3004.0" stroke="#2f8ad8" stroke-width="11.2" stroke-linecap="round"/>
<line x1="830.2" y1="3004.0" x2="1009.8" y2="3004.0" stroke="#2f8ad8" stroke-width="11.2" stroke-linecap="round"/>
<polyline points="140.0,2668.0 141.5,2668.1 142.9,2668.9 144.4,2670.3 145.8,2672.5 147.3,2675.3 148.8,2678.8 150.2,2682.9 151.7,2687.7 153.1,2693.0 154.6,2698.9 156.0,2705.4 157.5,2712.4 159.0,2719.8 160.4,2727.7 161.9,2736.0 163.3,2744.7 164.8,2753.7 166.2,2762.9 167.7,2772.4 169.2,2782.1 170.6,2791.9 172.1,2801.8 173.5,2811.8 175.0,2821.7 176.5,2831.6 177.9,2841.4 179.4,2851.0 180.8,2860.4 182.3,2869.6 183.7,2878.5 185.2,2887.0 186.7,2895.2 188.1,2903.0 189.6,2910.3 191.0,2917.1 192.5,2923.4 194.0,2929.2 195.4,2934.3 196.9,2938.9 198.3,2942.8 199.8,2946.1 201.2,2948.7 202.7,2950.7 204.2,2951.9 205.6,2952.5 207.1,2952.3 208.5,2951.5 210.0,2950.0 211.5,2947.8 212.9,2944.9 214.4,2941.4 215.8,2937.2 217.3,2932.4 218.8,2927.0 220.2,2921.1 221.7,2914.6 223.1,2907.6 224.6,2900.1 226.0,2892.2 227.5,2883.8 229.0,2875.1 230.4,2866.1 231.9,2856.9 233.3,2847.4 234.8,2837.7 236.2,2827.8 237.7,2817.9 239.2,2808.0 240.6,2798.1 242.1,2788.2 243.5,2778.4 245.0,2768.8 246.5,2759.4 247.9,2750.2 249.4,2741.4 250.8,2732.8 252.3,2724.7 253.8,2717.0 255.2,2709.7 256.7,2702.9 258.1,2696.6 259.6,2690.9 261.0,2685.8 262.5,2681.3 264.0,2677.4 265.4,2674.2 266.9,2671.6 268.3,2669.7 269.8,2668.5 271.2,2668.0 272.7,2668.2 274.2,2669.0 275.6,2670.6 277.1,2672.9 278.5,2675.8 280.0,2679.4 281.5,2683.6 282.9,2688.4 284.4,2693.8 285.8,2699.8 287.3,2706.4 288.8,2713.4 290.2,2720.9 291.7,2728.9 293.1,2737.3 294.6,2746.0 296.0,2755.0 297.5,2764.3 299.0,2773.8 300.4,2783.5 301.9,2793.3 303.3,2803.2 304.8,2813.2 306.2,2823.1 307.7,2833.0 309.2,2842.7 310.6,2852.3 312.1,2861.7 313.5,2870.9 315.0,2879.7 316.5,2888.2 317.9,2896.4 319.4,2904.1 320.8,2911.3 322.3,2918.0 323.8,2924.3 325.2,2929.9 326.7,2935.0 328.1,2939.5 329.6,2943.3 331.0,2946.5 332.5,2949.0 334.0,2950.9 335.4,2952.0 336.9,2952.5 338.3,2952.3 339.8,2951.3 341.2,2949.7 342.7,2947.4 344.2,2944.5 345.6,2940.8 347.1,2936.6 348.5,2931.7 350.0,2926.2 351.5,2920.2 352.9,2913.6 354.4,2906.5 355.8,2899.0 357.3,2891.0 358.8,2882.6 360.2,2873.9 361.7,2864.8 363.1,2855.5 364.6,2846.0 366.0,2836.3 367.5,2826.4 369.0,2816.5 370.4,2806.6 371.9,2796.6 373.3,2786.8 374.8,2777.0 376.2,2767.4 377.7,2758.1 379.2,2748.9 380.6,2740.1 382.1,2731.6 383.5,2723.5 385.0,2715.9 386.5,2708.7 387.9,2702.0 389.4,2695.8 390.8,2690.1 392.3,2685.1 393.8,2680.7 395.2,2676.9 396.7,2673.8 398.1,2671.3 399.6,2669.5 401.0,2668.4 402.5,2668.0 404.0,2668.2 405.4,2669.2 406.9,2670.9 408.3,2673.2 409.8,2676.2 411.2,2679.9 412.7,2684.2 414.2,2689.1 415.6,2694.7 417.1,2700.7 418.5,2707.4 420.0,2714.5 421.5,2722.1 422.9,2730.1 424.4,2738.5 425.8,2747.2 427.3,2756.3 428.8,2765.6 430.2,2775.2 431.7,2784.9 433.1,2794.8 434.6,2804.7 436.0,2814.6 437.5,2824.6 439.0,2834.4 440.4,2844.1 441.9,2853.7 443.3,2863.1 444.8,2872.2 446.2,2881.0 447.7,2889.4 449.2,2897.5 450.6,2905.1 452.1,2912.3 453.5,2919.0 455.0,2925.1 456.5,2930.7 457.9,2935.7 459.4,2940.1 460.8,2943.8 462.3,2946.9 463.8,2949.3 465.2,2951.1 466.7,2952.1 468.1,2952.5 469.6,2952.2 471.0,2951.2 472.5,2949.4 474.0,2947.0 475.4,2944.0 476.9,2940.3 478.3,2935.9 479.8,2930.9 481.2,2925.4 482.7,2919.3 484.2,2912.6 485.6,2905.5 487.1,2897.8 488.5,2889.8 490.0,2881.4 491.5,2872.6 492.9,2863.5 494.4,2854.1 495.8,2844.6 497.3,2834.8 498.8,2825.0 500.2,2815.1 501.7,2805.1 503.1,2795.2 504.6,2785.4 506.0,2775.6 507.5,2766.1 509.0,2756.7 510.4,2747.7 511.9,2738.9 513.3,2730.5 514.8,2722.4 516.2,2714.8 517.7,2707.7 519.2,2701.0 520.6,2694.9 522.1,2689.4 523.5,2684.4 525.0,2680.1 526.5,2676.4 527.9,2673.4 529.4,2671.0 530.8,2669.3 532.3,2668.3 533.7,2668.0 535.2,2668.3 536.7,2669.4 538.1,2671.2 539.6,2673.6 541.0,2676.7 542.5,2680.5 544.0,2684.9 545.4,2689.9 546.9,2695.5 548.3,2701.7 549.8,2708.4 551.2,2715.5 552.7,2723.2 554.2,2731.3 555.6,2739.7 557.1,2748.5 558.5,2757.6 560.0,2767.0 561.5,2776.6 562.9,2786.3 564.4,2796.2 565.8,2806.1 567.3,2816.1 568.7,2826.0 570.2,2835.8 571.7,2845.5 573.1,2855.1 574.6,2864.4 576.0,2873.5 577.5,2882.2 579.0,2890.6 580.4,2898.6 581.9,2906.2 583.3,2913.3 584.8,2919.9 586.2,2926.0 587.7,2931.5 589.2,2936.4 590.6,2940.7 592.1,2944.3 593.5,2947.3 595.0,2949.6 596.5,2951.3 597.9,2952.2 599.4,2952.5 600.8,2952.1 602.3,2950.9 603.7,2949.1 605.2,2946.6 606.7,2943.5 608.1,2939.7 609.6,2935.2 611.0,2930.2 612.5,2924.5 614.0,2918.3 615.4,2911.6 616.9,2904.4 618.3,2896.7 619.8,2888.6 621.2,2880.1 622.7,2871.3 624.2,2862.2 625.6,2852.8 627.1,2843.2 628.5,2833.4 630.0,2823.6 631.5,2813.6 632.9,2803.7 634.4,2793.8 635.8,2783.9 637.3,2774.2 638.7,2764.7 640.2,2755.4 641.7,2746.4 643.1,2737.6 644.6,2729.3 646.0,2721.3 647.5,2713.8 649.0,2706.7 650.4,2700.1 651.9,2694.1 653.3,2688.6 654.8,2683.8 656.2,2679.5 657.7,2675.9 659.2,2673.0 660.6,2670.7 662.1,2669.1 663.5,2668.2 665.0,2668.0 666.5,2668.5 667.9,2669.6 669.4,2671.5 670.8,2674.0 672.3,2677.2 673.7,2681.1 675.2,2685.6 676.7,2690.7 678.1,2696.4 679.6,2702.6 681.0,2709.4 682.5,2716.6 684.0,2724.3 685.4,2732.5 686.9,2741.0 688.3,2749.8 689.8,2759.0 691.2,2768.4 692.7,2778.0 694.2,2787.7 695.6,2797.6 697.1,2807.5 698.5,2817.5 700.0,2827.4 701.5,2837.2 702.9,2846.9 704.4,2856.4 705.8,2865.7 707.3,2874.7 708.8,2883.4 710.2,2891.8 711.7,2899.7 713.1,2907.2 714.6,2914.3 716.0,2920.8 717.5,2926.8 719.0,2932.2 720.4,2937.0 721.9,2941.2 723.3,2944.8 724.8,2947.7 726.3,2949.9 727.7,2951.5 729.2,2952.3 730.6,2952.5 732.1,2952.0 733.5,2950.7 735.0,2948.8 736.5,2946.2 737.9,2943.0 739.4,2939.1 740.8,2934.5 742.3,2929.4 743.8,2923.7 745.2,2917.4 746.7,2910.6 748.1,2903.3 749.6,2895.6 751.0,2887.4 752.5,2878.9 754.0,2870.0 755.4,2860.8 756.9,2851.4 758.3,2841.8 759.8,2832.0 761.2,2822.1 762.7,2812.2 764.2,2802.3 765.6,2792.4 767.1,2782.5 768.5,2772.9 770.0,2763.4 771.5,2754.1 772.9,2745.1 774.4,2736.4 775.8,2728.1 777.3,2720.2 778.7,2712.7 780.2,2705.7 781.7,2699.2 783.1,2693.3 784.6,2687.9 786.0,2683.1 787.5,2679.0 789.0,2675.5 790.4,2672.6 791.9,2670.4 793.3,2668.9 794.8,2668.1 796.2,2668.0 797.7,2668.6 799.2,2669.9 800.6,2671.8 802.1,2674.5 803.5,2677.8 805.0,2681.7 806.5,2686.3 807.9,2691.5 809.4,2697.2 810.8,2703.5 812.3,2710.4 813.7,2717.7 815.2,2725.5 816.7,2733.7 818.1,2742.2 819.6,2751.1 821.0,2760.3 822.5,2769.7 824.0,2779.4 825.4,2789.2 826.9,2799.0 828.3,2809.0 829.8,2818.9 831.2,2828.8 832.7,2838.6 834.2,2848.3 835.6,2857.8 837.1,2867.0 838.5,2876.0 840.0,2884.7 841.5,2893.0 842.9,2900.8 844.4,2908.3 845.8,2915.2 847.3,2921.7 848.7,2927.6 850.2,2932.9 851.7,2937.7 853.1,2941.8 854.6,2945.2 856.0,2948.0 857.5,2950.2 859.0,2951.6 860.4,2952.4 861.9,2952.5 863.3,2951.8 864.8,2950.5 866.2,2948.5 867.7,2945.8 869.2,2942.5 870.6,2938.5 872.1,2933.8 873.5,2928.6 875.0,2922.8 876.5,2916.5 877.9,2909.6 879.4,2902.2 880.8,2894.4 882.3,2886.2 883.7,2877.6 885.2,2868.7 886.7,2859.5 888.1,2850.0 889.6,2840.4 891.0,2830.6 892.5,2820.7 894.0,2810.8 895.4,2800.8 896.9,2790.9 898.3,2781.1 899.8,2771.5 901.2,2762.0 902.7,2752.8 904.2,2743.8 905.6,2735.2 907.1,2726.9 908.5,2719.1 910.0,2711.7 911.5,2704.7 912.9,2698.3 914.4,2692.5 915.8,2687.2 917.3,2682.5 918.8,2678.4 920.2,2675.0 921.7,2672.2 923.1,2670.2 924.6,2668.8 926.0,2668.1 927.5,2668.0 929.0,2668.7 930.4,2670.1 931.9,2672.2 933.3,2674.9 934.8,2678.3 936.2,2682.3 937.7,2687.0 939.2,2692.3 940.6,2698.1 942.1,2704.5 943.5,2711.4 945.0,2718.8 946.5,2726.6 947.9,2734.9 949.4,2743.5 950.8,2752.4 952.3,2761.7 953.8,2771.1 955.2,2780.8 956.7,2790.6 958.1,2800.5 959.6,2810.4 961.0,2820.3 962.5,2830.2 964.0,2840.0 965.4,2849.7 966.9,2859.1 968.3,2868.3 969.8,2877.3 971.2,2885.9 972.7,2894.1 974.2,2901.9 975.6,2909.3 977.1,2916.2 978.5,2922.6 980.0,2928.4 981.5,2933.7 982.9,2938.3 984.4,2942.3 985.8,2945.7 987.3,2948.4 988.8,2950.4 990.2,2951.8 991.7,2952.4 993.1,2952.4 994.6,2951.7 996.0,2950.2 997.5,2948.1 999.0,2945.4 1000.4,2941.9 1001.9,2937.8 1003.3,2933.1 1004.8,2927.8 1006.2,2921.9 1007.7,2915.5 1009.2,2908.6 1010.6,2901.1 1012.1,2893.3 1013.5,2885.0 1015.0,2876.3" fill="none" stroke="#fa0036" stroke-width="14" stroke-linejoin="round" stroke-linecap="round"/>
</g>
<line x1="1130" y1="2414.2" x2="1130" y2="3007.3" stroke="#a0a0a0" stroke-width="2"/>
<line x1="1130" y1="3006.3" x2="2010" y2="3006.3" stroke="#a8a8a8" stroke-width="2"/>
<text x="1122.0" y="2480.0" font-size="18" font-weight="normal" text-anchor="end" fill="#3a3a3a" >4.0</text>
<text x="1122.0" y="2613.0" font-size="18" font-weight="normal" text-anchor="end" fill="#3a3a3a" >3.0</text>
<text x="1122.0" y="2746.0" font-size="18" font-weight="normal" text-anchor="end" fill="#3a3a3a" >2.0</text>
<text x="1122.0" y="2879.0" font-size="18" font-weight="normal" text-anchor="end" fill="#3a3a3a" >1.0</text>
<text x="1122.0" y="3012.0" font-size="18" font-weight="normal" text-anchor="end" fill="#3a3a3a" >.0</text>
<text x="1172.7" y="3030.3" font-size="18" font-weight="normal" text-anchor="middle" fill="#3a3a3a" >24</text>
<text x="1567.5" y="3030.3" font-size="18" font-weight="normal" text-anchor="middle" fill="#3a3a3a" >36</text>
<text x="1962.3" y="3030.3" font-size="18" font-weight="normal" text-anchor="middle" fill="#3a3a3a" >48</text>
<text x="1566.0" y="3076.0" font-size="26.5" font-weight="bold" text-anchor="middle" fill="#000" textLength="169.5" lengthAdjust="spacingAndGlyphs">24-hour Time</text>
<text transform="translate(1070.0,2709.2) rotate(-90)" font-size="26" font-weight="bold" text-anchor="middle" textLength="142" lengthAdjust="spacingAndGlyphs">log(Activity)</text>
<clipPath id="c3R"><rect x="1131" y="2414.2" width="880" height="593.1000000000004"/></clipPath>
<g clip-path="url(#c3R)">
<defs><path id="p8" d="M1129 2783l0 16l6 25l3-66l2 168l2-198l0 89l0 3l0-20l1 166l0-226l2 77l2 109l3 40l0-214l2-10l2 107l2 77l1-53l0 93l1-236l2 38l0-21l3 139l1-162l0-14l0-81l1 20l0 68l1-77l0 11l0 0l0 42l1 2l0 16l0 12l3 190l0 53l1-161l0 17l0-18l0-131l1 114l1-55l0 35l0 37l0-14l0-114l1 88l2 23l0 35l0-170l1 171l1-66l0 34l0 11l0 22l1-47l0 32l0-150l0 94l1-99l0 163l0-8l0-157l2 163l0-16l0 1l0 22l0-174l2 205l2 14l4-100l6 199l1-73l6 73l1-200l0 107l2-23l3-61l1 137l1 40l8 0l8-327l0 47l0 5l0 25l3 43l0 57l6-60l1 41l0 169l2-159l8 106l3 13l1-40l0 7l2-132l1 48l2-36l0 24l0 33l10 136l4-206l3 206l6-183l1 183l4 0l2-197l7 5l1 47l13-168l0 37l2-34l0 270l1-160l7-45l0 205l2-113l1-67l0 121l0 46l1-27l2-156l0 94l0 89l1-80l2 133l0-40l3-13l1-46l3 46l0 53l0-40l3-217l0 107l1 77l0 20l3-163l0 117l0 99l0-40l7-166l7 126l2-90l1-45l12-17l2 192l12-142l0 182l7 0l4 0l9-265l0 185l6-169l1-27l0-16l0 91l1-32l3 8l3 116l1-110l1 44l1-55l1-56l0 53l1 38l0-2l0-16l0-5l0 14l0-68l1-55l1 106l3 11l1 6l0 5l1-1l1 38l0-48l2-21l3 23l2 25l1-26l1 110l1-199l0 26l1-63l1 106l1-31l3-28l1-9l0 21l1 26l0 13l1 184l0 53l3-194l0-13l1-60l1 63l1-52l0 33l0 18l0 245l2-176l0 136l1-242l2 39l4-48l0-25l0 21l2 13l1 242l1-226l3-59l0 325l0-205l2-69l1 154l2-119l0-5l1-60l2 48l0-105l1 93l0-12l0-12l0 11l0 17l1-73l0-13l1 85l1 27l0-11l0-125l0 151l1-72l0 16l0 239l1-196l1-50l0-70l1 85l0 151l1-222l1 137l0-150l2 222l1-119l0-10l0 12l0-45l1-75l0 11l2-13l0 112l0-96l1 18l0-25l0 22l2 94l1 127l0-234l1 92l0 11l0 112l0 59l1-280l0 10l0 102l1-118l0 24l0 12l0 12l1 318l1-226l2 50l0-60l1 80l0 116l1-326l0 8l0 92l2-90l0 356l0-149l1-178l2 87l1-22l1-18l3-28l0 15l0 20l0-27l3 26l0 33l0-50l1-35l1 48l1-9l3 9l1-56l2 38l0-19l0 24l0-21l0-2l3-13l4 19l3 12l1 38l0-73l1 60l1-36l1 49l0-60l1 13l0-10l1 12l1-79l0 109l0 12l0 17l2-38l1-111l2 57l0 41l0-46l2 94l0 13l0-47l0-13l2 43l1 1l2-82l0 23l0 74l0-23l1-79l0 10l0 12l0 75l1 5l1-162l0 21l1 33l0-26l0-14l0 20l0 16l0-37l1 17l0 158l0-24l0-11l0-55l1-62l0-26l0 3l1 90l0 104l1-197l0-13l0 96l0-85l1 155l0-54l0 11l1-76l0 66l0 33l0-89l1 6l0-25l0-11l0 0l0 26l1 214l1-217l0 18l0 17l1 182l1-195l0 8l0 15l0 34l0-22l0-44l1-30l0-5l0 131l0 2l0-13l1-63l0-12l1 55l0-67l1 73l0-21l0-79l0 93l1-84l0 15l0 18l0 10l0-12l2 14l0-75l2 53l2-40l3-20l0 21l1 130l1-77l0 98l0-7l0 72l2-101l1-96l0 134l2-165l1 35l0 14l3 26l1 6l0-75l0 19l1 66l1 294l0-349l0 18l1 182l0-146l0 15l0-20l0-12l0-34l1 42l2 17l0 51l0-41l1-104l0 12l1 74l0 19l1-45l0 12l0-13l0 69l0-15l0-18l0 4l1-80l1 3l0 96l0 32l2-49l0-18l1 54l0-12l0 21l1-54l1 156l0-161l0 5l1 12l0-74l0 311l1-205l1-82l1 51l0-11l0-11l0 25l0-14l1 65l1-41l1 6l0-45l0 118l0-99l1 37l1-67l0 313l0-345l0 4l1 301l0-153l1-127l0-11l0 9l0 50l1-104l0 20l0 32l0 24l2 136l0 43l0-245l0-20l0 14l0 223l1-148l1 13l0 145l1-62l0 17l0 50l0 21l0-26l1-140l1 158l0-172l0-56l0-13l0 120l0-14l0-12l0-14l1 242l0-73l0-58l0 10l1 22l0-165l0-11l0 16l5 26l0 10l1 87l0-65l0-13l0-15l1-43l0 83l1-90l0-48l0-18l1 161l1-54l0-20l1-43l4-36l1 107l2-79l0 95l0 15l0-119l3 26l1 193l1-75l0 8l0-12l0-75l0 132l0-13l0 25l2-158l0-32l0 29l0 14l1 216l0-53l0-135l1 36l1-108l1 120l2-154l0 39l1 335l1-312l2-71l0 37l1 121l1-161l1 70l0-24l0-5l0-10l0 34l2-44l1-10l1 45l1 102l0-147l1 42l1-60l1 71l0-64l0 18l0 368l1-383l1-8l0 12l0 38l1 100l3-127l1 82l0 17l0-84l1-11l1 119l0 13l0-154l0 5l1 148l1-132l2-18l1 44l2 10l1 88l0-129l2 61l0-17l0-28l1-28l1 55l0-45l0 18l0 16l1 2l0-15l1 61l2-47l0 27l1 34l0 12l0 16l0 13l1-157l1 46l0-33l2 134l0 15l3-106l0 15l1-61l0 47l3-54l1 240l4-245l1 6l0 122l0-16l0-77l0 12l1-34l0-7l0 388l1 0l2-295l0-91l1 108l1-84l0-11l0 26l0 11l0 19l1-77l0 14l1 380l1-386l1 49l0 15l0-10l1-46l0-13l0 19l0-18l1 96l0 105l1-115l1 143l1-149l0 197l0-26l1-254l0 12l1 91l0-49l0 19l0-64l0-6l0 4l1 6l1 70l1 270l1-337l0-11l0 15l0-22l1 74l0 47l0-21l0 31l1-127l0 17l0 126l1-66l0 11l0-82l0-9l0 30l1 243l0-13l0-19l0-131l1 7l0-92l0-24l0 159l0-17l0 22l0-160l1 210l0 15l0-18l0-15l0-156l0-17l0 28l0-12l0-11l0-15l1 0l0-1l0 381l1-224l1-161l0 68l0 75l1-73l0-9l0-47l0 11l0 22l1 115l1-88l0 36l0-15l0 12l1-54l0 332l0-350l0-37l1 387l1-361l1 109l0-19l1-101l1 91l0 38l0-57l1 161l0-240l0 19l0 12l1-9l0-32l1 120l0-19l0-89l1 221l1 116l0-93l1 133l0-120l1-139l0-20l0-17l0 12l1 135l0 15l0-212l0 20l0-19l0 17l0 20l1 45l0 106l1-158l0 9l1 15l3-81l0 33l0-26l3 99l0-10l0-6l0 18l0 24l0 18l3-36l0-27l0-79l0 13l0-11l1-12l0 121l1-92l0 62l0-24l0 17l1 22l0 19l0 13l0-145l0-13l1 59l0 95l2-62l1-85l0 38l0-46l1 355l1-293l0 220l0-20l1-110l2-122l1 14l0 12l2-10l0-14l0-12l3-18l0 13l0-14l2 149l0 23l2-32l1-27l0 22l2-82l0-23l1 131l0-18l0-15l0-38l0 25l1 0l0-5l1-6l0-9l1-51l0 49l1-40l1 16l1-28l1 91l1 48l0 12l1-69l0-18l1-4l0-17l2 28l0-22l3 6l0-16l2-43l2 63l0 14l0 119l2-140l0 14l2 148l0-10l1-192l0 65l2 115l0 81l0-159l1-75l0 43l0-47l1 182l0-40l1-107l0-26l1 269l1-248l0-9l3 29l1 129l9-189l0-17l0-30l0 12l1 81l0 11l2 62l0 20l0 10l0-23l0 9l0 11l1-61l1-18l0-106l1 27l1 176l1-107l2-70l2-14l0-11l0 210l1-166l0-38l0 178l2-82l0 100l0-173l1 297l0-53l0-40l0-237l0 28l1-8l0 88l1-101l1 243l1-250l0 24l0-13l0-16l0 84l2 24l0-11l0-23l0 148l1 153l2-40l3-93l3-20l0-212l1 14l0 14l0 17l1-33l1 313l1-331l1 5l3 366l0-337l0 67l3-56l4 25l2 7l1-6l3 300l0-288l1 13l1 182l0-222l1 8l0-31l0 19l1-6l0 325l0-113l0-36l3-188l0 21l0 6l0 48l0-11l0 151l2-200l1 229l5-146l0-15l0 3l0-10l1 122l0-25l0-135l0 14l0-11l4-103l0 34l2 231l0-166l1 179l0 8l0-36l0-155l1 183l0-18l0-148l0 247l0-73l0-80l6-176l6 170l3 32l3 127l5-117l0-36l2-90l0 10l0 11l1-20l0 17l2-15l1 30l0-34l0 91l3 153l0-240l1-39l2 166l1-26l2-18l0 13l1-20l0-22l1 186l2-136l0 0l1-28l0-13l0-59l3 34l0-83l0 57l0-20l0 24l3 107l0-4l0 121l1-240l0-7l0 16l0-88l2 169l0-160l2 71l1 41l0-19l0-14l1-13l0 171l1-174l1 247l0-179l0-48l0 5l0-20l2 202l2-119l0 32l0-15l1 29l0-9l0-28l1-83l1 91l0-11l0-96l1 249l1-247l1 78l3 18l0-18l0 23l0 22l1-119l0 22l0 59l0-65l3 227l0-80l0-230l0 23l0 22"/></defs>
<use href="#p8" fill="none" stroke="none" marker-start="url(#g)" marker-mid="url(#g)" marker-end="url(#g)"/>
<use href="#p8" fill="none" stroke="none" marker-start="url(#b)" marker-mid="url(#b)" marker-end="url(#b)"/>
<line x1="1156.2" y1="3005.5" x2="1434.3" y2="3005.5" stroke="#2f8ad8" stroke-width="11.2" stroke-linecap="round"/>
<line x1="1936.0" y1="3005.5" x2="2008.4" y2="3005.5" stroke="#2f8ad8" stroke-width="11.2" stroke-linecap="round"/>
<polyline points="1130.0,2830.0 1134.4,2834.8 1138.8,2839.7 1143.2,2844.5 1147.6,2849.2 1152.0,2853.9 1156.4,2858.6 1160.8,2863.2 1165.2,2867.8 1169.6,2872.3 1174.0,2876.7 1178.4,2881.1 1182.8,2885.4 1187.2,2889.5 1191.6,2893.6 1196.0,2897.6 1200.4,2901.5 1204.8,2905.3 1209.2,2909.0 1213.6,2912.6 1218.0,2916.0 1222.4,2919.4 1226.8,2922.5 1231.2,2925.6 1235.6,2928.5 1240.0,2931.3 1244.4,2934.0 1248.8,2936.5 1253.2,2938.8 1257.6,2941.0 1262.0,2943.1 1266.4,2945.0 1270.8,2946.7 1275.2,2948.3 1279.6,2949.7 1284.0,2951.0 1288.4,2952.0 1292.8,2952.9 1297.2,2953.7 1301.6,2954.3 1306.0,2954.7 1310.4,2954.9 1314.8,2955.0 1319.2,2954.8 1323.6,2954.6 1328.0,2954.1 1332.4,2953.5 1336.8,2952.7 1341.2,2951.7 1345.6,2950.6 1350.0,2949.3 1354.4,2947.9 1358.8,2946.2 1363.2,2944.5 1367.6,2942.5 1372.0,2940.4 1376.4,2938.2 1380.8,2935.8 1385.2,2933.2 1389.6,2930.6 1394.0,2927.7 1398.4,2924.7 1402.8,2921.6 1407.2,2918.4 1411.6,2915.1 1416.0,2911.6 1420.4,2908.0 1424.8,2904.3 1429.2,2900.4 1433.6,2896.5 1438.0,2892.5 1442.4,2888.4 1446.8,2884.1 1451.2,2879.8 1455.6,2875.5 1460.0,2871.0 1464.4,2866.5 1468.8,2861.9 1473.2,2857.3 1477.6,2852.6 1482.0,2847.9 1486.4,2843.1 1490.8,2838.3 1495.2,2833.4 1499.6,2828.6 1504.0,2823.7 1508.4,2818.8 1512.8,2813.9 1517.2,2809.1 1521.6,2804.2 1526.0,2799.3 1530.4,2794.5 1534.8,2789.6 1539.2,2784.9 1543.6,2780.1 1548.0,2775.4 1552.4,2770.7 1556.8,2766.1 1561.2,2761.6 1565.6,2757.1 1570.0,2752.7 1574.4,2748.4 1578.8,2744.1 1583.2,2740.0 1587.6,2735.9 1592.0,2731.9 1596.4,2728.0 1600.8,2724.3 1605.2,2720.6 1609.6,2717.1 1614.0,2713.7 1618.4,2710.4 1622.8,2707.2 1627.2,2704.2 1631.6,2701.3 1636.0,2698.5 1640.4,2695.9 1644.8,2693.5 1649.2,2691.2 1653.6,2689.0 1658.0,2687.0 1662.4,2685.1 1666.8,2683.4 1671.2,2681.9 1675.6,2680.6 1680.0,2679.4 1684.4,2678.3 1688.8,2677.5 1693.2,2676.8 1697.6,2676.2 1702.0,2675.9 1706.4,2675.7 1710.8,2675.7 1715.2,2675.8 1719.6,2676.2 1724.0,2676.7 1728.4,2677.3 1732.8,2678.2 1737.2,2679.2 1741.6,2680.3 1746.0,2681.7 1750.4,2683.2 1754.8,2684.8 1759.2,2686.7 1763.6,2688.6 1768.0,2690.8 1772.4,2693.1 1776.8,2695.5 1781.2,2698.1 1785.6,2700.8 1790.0,2703.7 1794.4,2706.7 1798.8,2709.8 1803.2,2713.1 1807.6,2716.5 1812.0,2720.0 1816.4,2723.7 1820.8,2727.4 1825.2,2731.3 1829.6,2735.2 1834.0,2739.3 1838.4,2743.4 1842.8,2747.6 1847.2,2752.0 1851.6,2756.4 1856.0,2760.8 1860.4,2765.4 1864.8,2770.0 1869.2,2774.6 1873.6,2779.3 1878.0,2784.1 1882.4,2788.8 1886.8,2793.7 1891.2,2798.5 1895.6,2803.4 1900.0,2808.2 1904.4,2813.1 1908.8,2818.0 1913.2,2822.9 1917.6,2827.8 1922.0,2832.6 1926.4,2837.5 1930.8,2842.3 1935.2,2847.1 1939.6,2851.8 1944.0,2856.5 1948.4,2861.2 1952.8,2865.7 1957.2,2870.3 1961.6,2874.7 1966.0,2879.1 1970.4,2883.4 1974.8,2887.7 1979.2,2891.8 1983.6,2895.8 1988.0,2899.8 1992.4,2903.6 1996.8,2907.4 2001.2,2911.0 2005.6,2914.5 2010.0,2917.9" fill="none" stroke="#fa0036" stroke-width="14" stroke-linejoin="round" stroke-linecap="round"/>
</g>
<circle cx="2017" cy="2428" r="8.3" fill="#75787c" stroke="#3b8fd9" stroke-width="3"/>
<circle cx="2017" cy="2452.4" r="8.3" fill="#75787c" stroke="#fa0036" stroke-width="3"/>
<text x="2032.0" y="2436.0" font-size="20" font-weight="normal" text-anchor="start" fill="#1a1a1a" textLength="214" lengthAdjust="spacingAndGlyphs">Observed log(Activity)</text>
<text x="2032.0" y="2460.4" font-size="20" font-weight="normal" text-anchor="start" fill="#1a1a1a" textLength="214" lengthAdjust="spacingAndGlyphs">Predicted log(Activity)</text>
</g>
<g font-family="'Liberation Serif', serif" font-size="60">
<text x="554" y="3207" text-anchor="middle">(<tspan font-weight="bold">a</tspan>)</text>
<text x="1545" y="3207" text-anchor="middle">(<tspan font-weight="bold">b</tspan>)</text>
</g>
</g>
</svg></body></html>
